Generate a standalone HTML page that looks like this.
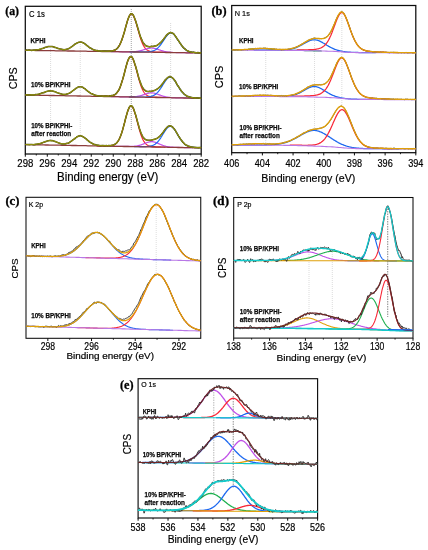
<!DOCTYPE html>
<html lang="en">
<head>
<meta charset="utf-8">
<title>XPS spectra</title>
<style>
html,body{margin:0;padding:0;background:#fff;}
body{width:428px;height:550px;overflow:hidden;}
svg{display:block;}
text{fill:#000;}
.ax{font-family:"Liberation Sans",Arial,sans-serif;stroke:#000;stroke-width:0.18px;}
.lb{font-family:"Liberation Sans",Arial,sans-serif;font-weight:bold;fill:#0a0a0a;stroke:#0a0a0a;stroke-width:0.25px;}
.pn{font-family:"Liberation Serif","Times New Roman",serif;font-weight:bold;fill:#000;stroke:#000;stroke-width:0.3px;}
</style>
</head>
<body>
<svg width="428" height="550" viewBox="0 0 428 550">
<rect width="428" height="550" fill="#fff"/>
<rect x="25.3" y="6.3" width="175.9" height="147.7" fill="#fff" stroke="#0c0c0c" stroke-width="1.25"/>
<line x1="25.3" y1="154" x2="25.3" y2="156.7" stroke="#0c0c0c" stroke-width="1.0"/>
<text x="17.3" y="167" font-size="10.4" class="ax" textLength="16" lengthAdjust="spacingAndGlyphs">298</text>
<line x1="47.29" y1="154" x2="47.29" y2="156.7" stroke="#0c0c0c" stroke-width="1.0"/>
<text x="39.29" y="167" font-size="10.4" class="ax" textLength="16" lengthAdjust="spacingAndGlyphs">296</text>
<line x1="69.27" y1="154" x2="69.27" y2="156.7" stroke="#0c0c0c" stroke-width="1.0"/>
<text x="61.27" y="167" font-size="10.4" class="ax" textLength="16" lengthAdjust="spacingAndGlyphs">294</text>
<line x1="91.26" y1="154" x2="91.26" y2="156.7" stroke="#0c0c0c" stroke-width="1.0"/>
<text x="83.26" y="167" font-size="10.4" class="ax" textLength="16" lengthAdjust="spacingAndGlyphs">292</text>
<line x1="113.25" y1="154" x2="113.25" y2="156.7" stroke="#0c0c0c" stroke-width="1.0"/>
<text x="105.25" y="167" font-size="10.4" class="ax" textLength="16" lengthAdjust="spacingAndGlyphs">290</text>
<line x1="135.24" y1="154" x2="135.24" y2="156.7" stroke="#0c0c0c" stroke-width="1.0"/>
<text x="127.24" y="167" font-size="10.4" class="ax" textLength="16" lengthAdjust="spacingAndGlyphs">288</text>
<line x1="157.22" y1="154" x2="157.22" y2="156.7" stroke="#0c0c0c" stroke-width="1.0"/>
<text x="149.22" y="167" font-size="10.4" class="ax" textLength="16" lengthAdjust="spacingAndGlyphs">286</text>
<line x1="179.21" y1="154" x2="179.21" y2="156.7" stroke="#0c0c0c" stroke-width="1.0"/>
<text x="171.21" y="167" font-size="10.4" class="ax" textLength="16" lengthAdjust="spacingAndGlyphs">284</text>
<line x1="201.2" y1="154" x2="201.2" y2="156.7" stroke="#0c0c0c" stroke-width="1.0"/>
<text x="193.2" y="167" font-size="10.4" class="ax" textLength="16" lengthAdjust="spacingAndGlyphs">282</text>
<line x1="36.29" y1="154" x2="36.29" y2="155.5" stroke="#0c0c0c" stroke-width="0.9"/>
<line x1="58.28" y1="154" x2="58.28" y2="155.5" stroke="#0c0c0c" stroke-width="0.9"/>
<line x1="80.27" y1="154" x2="80.27" y2="155.5" stroke="#0c0c0c" stroke-width="0.9"/>
<line x1="102.26" y1="154" x2="102.26" y2="155.5" stroke="#0c0c0c" stroke-width="0.9"/>
<line x1="124.24" y1="154" x2="124.24" y2="155.5" stroke="#0c0c0c" stroke-width="0.9"/>
<line x1="146.23" y1="154" x2="146.23" y2="155.5" stroke="#0c0c0c" stroke-width="0.9"/>
<line x1="168.22" y1="154" x2="168.22" y2="155.5" stroke="#0c0c0c" stroke-width="0.9"/>
<line x1="190.21" y1="154" x2="190.21" y2="155.5" stroke="#0c0c0c" stroke-width="0.9"/>
<text x="57" y="181.3" font-size="12.3" class="ax" textLength="101.4" lengthAdjust="spacingAndGlyphs">Binding energy (eV)</text>
<line x1="50.59" y1="47" x2="50.59" y2="140" stroke="#c4c4c4" stroke-width="0.6" stroke-dasharray="1 1"/>
<line x1="80.27" y1="42" x2="80.27" y2="135" stroke="#c4c4c4" stroke-width="0.6" stroke-dasharray="1 1"/>
<line x1="131.28" y1="9" x2="131.28" y2="130" stroke="#666" stroke-width="0.6" stroke-dasharray="1 1"/>
<line x1="151.73" y1="43" x2="151.73" y2="143" stroke="#c0c0c0" stroke-width="0.6" stroke-dasharray="1 1"/>
<line x1="170.64" y1="23" x2="170.64" y2="126" stroke="#c0c0c0" stroke-width="0.6" stroke-dasharray="1 1"/>
<path d="M97.5 51.3l.5-0 .5-0 .5-0 .5-0 .5-0 .5-0 .5-0 .5-0 .5-0 .5-0 .5 0 .5 0 .5 0 .5 0 .5 0 .5-0 .5-0 .5-0 .5-0 .5-0 .5-0 .5-0 .5-.1 .5 0 .5-0 .5-.1 .5 0 .5-.1 .5-0 .5-.1 .5-.1 .5-.1 .5-.2 .5-.2 .5-.2 .5-.3 .5-.3 .5-.4 .5-.4 .5-.5 .5-.6 .5-.7 .5-.8 .5-.8 .5-1 .5-1 .5-1.2 .5-1.2 .5-1.4 .5-1.5 .5-1.5 .5-1.6 .5-1.7 .5-1.8 .5-1.8 .5-1.8 .5-1.8 .5-1.8 .5-1.7 .5-1.6 .5-1.5 .5-1.4 .5-1.2 .5-1 .5-.8 .5-.6 .5-.4 .5-.1 .5 .2 .5 .4 .5 .6 .5 .9 .5 1.1 .5 1.2 .5 1.4 .6 1.6 .5 1.6 .5 1.8 .5 1.8 .5 1.8 .5 1.8 .5 1.8 .5 1.8 .5 1.7 .5 1.6 .5 1.6 .5 1.4 .5 1.4 .5 1.3 .5 1.1 .5 1.1 .5 .9 .5 .9 .5 .7 .5 .7 .5 .6 .5 .5 .5 .4 .5 .4 .5 .3 .5 .3 .5 .3 .5 .2 .5 .1 .5 .2 .5 .1 .5 .1 .5 .1 .5 0 .5 .1 .5 .1 .5-0 .5 0 .5 .1 .5-0 .5 0 .5 0 .5 .1 .5-0 .5-0 .5 0 .5 0 .5 0 .5 .1 .5-0 .5-0 .5 0 .5 0 .5 0 .5 0 .5 .1 .5-0 .5-0 .5-0 .5 0 .5 0" fill="none" stroke="#f82838" stroke-width="1.2" stroke-linejoin="round" stroke-linecap="round"/>
<path d="M111 51.6l.5 0 .5 0 .5 0 .5 0 .5 0 .5 0 .5 .1 .5-0 .5-0 .5-0 .5-0 .5-0 .5-0 .5 0 .5 0 .5 0 .5 0 .5 0 .5 0 .5 0 .5 0 .5 .1 .5-0 .5-0 .5-0 .5-0 .5-0 .5-0 .5-0 .5 0 .5 0 .5 0 .5 0 .5 0 .5 0 .5 0 .5 0 .5 0 .5-0 .5-0 .5-0 .5-0 .5-.1 .5 0 .5-0 .5-0 .5-.1 .5-0 .6-.1 .5-0 .5-.1 .5-0 .5-.1 .5-.1 .5-.1 .5-.1 .5-.1 .5-.1 .5-.1 .5-.2 .5-.1 .5-.1 .5-.2 .5-.1 .5-.2 .5-.2 .5-.1 .5-.2 .5-.1 .5-.2 .5-.1 .5-.2 .5-.1 .5-.1 .5-.1 .5-.1 .5-.1 .5-.1 .5-0 .5-.1 .5 0 .5 .1 .5-0 .5 0 .5 .1 .5 .1 .5 .1 .5 .1 .5 .1 .5 .2 .5 .1 .5 .2 .5 .2 .5 .1 .5 .2 .5 .2 .5 .2 .5 .1 .5 .2 .5 .2 .5 .1 .5 .2 .5 .1 .5 .2 .5 .1 .5 .1 .5 .2 .5 .1 .5 .1 .5 .1 .5 .1 .5 0 .5 .1 .5 .1 .5 0 .5 .1 .5 0 .5 .1 .5 0 .5 0 .5 .1 .5 0 .5 0 .5 .1 .5-0 .5-0 .5 0 .5 0 .5 0 .5 .1 .5-0 .5-0 .5-0 .5 0 .5 0 .6 0 .5 0 .5 0 .5 .1 .5-0 .5-0 .5-0 .5-0 .5-0 .5 0 .5 0 .5 0 .5 0 .5 0 .5 0 .5 .1 .5-0 .5-0 .5-0 .5-0 .5-0 .5 0 .5 0 .5 0 .5 0 .5 0 .5 0 .5 .1" fill="none" stroke="#c050e8" stroke-width="1.2" stroke-linejoin="round" stroke-linecap="round"/>
<path d="M130 51.8l.5 0 .5 .1 .5-0 .5-0 .5-0 .5-0 .5-0 .5-0 .5-0 .5-0 .6 0 .5 0 .5 0 .5 0 .5 0 .5 0 .5 0 .5 0 .5 0 .5 0 .5 0 .5 0 .5 0 .5 0 .5 0 .5 0 .5 0 .5 0 .5 0 .5 0 .5 0 .5 0 .5-0 .5-0 .5-.1 .5 0 .5-0 .5-.1 .5-0 .5-.1 .5-.1 .5-.1 .5-.1 .5-.1 .5-.1 .5-.2 .5-.2 .5-.2 .5-.2 .5-.3 .5-.3 .5-.3 .5-.4 .5-.4 .5-.4 .5-.5 .5-.5 .5-.5 .5-.6 .5-.6 .5-.7 .5-.7 .5-.7 .5-.7 .5-.8 .5-.7 .5-.8 .5-.8 .5-.8 .5-.7 .5-.8 .5-.7 .5-.6 .5-.6 .5-.6 .5-.5 .5-.4 .5-.4 .5-.3 .5-.2 .5-0 .5-.1 .5 .1 .5 .2 .5 .3 .5 .3 .5 .4 .5 .5 .5 .6 .5 .6 .5 .7 .5 .7 .5 .7 .5 .8 .5 .7 .5 .8 .5 .8 .6 .8 .5 .8 .5 .8 .5 .7 .5 .7 .5 .7 .5 .6 .5 .6 .5 .6 .5 .6 .5 .5 .5 .4 .5 .4 .5 .4 .5 .4 .5 .3 .5 .3 .5 .3 .5 .2 .5 .2 .5 .2 .5 .2 .5 .1 .5 .1 .5 .1 .5 .1 .5 .1 .5 .1 .5 0 .5 .1 .5 .1 .5-0 .5 0 .5 .1 .5-0 .5 0 .5 0 .5 .1 .5-0 .5-0 .5 0 .5 0 .5 0 .5 .1" fill="none" stroke="#1c68f0" stroke-width="1.2" stroke-linejoin="round" stroke-linecap="round"/>
<path d="M25.8 50.3l2 0 2 .1 2-0 2 0 2 .1 2-0 2 0 2 .1 2-0 2 0 2.1 0 2 .1 2 0 2 0 2 .1 2-0 2 0 2 .1 2-0 2 0 2 .1 2-0 2 0 2 0 2 .1 2 0 2 0 2 .1 2-0 2 0 2 .1 2-0 2.1 0 2 .1 2-0 2 0 2 0 2 .1 2 0 2 0 2 .1 2-0 2 0 2 .1 2-0 2 0 2 .1 2-0 2 0 2 0 2 .1 2 0 2 0 2 .1 2.1 0 2 0 2 .1 2-0 2 0 2 .1 2-0 2 0 2 0 2 .1 2 0 2 0 2 .1 2 0 2 0 2 .1 2-0 2 0 2 .1 2-0 2 0 2 0 2.1 .1 2 0 2 0 2 .1 2 0 2 0 2 .1 2-0 2 0 2 .1 2-0 .5-0" fill="none" stroke="#8c3c3c" stroke-width="1.3" stroke-linejoin="round" stroke-linecap="round"/>
<path d="M25.8 50.1l.5 0 .5 0 .5 .1 .5 .1 .5-.2 .5 0 .5 0 .5-0 .5 .1 .5-0 .5 .2 .5-0 .5-.1 .5 0 .5-.2 .5-0 .5 0 .5-.1 .5-.1 .5-0 .5-.2 .5 .2 .5 0 .5 .1 .5-.2 .5-.2 .5-.2 .5-.1 .5-.1 .5-.1 .5-.2 .5-.3 .5 0 .5-.2 .5-.1 .5-.3 .5-.1 .5-.4 .5-.2 .5-0 .5-.1 .5-.2 .5-.1 .6-.3 .5 0 .5-.1 .5-.1 .5 .1 .5-.1 .5-0 .5 0 .5 .1 .5 .1 .5 .1 .5 .1 .5 .2 .5 .3 .5 .2 .5 0 .5 .1 .5 .2 .5 .2 .5 .3 .5 .1 .5 .2 .5 .1 .5 .1 .5 .1 .5-0 .5 .2 .5 .1 .5 .1 .5 .2 .5 .2 .5-0 .5-.1 .5 .1 .5-0 .5-.1 .5-.2 .5-.1 .5-0 .5-.3 .5-.1 .5-.1 .5-.2 .5-.4 .5-.3 .5-.3 .5-.4 .5-.3 .5-.4 .5-.2 .5-.5 .5-.4 .5-.4 .5-.3 .5-.6 .5-.1 .5-.4 .5-.3 .5-.1 .5-.4 .5-.2 .5-.2 .5-.1 .5-.1 .5 0 .5-.1 .5-.1 .5 .2 .5 0 .5 .3 .5 .2 .5 .1 .5 .4 .5 .3 .5 .3 .5 .3 .5 .5 .5 .6 .5 .3 .5 .3 .5 .4 .5 .4 .5 .5 .5 .3 .5 .5 .5 0 .5 .3 .6 .5 .5 .3 .5 0 .5 .6 .5 .2 .5 .2 .5-.1 .5 .3 .5 .1 .5 .1 .5 .1 .5-0 .5 0 .5 .2 .5 .2 .5 .1 .5 .1 .5-0 .5 0 .5 .2 .5-.1 .5-.2 .5 .1 .5-0 .5-.1 .5-0 .5 .1 .5-0 .5-0 .5-.1 .5 .2 .5-.1 .5 0 .5-.1 .5-.1 .5 .2 .5-.1 .5 .1 .5 0 .5-0 .5-.1 .5-.1 .5 0 .5-.1 .5-.3 .5-.2 .5 0 .5-.4 .5-.2 .5-.3 .5-.3 .5-.6 .5-.3 .5-.8 .5-.6 .5-.9 .5-.8 .5-.9 .5-1.2 .5-1 .5-1.4 .5-1.2 .5-1.7 .5-1.3 .5-1.7 .5-1.5 .5-1.7 .5-1.9 .5-1.9 .5-1.8 .5-1.7 .5-1.8 .5-1.8 .5-1.4 .5-1.3 .5-1.2 .5-1.1 .5-.7 .5-.9 .5-.3 .5 .1 .5 .1 .5 .3 .5 .5 .5 .8 .5 1.3 .5 1.1 .5 1.4 .6 1.5 .5 1.6 .5 1.5 .5 1.6 .5 1.8 .5 1.8 .5 1.5 .5 1.8 .5 1.6 .5 1.6 .5 1.4 .5 1.1 .5 1.3 .5 1.1 .5 1.1 .5 1 .5 .8 .5 .5 .5 .5 .5 .6 .5 .4 .5 .5 .5 .1 .5 .2 .5 .3 .5-0 .5 0 .5 .2 .5 .2 .5-.2 .5-.1 .5-.1 .5-.3 .5 .2 .5 .2 .5-.1 .5-.2 .5-.2 .5-.1 .5-.1 .5-0 .5-.1 .5-.1 .5-.3 .5-.3 .5-.6 .5-.4 .5-.3 .5-.4 .5-.5 .5-.4 .5-.4 .5-.6 .5-.5 .5-.7 .5-.6 .5-.5 .5-.8 .5-.6 .5-.7 .5-.7 .5-.7 .5-.6 .5-.5 .5-.4 .5-.4 .5-.3 .5-.4 .5-.3 .5-.1 .5-.3 .5 .2 .5 .3 .5 .1 .5 .2 .5 .2 .5 .5 .5 .5 .5 .7 .5 .7 .5 .6 .5 .8 .5 .8 .5 .7 .5 .8 .5 .7 .5 .6 .6 .8 .5 1 .5 .7 .5 .7 .5 .7 .5 .7 .5 .8 .5 .7 .5 .5 .5 .5 .5 .4 .5 .4 .5 .4 .5 .4 .5 .5 .5 .4 .5 .3 .5 .2 .5 .3 .5 .1 .5 .4 .5 .1 .5 .3 .5 0 .5-.1 .5 .3 .5 0 .5-0 .5-.1 .5-.1 .5 .2 .5 .2 .5 0 .5 .3 .5-.1 .5 .1 .5-.1 .5-.1 .5-0 .5 .1 .5 .1 .5-0 .5 0 .5 0" fill="none" stroke="#4a4a10" stroke-width="1.5" stroke-linejoin="round" stroke-linecap="round"/>
<path d="M25.8 50.2l.5 0 .5 0 .5 0 .5 0 .5 .1 .5-0 .5-0 .5-.1 .5 0 .5 0 .5 0 .5 0 .5 0 .5-0 .5-0 .5-.1 .5 0 .5-0 .5-.1 .5-0 .5-.1 .5-0 .5-.1 .5-.1 .5-.1 .5-.1 .5-.1 .5-.1 .5-.2 .5-.1 .5-.2 .5-.1 .5-.2 .5-.1 .5-.2 .5-.2 .5-.2 .5-.1 .5-.2 .5-.2 .5-.1 .5-.2 .5-.1 .6-.1 .5-.1 .5-.1 .5-0 .5-.1 .5 0 .5 0 .5 0 .5 .1 .5 .1 .5 .1 .5 .1 .5 .1 .5 .1 .5 .2 .5 .2 .5 .1 .5 .2 .5 .2 .5 .2 .5 .1 .5 .2 .5 .2 .5 .1 .5 .2 .5 .1 .5 .1 .5 .1 .5 .1 .5 .1 .5 0 .5 .1 .5-0 .5-0 .5-0 .5-.1 .5-.1 .5-.1 .5-.1 .5-.1 .5-.2 .5-.2 .5-.2 .5-.3 .5-.3 .5-.3 .5-.3 .5-.3 .5-.4 .5-.3 .5-.4 .5-.4 .5-.4 .5-.3 .5-.4 .5-.4 .5-.3 .5-.4 .5-.3 .5-.2 .5-.3 .5-.2 .5-.1 .5-.1 .5-.1 .5 0 .5 .1 .5 .1 .5 .1 .5 .2 .5 .3 .5 .2 .5 .3 .5 .4 .5 .3 .5 .4 .5 .4 .5 .4 .5 .4 .5 .4 .5 .4 .5 .4 .5 .3 .5 .4 .5 .3 .5 .4 .5 .3 .6 .3 .5 .2 .5 .3 .5 .2 .5 .2 .5 .2 .5 .2 .5 .1 .5 .2 .5 .1 .5 .1 .5 .1 .5 .1 .5 0 .5 .1 .5 0 .5 .1 .5 0 .5 0 .5 .1 .5-0 .5 0 .5 0 .5 0 .5 .1 .5-0 .5-0 .5-0 .5-0 .5-0 .5-0 .5-0 .5-0 .5-0 .5-.1 .5 0 .5 0 .5-0 .5-.1 .5 0 .5-.1 .5-0 .5-.1 .5-.1 .5-.1 .5-.2 .5-.2 .5-.2 .5-.3 .5-.3 .5-.4 .5-.4 .5-.5 .5-.6 .5-.7 .5-.8 .5-.8 .5-1 .5-1 .5-1.2 .5-1.2 .5-1.4 .5-1.5 .5-1.5 .5-1.7 .5-1.7 .5-1.7 .5-1.8 .5-1.8 .5-1.8 .5-1.8 .5-1.7 .5-1.6 .5-1.6 .5-1.4 .5-1.2 .5-1 .5-.8 .5-.6 .5-.4 .5-.1 .5 .1 .5 .4 .5 .6 .5 .8 .5 1.1 .5 1.2 .5 1.3 .6 1.5 .5 1.6 .5 1.7 .5 1.7 .5 1.7 .5 1.8 .5 1.7 .5 1.6 .5 1.6 .5 1.5 .5 1.4 .5 1.4 .5 1.2 .5 1.1 .5 1 .5 .8 .5 .8 .5 .7 .5 .6 .5 .5 .5 .4 .5 .3 .5 .3 .5 .2 .5 .1 .5 .1 .5 .1 .5 0 .5 .1 .5-0 .5-.1 .5 0 .5-0 .5-.1 .5-.1 .5-0 .5-.1 .5-.1 .5-.1 .5-.2 .5-.1 .5-.2 .5-.2 .5-.2 .5-.3 .5-.3 .5-.3 .5-.4 .5-.4 .5-.5 .5-.5 .5-.5 .5-.5 .5-.6 .5-.6 .5-.6 .5-.7 .5-.6 .5-.7 .5-.6 .5-.7 .5-.6 .5-.6 .5-.5 .5-.5 .5-.5 .5-.3 .5-.3 .5-.3 .5-.1 .5-.1 .5 0 .5 .2 .5 .1 .5 .3 .5 .4 .5 .4 .5 .5 .5 .6 .5 .6 .5 .7 .5 .7 .5 .8 .5 .7 .5 .8 .5 .8 .5 .8 .6 .8 .5 .8 .5 .7 .5 .8 .5 .7 .5 .7 .5 .6 .5 .6 .5 .6 .5 .6 .5 .5 .5 .4 .5 .5 .5 .4 .5 .3 .5 .3 .5 .3 .5 .3 .5 .2 .5 .2 .5 .2 .5 .2 .5 .1 .5 .2 .5 .1 .5 .1 .5 0 .5 .1 .5 .1 .5 0 .5 .1 .5 0 .5 .1 .5 0 .5 0 .5 .1 .5-0 .5 0 .5 0 .5 0 .5 .1 .5-0 .5-0 .5 0" fill="none" stroke="#8e8e0c" stroke-width="1.15" stroke-linejoin="round" stroke-linecap="round"/>
<path d="M96.5 96.2l.5-0 .5 0 .5 0 .5 0 .5 0 .5 0 .5 0 .5 0 .5 0 .5 0 .5 0 .5 0 .5 0 .5 0 .5 0 .5 0 .5 0 .5 0 .5 0 .5 0 .5 0 .5 0 .5-0 .5-0 .5-0 .5-.1 .5-0 .5-.1 .5-0 .5-.1 .5-.1 .5-.1 .5-.2 .5-.1 .5-.3 .5-.2 .5-.3 .5-.4 .5-.4 .5-.5 .5-.5 .5-.7 .5-.7 .5-.9 .5-.9 .5-1 .5-1.2 .5-1.2 .5-1.4 .5-1.5 .5-1.6 .5-1.7 .5-1.7 .5-1.8 .5-1.9 .5-1.9 .5-1.9 .5-1.9 .5-1.9 .5-1.8 .5-1.7 .5-1.5 .5-1.4 .5-1.3 .5-1 .5-.8 .5-.5 .5-.3 .5 0 .5 .3 .5 .5 .5 .7 .5 1 .5 1.2 .5 1.4 .5 1.6 .5 1.6 .6 1.8 .5 1.9 .5 1.9 .5 1.9 .5 2 .5 1.9 .5 1.8 .5 1.8 .5 1.7 .5 1.6 .5 1.6 .5 1.4 .5 1.3 .5 1.2 .5 1 .5 1 .5 .9 .5 .8 .5 .7 .5 .6 .5 .5 .5 .4 .5 .4 .5 .3 .5 .3 .5 .3 .5 .2 .5 .1 .5 .2 .5 .1 .5 .1 .5 .1 .5 .1 .5 0 .5 .1 .5 0 .5 0 .5 .1 .5 0 .5 0 .5 .1 .5-0 .5 0 .5 0 .5 .1 .5-0 .5-0 .5 0 .5 0 .5 0 .5 .1 .5-0 .5-0 .5-0 .5 0 .5 0 .5 0 .5 .1 .5-0 .5-0" fill="none" stroke="#f82838" stroke-width="1.2" stroke-linejoin="round" stroke-linecap="round"/>
<path d="M111 96.6l.5 0 .5 0 .5 0 .5 0 .5 0 .5 0 .5 .1 .5-0 .5-0 .5-0 .5-0 .5-0 .5 0 .5 0 .5 0 .5 0 .5 0 .5 .1 .5-0 .5-0 .5-0 .5-0 .5-0 .5-0 .5 0 .5 0 .5 0 .5 0 .5 0 .5 0 .5 0 .5 .1 .5-0 .5-0 .5-0 .5-0 .5-0 .5-0 .5-.1 .5 0 .5 0 .5 0 .5-0 .5-0 .5-.1 .5 0 .5-0 .5-.1 .6-0 .5-.1 .5-0 .5-.1 .5-.1 .5-.1 .5-.1 .5-.1 .5-.1 .5-.1 .5-.1 .5-.2 .5-.1 .5-.2 .5-.1 .5-.2 .5-.2 .5-.1 .5-.2 .5-.2 .5-.1 .5-.2 .5-.2 .5-.1 .5-.1 .5-.2 .5-.1 .5-.1 .5-.1 .5-0 .5-.1 .5-0 .5-0 .5-0 .5 0 .5 .1 .5 0 .5 .1 .5 .2 .5 .1 .5 .1 .5 .2 .5 .1 .5 .2 .5 .2 .5 .2 .5 .2 .5 .2 .5 .1 .5 .2 .5 .2 .5 .2 .5 .2 .5 .1 .5 .2 .5 .2 .5 .1 .5 .1 .5 .2 .5 .1 .5 .1 .5 .1 .5 .1 .5 .1 .5 .1 .5 0 .5 .1 .5 0 .5 .1 .5 0 .5 .1 .5 0 .5 .1 .5-0 .5 0 .5 .1 .5-0 .5-0 .5 0 .5 0 .5 .1 .5-0 .5-0 .5-0 .5 0 .5 0 .5 0 .6 0 .5 .1 .5-0 .5-0 .5-0 .5 0 .5 0 .5 0 .5 0 .5 0 .5 .1 .5-0 .5-0 .5-0 .5-0 .5 0 .5 0 .5 0 .5 0 .5 0 .5 .1 .5-0 .5-0 .5-0 .5-0 .5 0 .5 0 .5 0" fill="none" stroke="#c050e8" stroke-width="1.2" stroke-linejoin="round" stroke-linecap="round"/>
<path d="M129.5 96.9l.5-0 .5-0 .5 0 .5 0 .5 0 .5 0 .5 0 .5 0 .5 0 .5 .1 .5-0 .6-0 .5-0 .5-0 .5-0 .5-0 .5-0 .5 0 .5 0 .5 0 .5 0 .5 0 .5 0 .5 0 .5 0 .5 0 .5 0 .5 0 .5 0 .5 0 .5 0 .5-0 .5-0 .5-.1 .5 0 .5-0 .5-.1 .5-0 .5-.1 .5-0 .5-.1 .5-.1 .5-.2 .5-.1 .5-.1 .5-.2 .5-.2 .5-.3 .5-.2 .5-.3 .5-.3 .5-.4 .5-.4 .5-.4 .5-.5 .5-.5 .5-.6 .5-.6 .5-.6 .5-.7 .5-.7 .5-.7 .5-.8 .5-.8 .5-.8 .5-.8 .5-.8 .5-.8 .5-.8 .5-.8 .5-.8 .5-.7 .5-.6 .5-.7 .5-.5 .5-.5 .5-.4 .5-.3 .5-.3 .5-.1 .5-.1 .5 .1 .5 .1 .5 .2 .5 .4 .5 .4 .5 .4 .5 .6 .5 .6 .5 .7 .5 .7 .5 .8 .5 .8 .5 .8 .5 .8 .5 .9 .5 .8 .5 .8 .6 .8 .5 .8 .5 .8 .5 .7 .5 .7 .5 .7 .5 .6 .5 .6 .5 .5 .5 .5 .5 .5 .5 .4 .5 .4 .5 .4 .5 .3 .5 .3 .5 .2 .5 .3 .5 .2 .5 .2 .5 .1 .5 .2 .5 .1 .5 .1 .5 .1 .5 .1 .5 .1 .5 0 .5 .1 .5 0 .5 .1 .5 0 .5 0 .5 .1 .5-0 .5 0 .5 0 .5 .1 .5-0 .5-0 .5 0 .5 0 .5 0 .5 .1" fill="none" stroke="#1c68f0" stroke-width="1.2" stroke-linejoin="round" stroke-linecap="round"/>
<path d="M25.8 95l2 0 2 .1 2 0 2 .1 2-0 2 0 2 .1 2 0 2 0 2 .1 2.1 0 2 .1 2-0 2 0 2 .1 2 0 2 0 2 .1 2 0 2 .1 2-0 2 0 2 .1 2 0 2 0 2 .1 2 0 2 .1 2-0 2 0 2 .1 2 0 2.1 .1 2-0 2 0 2 .1 2 0 2 0 2 .1 2 0 2 .1 2-0 2 0 2 .1 2 0 2 0 2 .1 2 0 2 .1 2-0 2 0 2 .1 2 0 2 0 2.1 .1 2 0 2 .1 2-0 2 0 2 .1 2 0 2 0 2 .1 2 0 2 .1 2-0 2 0 2 .1 2 0 2 0 2 .1 2 0 2 .1 2-0 2 0 2 .1 2.1 0 2 0 2 .1 2 0 2 .1 2-0 2 0 2 .1 2 0 2 0 2 .1 .5-0" fill="none" stroke="#8c3c3c" stroke-width="1.3" stroke-linejoin="round" stroke-linecap="round"/>
<path d="M25.8 94.8l.5 .1 .5 .1 .5-.1 .5-.1 .5 .1 .5 .1 .5 .1 .5-.2 .5-.1 .5 .1 .5 .1 .5 .1 .5 0 .5-.1 .5-.1 .5 .2 .5-.2 .5-.2 .5-.1 .5-0 .5-0 .5-.1 .5-.1 .5-0 .5-.1 .5-0 .5-.2 .5-.4 .5 0 .5-.3 .5-.1 .5-.3 .5-.1 .5-.2 .5-.1 .5 .2 .5-.4 .5-.1 .5-.4 .5-.2 .5-.1 .5-.2 .5-.1 .6-.2 .5-.2 .5 0 .5-.1 .5 .1 .5-.1 .5 .1 .5-0 .5 .1 .5-0 .5 .2 .5 0 .5 .3 .5 .1 .5 .2 .5 0 .5 .3 .5 .2 .5 .4 .5 0 .5 .2 .5 .3 .5 .1 .5 .2 .5 .1 .5 .1 .5 .1 .5 .1 .5 .2 .5 .2 .5 .1 .5 .1 .5 0 .5 0 .5-.1 .5 0 .5 .1 .5-.3 .5-.2 .5 0 .5-.2 .5-.2 .5-.2 .5-.4 .5-.1 .5-.2 .5-.4 .5-.4 .5-.4 .5-.5 .5-.4 .5-.3 .5-.3 .5-.4 .5-.4 .5-.3 .5-.5 .5-.3 .5-.2 .5-.4 .5-.4 .5-.2 .5-.1 .5-0 .5 .1 .5-.2 .5 .1 .5 .1 .5 .1 .5-0 .5 .4 .5 .5 .5 .4 .5 .1 .5 .3 .5 .4 .5 .7 .5 .3 .5 .4 .5 .5 .5 .3 .5 .5 .5 .2 .5 .3 .5 .4 .5 .5 .5 .3 .6 .3 .5-0 .5 .2 .5 .3 .5 .2 .5 .3 .5 .1 .5 .3 .5 .1 .5 .1 .5 .1 .5 .1 .5 .2 .5-0 .5-0 .5-.1 .5 .3 .5 .1 .5-0 .5-.1 .5-.1 .5 .1 .5 .1 .5 .2 .5-.1 .5-.1 .5-.2 .5 .2 .5 0 .5-.1 .5 0 .5-.1 .5 .4 .5 0 .5-0 .5-.2 .5-.3 .5 .1 .5-.2 .5 .1 .5-.3 .5-0 .5 .1 .5-0 .5-.4 .5-.3 .5-.1 .5-.2 .5-.5 .5-.5 .5-.5 .5-.6 .5-.7 .5-.5 .5-.8 .5-.7 .5-1.2 .5-1.2 .5-1.4 .5-1.4 .5-1.6 .5-1.7 .5-1.4 .5-1.6 .5-1.8 .5-1.8 .5-2 .5-2.1 .5-1.9 .5-1.9 .5-1.8 .5-1.8 .5-1.7 .5-1.2 .5-1.2 .5-1 .5-.7 .5-.5 .5-.3 .5 0 .5 .1 .5 .3 .5 .9 .5 .9 .5 1.3 .5 1.3 .5 1.6 .5 1.7 .6 1.4 .5 1.9 .5 1.8 .5 1.8 .5 1.8 .5 2 .5 1.8 .5 1.7 .5 1.4 .5 1.4 .5 1.2 .5 1.4 .5 1.3 .5 .9 .5 1 .5 .8 .5 .8 .5 .5 .5 .4 .5 .3 .5 .6 .5 .3 .5 .1 .5 .1 .5 .1 .5 0 .5 0 .5-0 .5-.2 .5-0 .5 .1 .5-0 .5-.2 .5-.1 .5-.1 .5-.1 .5-.2 .5-.1 .5-.2 .5-.3 .5-.2 .5-.3 .5-.3 .5-.2 .5-.5 .5-.3 .5-.4 .5-.4 .5-.5 .5-.3 .5-.6 .5-.6 .5-.7 .5-.6 .5-.6 .5-.7 .5-.8 .5-.7 .5-.7 .5-.7 .5-.4 .5-.5 .5-.6 .5-.3 .5-.5 .5-.3 .5-.2 .5-.4 .5-.3 .5 0 .5 .3 .5 .3 .5 .1 .5 .5 .5 .3 .5 .5 .5 .5 .5 .7 .5 .5 .5 .7 .5 .8 .5 .9 .5 1.1 .5 1.1 .5 .6 .5 .6 .5 .8 .6 .8 .5 1 .5 .8 .5 .6 .5 .8 .5 .7 .5 .4 .5 .6 .5 .5 .5 .6 .5 .5 .5 .4 .5 .4 .5 .3 .5 .3 .5 .5 .5 .2 .5 .3 .5-0 .5 .2 .5 .3 .5-0 .5 .3 .5 0 .5 .2 .5 0 .5 .1 .5 .2 .5-.1 .5 .2 .5-.1 .5-0 .5 .1 .5-.1 .5 0 .5 .2 .5 .1 .5-.2 .5 .1 .5 .2 .5 .1 .5-.1 .5-.1 .5-0" fill="none" stroke="#4a4a10" stroke-width="1.5" stroke-linejoin="round" stroke-linecap="round"/>
<path d="M25.8 94.9l.5 0 .5 0 .5 0 .5 0 .5 .1 .5-0 .5-0 .5-0 .5-.1 .5 0 .5 0 .5 0 .5 0 .5-0 .5-0 .5-.1 .5 0 .5-0 .5-.1 .5-0 .5-.1 .5-.1 .5-.1 .5-.1 .5-.1 .5-.1 .5-.1 .5-.1 .5-.2 .5-.1 .5-.2 .5-.2 .5-.2 .5-.1 .5-.2 .5-.2 .5-.2 .5-.2 .5-.2 .5-.2 .5-.2 .5-.1 .5-.2 .6-.1 .5-.1 .5-.1 .5-.1 .5 0 .5-0 .5-0 .5 0 .5 .1 .5 .1 .5 .1 .5 .1 .5 .1 .5 .2 .5 .2 .5 .2 .5 .2 .5 .2 .5 .2 .5 .2 .5 .2 .5 .1 .5 .2 .5 .2 .5 .2 .5 .1 .5 .2 .5 .1 .5 .1 .5 .1 .5 .1 .5 0 .5 0 .5 0 .5 0 .5-0 .5-.1 .5-.1 .5-.1 .5-.2 .5-.1 .5-.2 .5-.3 .5-.2 .5-.3 .5-.3 .5-.3 .5-.4 .5-.3 .5-.4 .5-.4 .5-.3 .5-.4 .5-.4 .5-.4 .5-.4 .5-.3 .5-.4 .5-.3 .5-.2 .5-.3 .5-.2 .5-.1 .5-.1 .5-.1 .5 0 .5 .1 .5 .1 .5 .1 .5 .2 .5 .3 .5 .2 .5 .3 .5 .4 .5 .3 .5 .4 .5 .4 .5 .4 .5 .4 .5 .5 .5 .4 .5 .4 .5 .4 .5 .3 .5 .4 .5 .3 .5 .3 .6 .3 .5 .3 .5 .3 .5 .2 .5 .2 .5 .2 .5 .2 .5 .1 .5 .2 .5 .1 .5 .1 .5 .1 .5 .1 .5 0 .5 .1 .5 .1 .5 0 .5 0 .5 .1 .5 0 .5 0 .5 .1 .5-0 .5-0 .5-0 .5 0 .5 0 .5 0 .5 0 .5 0 .5 0 .5 0 .5-0 .5-0 .5-0 .5-.1 .5 0 .5-0 .5-.1 .5-0 .5-.1 .5-.1 .5-.1 .5-.2 .5-.1 .5-.3 .5-.2 .5-.3 .5-.4 .5-.4 .5-.5 .5-.5 .5-.7 .5-.7 .5-.9 .5-.9 .5-1 .5-1.2 .5-1.3 .5-1.3 .5-1.5 .5-1.6 .5-1.7 .5-1.7 .5-1.9 .5-1.8 .5-1.9 .5-2 .5-1.9 .5-1.8 .5-1.8 .5-1.7 .5-1.6 .5-1.4 .5-1.2 .5-1.1 .5-.8 .5-.5 .5-.3 .5-0 .5 .2 .5 .5 .5 .7 .5 1 .5 1.1 .5 1.4 .5 1.5 .5 1.6 .6 1.7 .5 1.8 .5 1.9 .5 1.8 .5 1.8 .5 1.8 .5 1.8 .5 1.7 .5 1.5 .5 1.5 .5 1.4 .5 1.3 .5 1.1 .5 1 .5 .9 .5 .8 .5 .7 .5 .6 .5 .5 .5 .4 .5 .3 .5 .2 .5 .2 .5 .2 .5 .1 .5 0 .5 0 .5 0 .5-0 .5-.1 .5-0 .5-.1 .5-.1 .5-.1 .5-.1 .5-.2 .5-.1 .5-.1 .5-.2 .5-.2 .5-.2 .5-.3 .5-.2 .5-.3 .5-.4 .5-.3 .5-.5 .5-.4 .5-.5 .5-.5 .5-.6 .5-.5 .5-.7 .5-.6 .5-.6 .5-.7 .5-.7 .5-.7 .5-.6 .5-.7 .5-.6 .5-.5 .5-.6 .5-.4 .5-.5 .5-.3 .5-.3 .5-.2 .5-.1 .5 0 .5 .1 .5 .2 .5 .2 .5 .4 .5 .4 .5 .5 .5 .6 .5 .6 .5 .7 .5 .8 .5 .7 .5 .8 .5 .9 .5 .8 .5 .8 .5 .9 .5 .8 .6 .8 .5 .8 .5 .8 .5 .7 .5 .7 .5 .7 .5 .6 .5 .6 .5 .5 .5 .5 .5 .5 .5 .4 .5 .4 .5 .4 .5 .3 .5 .3 .5 .3 .5 .2 .5 .2 .5 .2 .5 .2 .5 .1 .5 .1 .5 .1 .5 .1 .5 .1 .5 .1 .5 0 .5 .1 .5 .1 .5-0 .5 0 .5 .1 .5 0 .5 0 .5 .1 .5-0 .5 0 .5 0 .5 0 .5 .1 .5-0 .5-0 .5 0" fill="none" stroke="#8e8e0c" stroke-width="1.15" stroke-linejoin="round" stroke-linecap="round"/>
<path d="M97 145.8l.5 0 .5 0 .5 0 .5 0 .5 0 .5 0 .5 0 .5 0 .5 0 .5 0 .5 0 .5 0 .5 0 .5 0 .5 0 .5 0 .5 0 .5 0 .5 0 .5 0 .5 0 .5 0 .5-0 .5-0 .5-.1 .5 0 .5-0 .5-.1 .5-.1 .5-.1 .5-.1 .5-.1 .5-.2 .5-.2 .5-.2 .5-.3 .5-.3 .5-.4 .5-.5 .5-.5 .5-.6 .5-.7 .5-.8 .5-.9 .5-1 .5-1.1 .5-1.3 .5-1.3 .5-1.4 .5-1.6 .5-1.6 .5-1.8 .5-1.8 .5-1.8 .5-1.9 .5-2 .5-1.9 .5-1.9 .5-1.8 .5-1.8 .5-1.6 .5-1.5 .5-1.3 .5-1.1 .5-.9 .5-.7 .5-.4 .5-.1 .5 .1 .5 .4 .5 .7 .5 .9 .5 1.1 .5 1.3 .5 1.5 .5 1.6 .6 1.8 .5 1.9 .5 1.9 .5 1.9 .5 1.9 .5 2 .5 1.9 .5 1.8 .5 1.8 .5 1.6 .5 1.6 .5 1.5 .5 1.3 .5 1.3 .5 1.1 .5 1.1 .5 .9 .5 .8 .5 .7 .5 .7 .5 .5 .5 .5 .5 .4 .5 .4 .5 .3 .5 .3 .5 .2 .5 .2 .5 .1 .5 .1 .5 .2 .5 0 .5 .1 .5 .1 .5 0 .5 .1 .5 0 .5 .1 .5 0 .5 0 .5 .1 .5-0 .5 0 .5 0 .5 0 .5 .1 .5-0 .5-0 .5 0 .5 0 .5 0 .5 .1 .5-0 .5-0 .5 0 .5 0 .5 0 .5 .1 .5-0 .5-0" fill="none" stroke="#f82838" stroke-width="1.2" stroke-linejoin="round" stroke-linecap="round"/>
<path d="M111 146.2l.5-0 .5 0 .5 0 .5 0 .5 0 .5 0 .5 .1 .5-0 .5-0 .5-0 .5-0 .5-0 .5 0 .5 0 .5 0 .5 0 .5 0 .5 0 .5 .1 .5-0 .5-0 .5-0 .5-0 .5-0 .5 0 .5 0 .5 0 .5 0 .5 0 .5 0 .5 0 .5 0 .5 0 .5 0 .5 0 .5 0 .5 0 .5 0 .5 0 .5 0 .5-0 .5-0 .5-0 .5-.1 .5-0 .5-0 .5-.1 .5-0 .6-.1 .5-.1 .5-0 .5-.1 .5-.1 .5-.1 .5-.1 .5-.2 .5-.1 .5-.1 .5-.2 .5-.2 .5-.1 .5-.2 .5-.2 .5-.2 .5-.2 .5-.2 .5-.2 .5-.2 .5-.2 .5-.2 .5-.2 .5-.2 .5-.1 .5-.2 .5-.1 .5-.1 .5-.1 .5-.1 .5-.1 .5-0 .5-0 .5-0 .5 0 .5 .1 .5 .1 .5 .1 .5 .1 .5 .2 .5 .1 .5 .2 .5 .2 .5 .2 .5 .2 .5 .2 .5 .2 .5 .3 .5 .2 .5 .2 .5 .2 .5 .2 .5 .2 .5 .2 .5 .2 .5 .2 .5 .2 .5 .1 .5 .2 .5 .1 .5 .1 .5 .2 .5 .1 .5 .1 .5 .1 .5 0 .5 .1 .5 .1 .5 0 .5 .1 .5 .1 .5-0 .5 0 .5 .1 .5 0 .5 0 .5 .1 .5-0 .5 0 .5 0 .5 0 .5 .1 .5-0 .5-0 .5 0 .5 0 .5 0 .6 0 .5 .1 .5-0 .5-0 .5-0 .5-0 .5 0 .5 0 .5 0 .5 0 .5 .1 .5-0 .5-0 .5-0 .5-0 .5 0 .5 0 .5 0 .5 0 .5 0 .5 .1 .5-0 .5-0 .5-0 .5-0 .5 0 .5 0 .5 0" fill="none" stroke="#c050e8" stroke-width="1.2" stroke-linejoin="round" stroke-linecap="round"/>
<path d="M129.5 146.5l.5-0 .5-0 .5 0 .5 0 .5 0 .5 0 .5 0 .5 0 .5 0 .5 .1 .5-0 .6-0 .5-0 .5-0 .5-0 .5-0 .5-0 .5 0 .5 0 .5 0 .5 0 .5 0 .5 0 .5 0 .5 0 .5 0 .5 0 .5 0 .5 0 .5 0 .5-0 .5-0 .5-0 .5-.1 .5 0 .5-0 .5-.1 .5-0 .5-.1 .5-0 .5-.1 .5-.1 .5-.1 .5-.2 .5-.1 .5-.2 .5-.2 .5-.2 .5-.3 .5-.3 .5-.3 .5-.4 .5-.4 .5-.4 .5-.5 .5-.5 .5-.6 .5-.6 .5-.6 .5-.7 .5-.7 .5-.7 .5-.8 .5-.8 .5-.8 .5-.9 .5-.8 .5-.8 .5-.8 .5-.8 .5-.8 .5-.7 .5-.7 .5-.7 .5-.6 .5-.5 .5-.4 .5-.4 .5-.2 .5-.2 .5-.1 .5 0 .5 .2 .5 .2 .5 .3 .5 .4 .5 .5 .5 .5 .5 .6 .5 .7 .5 .7 .5 .8 .5 .8 .5 .8 .5 .9 .5 .8 .5 .9 .5 .8 .6 .9 .5 .8 .5 .7 .5 .8 .5 .7 .5 .7 .5 .6 .5 .7 .5 .5 .5 .5 .5 .5 .5 .5 .5 .4 .5 .4 .5 .3 .5 .3 .5 .3 .5 .2 .5 .2 .5 .2 .5 .2 .5 .1 .5 .2 .5 .1 .5 .1 .5 .1 .5 0 .5 .1 .5 .1 .5 0 .5 0 .5 .1 .5 0 .5 .1 .5-0 .5 0 .5 0 .5 .1 .5-0 .5-0 .5 0 .5 0 .5 0 .5 .1" fill="none" stroke="#1c68f0" stroke-width="1.2" stroke-linejoin="round" stroke-linecap="round"/>
<path d="M25.8 144.6l2 0 2 .1 2 0 2 .1 2-0 2 0 2 .1 2 0 2 0 2 .1 2.1 0 2 .1 2-0 2 0 2 .1 2 0 2 0 2 .1 2 0 2 .1 2-0 2 0 2 .1 2 0 2 0 2 .1 2 0 2 .1 2-0 2 0 2 .1 2 0 2.1 .1 2-0 2 0 2 .1 2 0 2 0 2 .1 2 0 2 .1 2-0 2 0 2 .1 2 0 2 0 2 .1 2 0 2 .1 2-0 2 0 2 .1 2 0 2 0 2.1 .1 2 0 2 .1 2-0 2 0 2 .1 2 0 2 0 2 .1 2 0 2 .1 2-0 2 0 2 .1 2 0 2 0 2 .1 2 0 2 .1 2-0 2 0 2 .1 2.1 0 2 0 2 .1 2 0 2 .1 2-0 2 0 2 .1 2 0 2 0 2 .1 .5-0" fill="none" stroke="#8c3c3c" stroke-width="1.3" stroke-linejoin="round" stroke-linecap="round"/>
<path d="M25.8 144.4l.5 .1 .5-0 .5-0 .5 .1 .5-0 .5-.1 .5 .2 .5-.1 .5-.1 .5-.1 .5-0 .5 .1 .5 .1 .5 .1 .5 0 .5 .1 .5-.1 .5-.1 .5-.1 .5-.2 .5 0 .5-.1 .5-.1 .5 .1 .5-.1 .5-.3 .5-.1 .5 .1 .5-.3 .5-.1 .5-.2 .5-.2 .5-.1 .5-.3 .5-.2 .5-.2 .5-.2 .5-.1 .5-.1 .5-.3 .5-.1 .5-.3 .5-.2 .6-.1 .5-0 .5-.2 .5-.2 .5 .2 .5-0 .5-.1 .5 .2 .5-.1 .5-0 .5 .2 .5 .2 .5 .1 .5 .2 .5 .2 .5 0 .5 .4 .5 .2 .5 0 .5 .3 .5 .2 .5 .3 .5-0 .5 .3 .5 .2 .5 .1 .5 .2 .5 .2 .5 0 .5 0 .5-0 .5 .1 .5 .1 .5-.1 .5-0 .5-0 .5-.4 .5-0 .5-.4 .5 0 .5 0 .5-0 .5-.4 .5-.3 .5-.3 .5-.6 .5-.1 .5-.4 .5-.3 .5-.5 .5-.4 .5-.4 .5-.2 .5-.5 .5-.1 .5-.6 .5-.5 .5-.3 .5-.5 .5-.1 .5-.2 .5-.4 .5-.1 .5-0 .5-.3 .5 .1 .5 0 .5 .4 .5 .1 .5 .1 .5 .2 .5 .5 .5 .2 .5 .5 .5 .1 .5 .4 .5 .4 .5 .4 .5 .5 .5 .5 .5 .4 .5 .3 .5 .6 .5 .5 .5 .2 .5 .4 .5 .1 .6 .5 .5 .2 .5 .2 .5 .6 .5-0 .5 .2 .5 .1 .5 0 .5 .2 .5 .2 .5 .1 .5 .1 .5 .2 .5 .1 .5-0 .5 .2 .5 .1 .5 .1 .5-.1 .5 .2 .5-.2 .5-.1 .5 0 .5 .1 .5 .1 .5-.1 .5 .1 .5 .2 .5-.2 .5-.1 .5 0 .5 .1 .5 .1 .5-.1 .5-.1 .5 0 .5 .1 .5-.1 .5 .1 .5-.1 .5-.1 .5-.2 .5 .1 .5-.2 .5-.4 .5-0 .5-.3 .5-.2 .5-.4 .5-.4 .5-.5 .5-.6 .5-.6 .5-.7 .5-.7 .5-.9 .5-1 .5-1.2 .5-1.1 .5-1.4 .5-1.3 .5-1.6 .5-1.5 .5-2 .5-1.8 .5-1.8 .5-1.9 .5-2.1 .5-2 .5-1.8 .5-1.7 .5-1.7 .5-1.8 .5-1.5 .5-1.2 .5-1.2 .5-1 .5-.7 .5-.5 .5 0 .5 .1 .5 .3 .5 .6 .5 .9 .5 1 .5 1.3 .5 1.5 .5 1.6 .6 1.7 .5 1.8 .5 1.9 .5 1.8 .5 1.9 .5 1.8 .5 1.6 .5 1.9 .5 1.5 .5 1.3 .5 1.6 .5 1.4 .5 1.1 .5 1.1 .5 1 .5 .8 .5 .5 .5 .7 .5 .4 .5 .4 .5 .3 .5 .2 .5 .3 .5 .1 .5 .2 .5 0 .5-0 .5-0 .5 0 .5 .1 .5-.2 .5 .1 .5-.2 .5 0 .5-.3 .5-.2 .5 0 .5-.2 .5-.1 .5-.1 .5-.4 .5-.1 .5-.1 .5-.2 .5-.4 .5-.4 .5-.4 .5-.4 .5-.3 .5-.6 .5-.6 .5-.5 .5-.6 .5-.6 .5-.8 .5-.5 .5-.7 .5-.8 .5-.7 .5-.7 .5-.6 .5-.5 .5-.6 .5-.5 .5-.5 .5-.3 .5-.3 .5-.3 .5 .1 .5-.1 .5 .1 .5 .3 .5 .1 .5 .5 .5 .2 .5 .7 .5 .5 .5 .5 .5 .8 .5 .6 .5 .8 .5 .9 .5 .8 .5 .9 .5 .9 .5 .9 .5 .8 .6 .9 .5 .8 .5 .9 .5 .8 .5 .4 .5 .6 .5 .9 .5 .5 .5 .6 .5 .5 .5 .6 .5 .6 .5 .3 .5 .3 .5 .3 .5 .2 .5 .2 .5 .3 .5 .3 .5 .2 .5 0 .5 .1 .5 .4 .5 .1 .5 .2 .5-0 .5-0 .5 .3 .5-.1 .5-.1 .5 .2 .5 0 .5-.1 .5 .1 .5 .2 .5-.2 .5 0 .5 .2 .5 .2 .5-.3 .5 0 .5 .1 .5-0 .5-.1" fill="none" stroke="#4a4a10" stroke-width="1.5" stroke-linejoin="round" stroke-linecap="round"/>
<path d="M25.8 144.5l.5 0 .5 0 .5 0 .5 .1 .5-0 .5-0 .5-0 .5-0 .5-0 .5-.1 .5 0 .5 0 .5 0 .5-0 .5-0 .5-.1 .5 0 .5-0 .5-.1 .5-0 .5-.1 .5-.1 .5-0 .5-.1 .5-.1 .5-.1 .5-.2 .5-.1 .5-.1 .5-.2 .5-.1 .5-.2 .5-.2 .5-.1 .5-.2 .5-.2 .5-.2 .5-.2 .5-.2 .5-.1 .5-.2 .5-.1 .5-.2 .6-.1 .5-.1 .5-.1 .5-.1 .5-0 .5-0 .5-0 .5 0 .5 .1 .5 .1 .5 .1 .5 .1 .5 .1 .5 .2 .5 .1 .5 .2 .5 .2 .5 .2 .5 .2 .5 .2 .5 .2 .5 .1 .5 .2 .5 .2 .5 .1 .5 .2 .5 .1 .5 .1 .5 .1 .5 .1 .5 .1 .5 0 .5 0 .5 0 .5-0 .5-.1 .5-0 .5-.2 .5-.1 .5-.1 .5-.2 .5-.2 .5-.3 .5-.3 .5-.2 .5-.4 .5-.3 .5-.4 .5-.3 .5-.4 .5-.4 .5-.4 .5-.5 .5-.4 .5-.4 .5-.4 .5-.3 .5-.4 .5-.3 .5-.3 .5-.2 .5-.3 .5-.1 .5-.1 .5-.1 .5 0 .5 .1 .5 .1 .5 .1 .5 .2 .5 .3 .5 .3 .5 .3 .5 .4 .5 .4 .5 .4 .5 .4 .5 .4 .5 .4 .5 .5 .5 .4 .5 .4 .5 .4 .5 .4 .5 .4 .5 .4 .5 .3 .6 .3 .5 .3 .5 .3 .5 .2 .5 .2 .5 .2 .5 .2 .5 .2 .5 .1 .5 .2 .5 .1 .5 .1 .5 .1 .5 0 .5 .1 .5 0 .5 .1 .5 0 .5 .1 .5-0 .5 0 .5 0 .5 .1 .5-0 .5-0 .5-0 .5 0 .5 0 .5 0 .5 0 .5 0 .5 0 .5 0 .5-0 .5-0 .5-0 .5-.1 .5-0 .5-.1 .5-0 .5-.1 .5-.1 .5-.1 .5-.1 .5-.2 .5-.2 .5-.2 .5-.3 .5-.3 .5-.4 .5-.5 .5-.5 .5-.6 .5-.7 .5-.8 .5-.9 .5-1 .5-1.1 .5-1.3 .5-1.3 .5-1.5 .5-1.5 .5-1.7 .5-1.7 .5-1.8 .5-1.9 .5-1.9 .5-1.9 .5-1.9 .5-1.9 .5-1.9 .5-1.7 .5-1.7 .5-1.5 .5-1.3 .5-1.1 .5-.9 .5-.7 .5-.4 .5-.2 .5 .1 .5 .4 .5 .6 .5 .9 .5 1 .5 1.3 .5 1.5 .5 1.5 .6 1.7 .5 1.8 .5 1.8 .5 1.9 .5 1.8 .5 1.8 .5 1.8 .5 1.7 .5 1.6 .5 1.5 .5 1.4 .5 1.3 .5 1.2 .5 1 .5 .9 .5 .9 .5 .7 .5 .6 .5 .5 .5 .4 .5 .3 .5 .2 .5 .2 .5 .2 .5 0 .5 .1 .5 0 .5-0 .5-0 .5-.1 .5-.1 .5-0 .5-.1 .5-.1 .5-.1 .5-.1 .5-.2 .5-.1 .5-.1 .5-.2 .5-.2 .5-.2 .5-.3 .5-.2 .5-.3 .5-.4 .5-.4 .5-.4 .5-.4 .5-.5 .5-.6 .5-.5 .5-.6 .5-.6 .5-.7 .5-.6 .5-.7 .5-.7 .5-.6 .5-.7 .5-.6 .5-.6 .5-.5 .5-.5 .5-.4 .5-.4 .5-.3 .5-.2 .5-.1 .5-0 .5 .1 .5 .1 .5 .3 .5 .3 .5 .4 .5 .5 .5 .6 .5 .6 .5 .7 .5 .8 .5 .7 .5 .9 .5 .8 .5 .8 .5 .9 .5 .8 .5 .9 .6 .8 .5 .8 .5 .8 .5 .8 .5 .7 .5 .7 .5 .6 .5 .6 .5 .6 .5 .5 .5 .5 .5 .5 .5 .4 .5 .4 .5 .3 .5 .3 .5 .3 .5 .2 .5 .2 .5 .2 .5 .2 .5 .1 .5 .2 .5 .1 .5 .1 .5 .1 .5 .1 .5 0 .5 .1 .5 0 .5 .1 .5 0 .5 .1 .5-0 .5 0 .5 0 .5 .1 .5-0 .5 0 .5 0 .5 .1 .5-0 .5-0 .5 0" fill="none" stroke="#8e8e0c" stroke-width="1.15" stroke-linejoin="round" stroke-linecap="round"/>
<text x="29" y="16.8" font-size="8.6" class="ax" textLength="15.8" lengthAdjust="spacingAndGlyphs">C 1s</text>
<text x="30.5" y="42.8" font-size="7.2" class="lb" textLength="15" lengthAdjust="spacingAndGlyphs">KPHI</text>
<text x="31" y="87.3" font-size="7.2" class="lb" textLength="39.5" lengthAdjust="spacingAndGlyphs">10% BP/KPHI</text>
<text x="31.2" y="127.8" font-size="7.2" class="lb" textLength="41" lengthAdjust="spacingAndGlyphs">10% BP/KPHI-</text>
<text x="31.2" y="136.3" font-size="7.2" class="lb" textLength="40" lengthAdjust="spacingAndGlyphs">after reaction</text>
<text x="5.2" y="14.5" font-size="12.5" class="pn" textLength="13.8" lengthAdjust="spacingAndGlyphs">(a)</text>
<text x="17.5" y="89.3" font-size="10.6" class="ax" textLength="22" lengthAdjust="spacingAndGlyphs" transform="rotate(-90 17.5 89.3)">CPS</text>
<rect x="231.7" y="5.5" width="184.1" height="147.2" fill="#fff" stroke="#0c0c0c" stroke-width="1.25"/>
<line x1="231.7" y1="152.7" x2="231.7" y2="155.4" stroke="#0c0c0c" stroke-width="1.0"/>
<text x="224.1" y="166.7" font-size="10.0" class="ax" textLength="15.2" lengthAdjust="spacingAndGlyphs">406</text>
<line x1="262.38" y1="152.7" x2="262.38" y2="155.4" stroke="#0c0c0c" stroke-width="1.0"/>
<text x="254.78" y="166.7" font-size="10.0" class="ax" textLength="15.2" lengthAdjust="spacingAndGlyphs">404</text>
<line x1="293.07" y1="152.7" x2="293.07" y2="155.4" stroke="#0c0c0c" stroke-width="1.0"/>
<text x="285.47" y="166.7" font-size="10.0" class="ax" textLength="15.2" lengthAdjust="spacingAndGlyphs">402</text>
<line x1="323.75" y1="152.7" x2="323.75" y2="155.4" stroke="#0c0c0c" stroke-width="1.0"/>
<text x="316.15" y="166.7" font-size="10.0" class="ax" textLength="15.2" lengthAdjust="spacingAndGlyphs">400</text>
<line x1="354.43" y1="152.7" x2="354.43" y2="155.4" stroke="#0c0c0c" stroke-width="1.0"/>
<text x="346.83" y="166.7" font-size="10.0" class="ax" textLength="15.2" lengthAdjust="spacingAndGlyphs">398</text>
<line x1="385.12" y1="152.7" x2="385.12" y2="155.4" stroke="#0c0c0c" stroke-width="1.0"/>
<text x="377.52" y="166.7" font-size="10.0" class="ax" textLength="15.2" lengthAdjust="spacingAndGlyphs">396</text>
<line x1="415.8" y1="152.7" x2="415.8" y2="155.4" stroke="#0c0c0c" stroke-width="1.0"/>
<text x="408.2" y="166.7" font-size="10.0" class="ax" textLength="15.2" lengthAdjust="spacingAndGlyphs">394</text>
<line x1="247.04" y1="152.7" x2="247.04" y2="154.2" stroke="#0c0c0c" stroke-width="0.9"/>
<line x1="277.73" y1="152.7" x2="277.73" y2="154.2" stroke="#0c0c0c" stroke-width="0.9"/>
<line x1="308.41" y1="152.7" x2="308.41" y2="154.2" stroke="#0c0c0c" stroke-width="0.9"/>
<line x1="339.09" y1="152.7" x2="339.09" y2="154.2" stroke="#0c0c0c" stroke-width="0.9"/>
<line x1="369.77" y1="152.7" x2="369.77" y2="154.2" stroke="#0c0c0c" stroke-width="0.9"/>
<line x1="400.46" y1="152.7" x2="400.46" y2="154.2" stroke="#0c0c0c" stroke-width="0.9"/>
<text x="261.3" y="182.1" font-size="10.5" class="ax" textLength="94" lengthAdjust="spacingAndGlyphs">Binding energy (eV)</text>
<line x1="265.76" y1="48" x2="265.76" y2="143" stroke="#c4c4c4" stroke-width="0.6" stroke-dasharray="1 1"/>
<line x1="314.54" y1="37" x2="314.54" y2="130" stroke="#c4c4c4" stroke-width="0.6" stroke-dasharray="1 1"/>
<line x1="341.85" y1="10" x2="341.85" y2="105" stroke="#c4c4c4" stroke-width="0.6" stroke-dasharray="1 1"/>
<path d="M232.2 50l.5-0 .5-0 .5-.1 .5 0 .5 0 .5 0 .5 0 .5 0 .5 0 .5 0 .5-0 .5-0 .5-0 .5-0 .5-0 .5-.1 .5 0 .5 0 .5-0 .5-0 .5-.1 .5 0 .5-0 .5-0 .5-.1 .5 0 .5-0 .5-0 .5-.1 .5-0 .5-0 .5-.1 .5-0 .5-.1 .5 0 .5-0 .5-.1 .5-0 .5-.1 .5 0 .5-0 .5-.1 .5-0 .5-.1 .5 0 .5-0 .5-.1 .5-0 .5-0 .5-.1 .5 0 .5-0 .5-0 .5-.1 .5 0 .5 0 .5 0 .5-0 .5-0 .5-0 .5-0 .5 0 .5 0 .5 0 .5 .1 .5-0 .5-0 .5 0 .5 .1 .5-0 .5 0 .5 .1 .5 0 .5 0 .5 .1 .5 0 .5 .1 .5 0 .5 .1 .5 0 .5 .1 .5 0 .5 .1 .5 0 .5 .1 .5 0 .5 .1 .5-0 .5 0 .5 .1 .5 0 .5 .1 .5 0 .5 0 .5 .1 .5 0 .5 0 .5 .1 .5 0 .5 0 .5 .1 .5-0 .5 0 .5 0 .5 .1 .5-0 .5-0 .5 0 .5 0 .5 0 .5 .1 .5-0 .5-0 .5-0 .5 0 .5 0 .5 0 .5 0 .5 0 .5 .1 .5-0 .5-0 .5-0 .5-0 .5-0 .5 0 .5 0 .5 0 .5 0 .5 0 .5 0 .5 0 .5 .1 .5-0 .5-0 .5-0 .5-0 .5-0 .5 0 .5 0 .5 0 .5 0 .5 0 .5 0 .5 .1 .5-0 .5-0 .5-0 .5-0 .5 0 .5 0 .5 0 .5 0 .5 .1 .5-0 .5-0 .5-0 .5 0 .5 0 .5 0 .5 0 .5 .1 .5-0 .5-0 .5-0 .5 0 .5 0 .5 0 .5 0 .5 .1 .5-0 .5-0 .5-0 .5 0 .5 0 .5 0 .5 0 .5 .1" fill="none" stroke="#20b050" stroke-width="1.25" stroke-linejoin="round" stroke-linecap="round"/>
<path d="M254.2 50.1l.5-0 .5-0 .5 0 .5 0 .5 0 .5 0 .5 0 .5 0 .5 0 .5 0 .5 0 .5 0 .5 0 .5 0 .5 0 .5 0 .5 0 .5 0 .5 .1 .5-0 .5-0 .5-0 .5-0 .5-0 .5-0 .5-0 .5-0 .5-0 .5-0 .5-0 .5-0 .5-0 .5-0 .5-0 .5-0 .5-0 .5-0 .5-0 .5-0 .5-0 .5-0 .5-0 .5-0 .5-0 .5-0 .5-0 .5-0 .5-0 .5-0 .5-0 .5-.1 .5 0 .5 0 .5 0 .5-0 .5-0 .5-0 .5-.1 .5 0 .5-0 .5-.1 .5 0 .5-0 .5-.1 .5-0 .5-.1 .5-0 .5-.1 .5-.1 .5-0 .5-.1 .5-.1 .5-.1 .5-.1 .5-.1 .5-.1 .5-.2 .5-.1 .5-.1 .5-.2 .5-.2 .5-.1 .5-.2 .5-.2 .5-.2 .5-.2 .5-.2 .5-.3 .5-.2 .5-.3 .5-.2 .5-.3 .5-.2 .5-.3 .5-.3 .5-.3 .5-.3 .5-.3 .5-.2 .5-.3 .5-.3 .5-.3 .5-.3 .5-.3 .5-.2 .5-.3 .5-.2 .5-.3 .5-.2 .5-.2 .5-.2 .5-.2 .5-.1 .5-.2 .5-.1 .5-.1 .5-.1 .5-.1 .5 0 .5-0 .5 0 .5 0 .5 .1 .5 .1 .5 .1 .5 .1 .5 .1 .5 .2 .5 .2 .5 .2 .5 .2 .5 .2 .5 .3 .5 .3 .5 .2 .5 .3 .5 .3 .5 .3 .6 .3 .5 .3 .5 .3 .5 .3 .5 .3 .5 .3 .5 .4 .5 .3 .5 .3 .5 .3 .5 .3 .5 .2 .5 .3 .5 .3 .5 .3 .5 .2 .5 .3 .5 .2 .5 .2 .5 .3 .5 .2 .5 .2 .5 .2 .5 .2 .5 .1 .5 .2 .5 .2 .5 .1 .5 .2 .5 .1 .5 .2 .5 .1 .5 .1 .5 .1 .5 .1 .5 .1 .5 .1 .5 .1 .5 .1 .5 .1 .5 .1 .5 .1 .5 0 .5 .1 .5 .1 .5 0 .5 .1 .5 0 .5 .1 .5 0 .5 0 .5 .1 .5 0 .5 0 .5 .1 .5 0 .5 0 .5 .1 .5-0 .5 0 .5 0 .5 0 .5 .1 .5-0 .5-0 .5 0 .5 0 .5 0 .5 0 .5 0 .5 .1 .5-0 .5-0 .5-0 .5-0 .5-0 .5 0 .5 0 .5 0 .5 0 .5 0 .5 0 .5 0 .5 0 .5 .1 .5-0 .5-0 .5-0 .5-0 .5-0 .5-0 .5-0 .5-0 .5-0 .5-0 .5 0 .5 0 .5 0 .5 0 .5 0 .5 0 .5 0 .5 0 .5 0" fill="none" stroke="#1c68f0" stroke-width="1.25" stroke-linejoin="round" stroke-linecap="round"/>
<path d="M297.2 49.9l.5 0 .5 0 .5 0 .5 0 .5 0 .5 0 .5-0 .5-0 .5-0 .5-0 .5-0 .5-0 .5-.1 .5 0 .5 0 .5 0 .5 0 .5 0 .5-0 .5-0 .5-0 .5-0 .5-.1 .5 0 .5 0 .5-0 .5-0 .5-.1 .5 0 .5-0 .5-0 .5-.1 .5-0 .5-.1 .5-0 .5-.1 .5-0 .5-.1 .5-.1 .5-.1 .5-.1 .5-.1 .5-.1 .5-.2 .5-.1 .5-.2 .5-.2 .5-.2 .5-.3 .5-.3 .5-.3 .5-.4 .6-.4 .5-.4 .5-.5 .5-.5 .5-.6 .5-.6 .5-.7 .5-.7 .5-.8 .5-.8 .5-.9 .5-1 .5-1 .5-1.1 .5-1.1 .5-1.2 .5-1.2 .5-1.3 .5-1.3 .5-1.3 .5-1.3 .5-1.4 .5-1.4 .5-1.3 .5-1.4 .5-1.3 .5-1.2 .5-1.2 .5-1.2 .5-1 .5-1 .5-.8 .5-.7 .5-.6 .5-.4 .5-.2 .5-.1 .5 .1 .5 .2 .5 .5 .5 .5 .5 .8 .5 .8 .5 1 .5 1.1 .5 1.1 .5 1.3 .5 1.3 .5 1.3 .5 1.4 .5 1.4 .5 1.4 .5 1.4 .5 1.4 .5 1.4 .5 1.4 .5 1.3 .5 1.3 .5 1.2 .5 1.2 .5 1.1 .5 1.1 .5 1 .5 .9 .5 .9 .5 .9 .5 .7 .5 .8 .5 .6 .5 .6 .5 .6 .5 .5 .5 .5 .5 .4 .5 .4 .5 .4 .5 .3 .5 .3 .5 .2 .5 .3 .5 .2 .5 .2 .5 .1 .5 .2 .5 .1 .5 .1 .5 .1 .5 .1 .5 .1 .5 .1 .5 .1 .5 .1 .5 0 .5 .1 .5 0 .5 .1 .5 0 .5 .1 .5 0 .5 0 .5 .1 .5 0 .5 0 .5 .1 .5 0 .5 0 .5 .1 .5-0 .5 0 .5 0 .5 .1 .5-0 .5-0 .5 0 .5 0 .5 .1 .5-0 .5-0 .5 0 .5 0 .5 0 .5 .1 .5-0 .5-0 .5 0 .5 0" fill="none" stroke="#f82838" stroke-width="1.25" stroke-linejoin="round" stroke-linecap="round"/>
<path d="M232.2 50l2 0 2 0 2 0 2 0 2 .1 2-0 2-0 2-0 2 0 2 0 2 0 2 0 2 .1 2-0 2-0 2 0 2 0 2 0 2 .1 2-0 2-0 2-0 2 0 2 0 2 0 2 0 2 .1 2-0 2-0 2 0 2 0 2 0 2 .1 2-0 2 0 2 .1 2-0 2 0 2 .1 2 0 2 .1 2 0 2 .1 2 0 2 .1 2.1 0 2 .1 2 .1 2 0 2 .1 2 .1 2 .1 2 .1 2 .2 2 .1 2 .2 2 .1 2 .1 2 .1 2 .1 2 0 2 .1 2 0 2 0 2 .1 2-0 2 0 2 0 2 0 2 .1 2-0 2-0 2-0 2 0 2 0 2 0 2 0 2 .1 2-0 2-0 2-0 2-0 2 0 2 0 2 0 2 0 2 0 2 .1 2-0 2-0 2-0 1-0" fill="none" stroke="#b878e6" stroke-width="1.1" stroke-linejoin="round" stroke-linecap="round"/>
<path d="M232.2 49.9l.5 .2 .5-.2 .5-.2 .5 .1 .5 .2 .5-0 .5-.2 .5-.1 .5 0 .5 .2 .5-.1 .5-0 .5-.1 .5 0 .5-.1 .5 .1 .5 0 .5 .2 .5-.1 .5 0 .5-.2 .5 .1 .5-.1 .5-.1 .5-0 .5 .1 .5-.1 .5 0 .5 .1 .5 .1 .5-0 .5-.4 .5 0 .5-.1 .5 0 .5-0 .5-.1 .5 0 .5-.1 .5-.1 .5-.1 .5 .3 .5-.2 .5-.1 .5-.3 .5-.1 .5 0 .5 .2 .5 0 .5 0 .5-.1 .5 .2 .5-.2 .5-.2 .5 .1 .5-.1 .5 .1 .5 .1 .5-.1 .5 .1 .5-.1 .5-.1 .5-.3 .5 0 .5 .2 .5-.1 .5 .1 .5 .2 .5 .2 .5-.2 .5 .1 .5 .1 .5 .1 .5-.2 .5 .4 .5-.2 .5 .2 .5-0 .5 .1 .5 .2 .5-0 .5-.1 .5-.1 .5-0 .5-.1 .5 .4 .5-.2 .5-.2 .5 .4 .5 .2 .5-.1 .5 .1 .5-.1 .5-.1 .5 .1 .5 .1 .5-.1 .5 .3 .5-0 .5-.1 .5-.2 .5 .1 .5-.1 .5 0 .5 .1 .5-.1 .5-0 .5 .1 .5-.1 .5 .2 .5-.4 .5-.1 .5-.2 .5 0 .5 .3 .5-.4 .5-.1 .5-0 .5-.1 .5-.1 .5-.3 .5-0 .5-.3 .5-.3 .5 0 .5-.1 .5-.3 .5-.3 .5-.1 .5-.2 .5-.2 .5-.4 .5-.4 .5 0 .5-.2 .5-.4 .5-.4 .5-.3 .5-.2 .5-.5 .5 0 .5-.2 .5-.4 .5-.2 .5-.3 .5-.2 .5-.4 .5-.2 .5-.1 .5-.5 .5-.4 .5-.4 .5-.2 .5-.3 .5-.2 .5-.1 .5-.1 .5-.4 .5 0 .5-.2 .5-.1 .5-.2 .5-.3 .5 .1 .5-.2 .5 .2 .5 0 .5 .2 .5 0 .5 0 .5 .2 .5-.1 .5 .1 .5-0 .5-0 .5-.1 .5 .1 .5 .1 .5-.2 .5-.1 .5-0 .5 0 .6-.1 .5-.3 .5-.2 .5-.2 .5-.5 .5-.2 .5-.1 .5-.6 .5-.5 .5-.3 .5-.6 .5-.7 .5-.8 .5-1 .5-.5 .5-1.1 .5-1 .5-.9 .5-1.1 .5-1.3 .5-1.3 .5-1.2 .5-1.2 .5-1.2 .5-1.3 .5-1.2 .5-1 .5-1.1 .5-.9 .5-.8 .5-.9 .5-.8 .5-.4 .5-.5 .5-.6 .5-.3 .5 .1 .5 .1 .5 .4 .5 .3 .5 .4 .5 1.1 .5 1 .5 .8 .5 1.2 .5 1.3 .5 1.1 .5 1.2 .5 1.4 .5 1.3 .5 1.4 .5 1.5 .5 1.4 .5 1.5 .5 1.7 .5 1.2 .5 1.4 .5 1.4 .5 .9 .5 1.3 .5 1.1 .5 1.1 .5 1.1 .5 .9 .5 1 .5 .7 .5 .8 .5 .7 .5 1 .5 .5 .5 .4 .5 .7 .5 .6 .5 .3 .5 .2 .5 .3 .5 .5 .5 .2 .5 .2 .5 .4 .5 .1 .5 .2 .5 .4 .5 .2 .5 .1 .5 .1 .5 .2 .5-.1 .5 .2 .5 .1 .5-.1 .5-.1 .5 .2 .5 0 .5 .1 .5-0 .5 .1 .5 .2 .5 .2 .5 .1 .5-.1 .5 .1 .5-.2 .5 .1 .5-0 .5 .1 .5-0 .5-.1 .5-.1 .5 .2 .5-0 .5 .1 .5-0 .5-.3 .5 .2 .5-0 .5 .1 .5 0 .5-.2 .5 .1 .5 0 .5 .1 .5 .2 .5-.2 .5 0 .5 .1 .5-.2 .5 .3 .5-.1 .5 .2 .5-.1 .5 .2 .5 .1 .5-.2 .5-.2 .5 .1 .5 0 .5 .1 .5-.2 .5-0 .5-0 .5 .1 .5-0 .5 0 .5 .2 .5-.1 .5 .2 .5-0 .5-.1 .5 .1 .5 0 .5-.1 .5-.1 .5 .1 .5 0 .5 .2 .5-.1 .5-.1 .5-.1 .5 .1 .5 .1 .5 .1 .5-.1 .5-.2 .5 .2 .5-0 .5-.2 .5 .3 .5 .1 .5-.1 .5-0 .5-.1 .5 .1 .5-.1 .5-0 .5-0 .5-.1 .5 .2 .5 .2 .5-0 .5-.4 .5 .1 .5-.1 .5 .2" fill="none" stroke="#444" stroke-width="1.0" stroke-linejoin="round" stroke-linecap="round"/>
<path d="M232.2 49.8l.5 0 .5 0 .5 0 .5 0 .5 0 .5 0 .5 0 .5 0 .5-0 .5-0 .5-0 .5-0 .5-0 .5-.1 .5 0 .5 0 .5-0 .5-0 .5-0 .5-.1 .5 0 .5-0 .5-0 .5-.1 .5 0 .5-0 .5-.1 .5 0 .5-0 .5-.1 .5 0 .5-0 .5-.1 .5-0 .5-.1 .5 0 .5-0 .5-.1 .5-0 .5-.1 .5-0 .5-.1 .5 0 .5-0 .5-.1 .5-0 .5-.1 .5 0 .5-0 .5-.1 .5 0 .5-0 .5-0 .5-.1 .5 0 .5 0 .5-0 .5-0 .5-0 .5-0 .5-0 .5-0 .5-0 .5 0 .5 0 .5 0 .5 .1 .5-0 .5 0 .5 0 .5 .1 .5 0 .5 0 .5 .1 .5 0 .5 .1 .5-0 .5 0 .5 .1 .5 0 .5 .1 .5 0 .5 0 .5 .1 .5 0 .5 .1 .5 0 .5 0 .5 .1 .5 0 .5 0 .5 .1 .5-0 .5 0 .5 0 .5 0 .5 .1 .5-0 .5-0 .5-0 .5-0 .5-0 .5-0 .5-.1 .5 0 .5 0 .5-0 .5-.1 .5-0 .5-0 .5-.1 .5-.1 .5-0 .5-.1 .5-.1 .5-.1 .5-.1 .5-.1 .5-.1 .5-.1 .5-.1 .5-.2 .5-.1 .5-.2 .5-.2 .5-.1 .5-.2 .5-.2 .5-.2 .5-.3 .5-.2 .5-.2 .5-.3 .5-.2 .5-.3 .5-.3 .5-.3 .5-.3 .5-.2 .5-.3 .5-.3 .5-.3 .5-.4 .5-.3 .5-.3 .5-.3 .5-.3 .5-.3 .5-.3 .5-.2 .5-.3 .5-.3 .5-.2 .5-.3 .5-.2 .5-.2 .5-.2 .5-.2 .5-.1 .5-.2 .5-.1 .5-.1 .5-.1 .5-.1 .5-0 .5-.1 .5 0 .5 0 .5 0 .5 .1 .5-0 .5 0 .5 .1 .5 0 .5 .1 .5-0 .5 0 .5 0 .5 0 .5 0 .5-0 .5-.1 .6-.1 .5-.1 .5-.2 .5-.2 .5-.3 .5-.4 .5-.3 .5-.5 .5-.5 .5-.5 .5-.7 .5-.7 .5-.7 .5-.8 .5-.9 .5-1 .5-.9 .5-1.1 .5-1.1 .5-1.1 .5-1.2 .5-1.1 .5-1.2 .5-1.2 .5-1.2 .5-1.2 .5-1.1 .5-1.1 .5-1 .5-1 .5-.8 .5-.7 .5-.7 .5-.4 .5-.4 .5-.1 .5-.1 .5 .2 .5 .3 .5 .5 .5 .6 .5 .7 .5 .9 .5 1 .5 1.1 .5 1.2 .5 1.3 .5 1.3 .5 1.4 .5 1.4 .5 1.4 .5 1.4 .5 1.5 .5 1.4 .5 1.4 .5 1.3 .5 1.4 .5 1.2 .5 1.3 .5 1.2 .5 1.1 .5 1.1 .5 1 .5 .9 .5 .9 .5 .9 .5 .8 .5 .7 .5 .7 .5 .6 .5 .5 .5 .6 .5 .4 .5 .5 .5 .3 .5 .4 .5 .3 .5 .3 .5 .3 .5 .2 .5 .2 .5 .2 .5 .2 .5 .1 .5 .2 .5 .1 .5 .1 .5 .1 .5 .1 .5 .1 .5 0 .5 .1 .5 .1 .5 0 .5 .1 .5 0 .5 .1 .5 0 .5 .1 .5-0 .5 0 .5 .1 .5 0 .5 0 .5 .1 .5-0 .5 0 .5 0 .5 .1 .5-0 .5 0 .5 0 .5 .1 .5-0 .5-0 .5 0 .5 0 .5 .1 .5-0 .5-0 .5 0 .5 0 .5 0 .5 .1 .5-0 .5-0 .5 0 .5 0 .5 0 .5 0 .5 .1 .5-0 .5-0 .5-0 .5 0 .5 0 .5 0 .5 0 .5 0 .5 .1 .5-0 .5-0 .5-0 .5 0 .5 0 .5 0 .5 0 .5 0 .5 0 .5 .1 .5-0 .5-0 .5-0 .5-0 .5-0 .5 0 .5 0 .5 0 .5 0 .5 0 .5 0 .5 0 .5 .1 .5-0 .5-0 .5-0 .5-0 .5-0 .5-0 .5 0 .5 0 .5 0 .5 0 .5 0 .5 0 .5 0 .5 0 .5 .1 .5-0 .5-0 .5-0 .5-0 .5-0 .5-0" fill="none" stroke="#e0a008" stroke-width="1.35" stroke-linejoin="round" stroke-linecap="round"/>
<path d="M257.2 96.4l.5-0 .5-0 .5-0 .5-0 .5-0 .5-0 .5 0 .5 0 .5 0 .5 0 .5 0 .5 0 .5 0 .5 0 .5 0 .5 0 .5 0 .5 0 .5 0 .5 0 .5 0 .5 0 .5 0 .5 0 .5 0 .5 0 .5 0 .5 0 .5 0 .5 0 .5 0 .5 0 .5 0 .5 0 .5 0 .5 0 .5 0 .5 0 .5 0 .5 0 .5 0 .5 0 .5 0 .5 0 .5 0 .5 0 .5 0 .5 0 .5-0 .5-0 .5-0 .5-0 .5-.1 .5 0 .5-0 .5-0 .5-.1 .5 0 .5-0 .5-.1 .5-0 .5-.1 .5-0 .5-.1 .5-0 .5-.1 .5-.1 .5-.1 .5-0 .5-.1 .5-.2 .5-.1 .5-.1 .5-.1 .5-.2 .5-.1 .5-.2 .5-.2 .5-.2 .5-.1 .5-.3 .5-.2 .5-.2 .5-.2 .5-.3 .5-.2 .5-.3 .5-.2 .5-.3 .5-.3 .5-.3 .5-.3 .5-.3 .5-.2 .5-.3 .5-.3 .5-.3 .5-.3 .5-.3 .5-.2 .5-.3 .5-.2 .5-.3 .5-.2 .5-.2 .5-.2 .5-.2 .5-.1 .5-.2 .5-.1 .5-.1 .5-0 .5-.1 .5 0 .5 0 .5 .1 .5 0 .5 .1 .5 .1 .5 .2 .5 .1 .5 .2 .5 .2 .5 .2 .5 .3 .5 .2 .5 .3 .5 .2 .5 .3 .5 .3 .5 .3 .5 .3 .6 .3 .5 .4 .5 .3 .5 .3 .5 .3 .5 .3 .5 .3 .5 .3 .5 .3 .5 .3 .5 .3 .5 .3 .5 .3 .5 .2 .5 .3 .5 .2 .5 .3 .5 .2 .5 .2 .5 .2 .5 .2 .5 .2 .5 .2 .5 .2 .5 .2 .5 .1 .5 .2 .5 .1 .5 .2 .5 .1 .5 .1 .5 .1 .5 .1 .5 .2 .5 .1 .5 .1 .5 0 .5 .1 .5 .1 .5 .1 .5 .1 .5 0 .5 .1 .5 .1 .5 0 .5 .1 .5 0 .5 .1 .5 0 .5 .1 .5 0 .5 .1 .5 0 .5 0 .5 .1 .5 0 .5 0 .5 .1 .5-0 .5 0 .5 0 .5 .1 .5-0 .5-0 .5 0 .5 0 .5 0 .5 .1 .5-0 .5-0 .5-0 .5 0 .5 0 .5 0 .5 0 .5 0 .5 0 .5 .1 .5-0 .5-0 .5-0 .5-0 .5-0 .5-0 .5-0 .5 0 .5 0 .5 0 .5 0 .5 0 .5 0 .5 0 .5 0 .5 0 .5 0 .5 0 .5 0" fill="none" stroke="#1c68f0" stroke-width="1.25" stroke-linejoin="round" stroke-linecap="round"/>
<path d="M294.7 96.1l.5 0 .5-0 .5-0 .5-0 .5-0 .5-0 .5-0 .5-0 .5-.1 .5 0 .5 0 .5 0 .5 0 .5 0 .5-0 .5-0 .5-0 .5-0 .5-0 .5-.1 .5 0 .5 0 .5 0 .5-0 .5-0 .5-0 .5-.1 .5 0 .5 0 .5-0 .5-0 .5-.1 .5-0 .5-0 .5-.1 .5-0 .5-.1 .5-0 .5-.1 .5-0 .5-.1 .5-.1 .5-.1 .5-.1 .5-.1 .5-.1 .5-.2 .5-.2 .5-.1 .5-.2 .5-.3 .5-.2 .5-.3 .5-.3 .5-.4 .5-.4 .5-.4 .6-.5 .5-.5 .5-.5 .5-.6 .5-.6 .5-.7 .5-.8 .5-.8 .5-.8 .5-.9 .5-1 .5-1 .5-1.1 .5-1.1 .5-1.1 .5-1.2 .5-1.3 .5-1.2 .5-1.3 .5-1.3 .5-1.3 .5-1.4 .5-1.3 .5-1.3 .5-1.3 .5-1.2 .5-1.2 .5-1.1 .5-1.1 .5-1 .5-.8 .5-.8 .5-.6 .5-.6 .5-.3 .5-.2 .5-.1 .5 .1 .5 .3 .5 .4 .5 .5 .5 .7 .5 .8 .5 .9 .5 1 .5 1.1 .5 1.2 .5 1.3 .5 1.3 .5 1.3 .5 1.4 .5 1.4 .5 1.3 .5 1.4 .5 1.4 .5 1.3 .5 1.4 .5 1.3 .5 1.2 .5 1.2 .5 1.2 .5 1.1 .5 1.1 .5 1 .5 .9 .5 .9 .5 .9 .5 .8 .5 .7 .5 .7 .5 .7 .5 .6 .5 .5 .5 .5 .5 .5 .5 .4 .5 .4 .5 .3 .5 .3 .5 .3 .5 .3 .5 .2 .5 .2 .5 .2 .5 .2 .5 .2 .5 .1 .5 .1 .5 .2 .5 .1 .5 .1 .5 0 .5 .1 .5 .1 .5 .1 .5 0 .5 .1 .5 0 .5 .1 .5 0 .5 .1 .5 0 .5 0 .5 .1 .5 0 .5 0 .5 .1 .5-0 .5 0 .5 .1 .5-0 .5 0 .5 0 .5 0 .5 .1 .5-0 .5 0 .5 0 .5 0 .5 .1 .5-0 .5 0 .5 0 .5 0 .5 .1 .5-0 .5-0 .5-0 .5 0 .5 0 .5 0" fill="none" stroke="#f82838" stroke-width="1.25" stroke-linejoin="round" stroke-linecap="round"/>
<path d="M232.2 96.3l2 0 2 0 2 0 2 0 2 0 2 .1 2-0 2-0 2-0 2-0 2 0 2 0 2 0 2 0 2 .1 2-0 2-0 2-0 2 0 2 0 2 0 2 0 2 0 2 .1 2-0 2-0 2-0 2 0 2 0 2 0 2 0 2 .1 2-0 2 0 2 0 2 .1 2 0 2 .1 2 0 2 .1 2 0 2 .1 2 .1 2 0 2 .1 2.1 0 2 .1 2 .1 2 .1 2 .1 2 .1 2 .1 2 .2 2 .2 2 .2 2 .1 2 .2 2 .1 2 .2 2 .1 2 0 2 .1 2 0 2 .1 2 0 2 0 2 0 2 .1 2-0 2-0 2 0 2 0 2 0 2 0 2 0 2 .1 2-0 2-0 2-0 2-0 2 0 2 0 2 0 2 0 2 0 2 .1 2-0 2-0 2-0 2-0 2-0 1-0" fill="none" stroke="#b878e6" stroke-width="1.1" stroke-linejoin="round" stroke-linecap="round"/>
<path d="M232.2 96.2l.5-0 .5 .4 .5-.1 .5-.2 .5 0 .5-.1 .5-.1 .5 .1 .5-.1 .5 .1 .5-.1 .5-.2 .5-.1 .5 0 .5-.1 .5 .1 .5 .1 .5 .2 .5-.2 .5 0 .5 .1 .5 .1 .5-.2 .5 .2 .5-.2 .5 .2 .5-.2 .5-.1 .5-.1 .5 0 .5 .3 .5-.2 .5 .2 .5 0 .5-.2 .5 .1 .5 0 .5-.2 .5-.1 .5 .1 .5-0 .5 .2 .5-.2 .5-.2 .5-.1 .5-.1 .5 .1 .5 .1 .5-.2 .5-.1 .5 .2 .5-.1 .5 .1 .5-.2 .5-0 .5-.1 .5-.1 .5 .5 .5 .1 .5-.3 .5 .1 .5-.3 .5 .2 .5 .1 .5-.1 .5-.1 .5 .1 .5 0 .5-0 .5-.1 .5 0 .5 0 .5 .2 .5 0 .5 .1 .5-.2 .5 0 .5 .1 .5-0 .5 .1 .5-0 .5-.1 .5 .2 .5 .1 .5-0 .5 .1 .5-.2 .5-.1 .5 .1 .5 .3 .5-.1 .5-.2 .5 .2 .5-.1 .5-0 .5 .1 .5-.2 .5-.1 .5-0 .5 .3 .5 0 .5-0 .5-.1 .5 .1 .5 .2 .5-.2 .5-0 .5 .3 .5-.1 .5-.2 .5-.1 .5-.1 .5 0 .5-0 .5-.2 .5-.1 .5-0 .5-.2 .5-.1 .5-.2 .5 .1 .5 .1 .5-.4 .5-0 .5-.2 .5-.2 .5-.3 .5-.1 .5-.1 .5-.4 .5-.1 .5-.3 .5-.4 .5-.1 .5-.2 .5-.3 .5-.2 .5-.4 .5-.3 .5-.1 .5-.5 .5-.2 .5-.3 .5-.3 .5-.4 .5-.3 .5-.3 .5-.3 .5-.3 .5-.6 .5-.4 .5-0 .5-.3 .5-.3 .5-.1 .5-.4 .5 .1 .5-.2 .5-.2 .5-.3 .5-0 .5-.1 .5 .1 .5-.1 .5-.3 .5-.2 .5 .2 .5-.2 .5 0 .5 0 .5 .1 .5 .1 .5-.2 .5-0 .5-.2 .5 .2 .5 .1 .5-.3 .5 .2 .5-0 .5-.3 .5-.1 .6-.2 .5-.1 .5-.2 .5-.4 .5-.2 .5-.7 .5-.4 .5-.3 .5-.5 .5-.5 .5-.9 .5-1 .5-.7 .5-.5 .5-1 .5-1.1 .5-1.2 .5-1 .5-1.1 .5-1 .5-1.1 .5-1.5 .5-1 .5-1 .5-1.2 .5-1.3 .5-1.1 .5-1.1 .5-.6 .5-.7 .5-1 .5-.5 .5-.8 .5-.5 .5-.4 .5-.1 .5 .1 .5 .4 .5 .2 .5 .3 .5 .6 .5 .6 .5 .9 .5 .8 .5 1.1 .5 1.2 .5 1.3 .5 1.1 .5 1.4 .5 1.3 .5 1.3 .5 1.1 .5 1.5 .5 1.6 .5 1.3 .5 1.7 .5 1.3 .5 1.1 .5 1.2 .5 1.3 .5 1.2 .5 1.1 .5 1.1 .5 1.3 .5 .9 .5 .8 .5 .7 .5 .5 .5 .9 .5 .7 .5 .7 .5 .5 .5 .7 .5 .6 .5 .3 .5 .3 .5 .5 .5 .5 .5 .3 .5 .3 .5 .1 .5 .2 .5 .3 .5 .2 .5 .2 .5 .2 .5 .2 .5 .1 .5-0 .5-.1 .5 .2 .5 .1 .5 .1 .5 .3 .5-.1 .5 0 .5 .2 .5-.1 .5-.2 .5 .2 .5 .2 .5-0 .5 0 .5-.1 .5 .3 .5-.2 .5 0 .5 .1 .5 .4 .5-.1 .5-.1 .5-.1 .5 .1 .5-.1 .5 0 .5 .2 .5 .2 .5-.2 .5 .3 .5-.3 .5 .3 .5-.1 .5-0 .5-.1 .5 .1 .5 0 .5 0 .5-0 .5-0 .5 0 .5 0 .5-0 .5-.1 .5 .1 .5 .2 .5-.1 .5 .1 .5 0 .5 0 .5-.2 .5 .2 .5 .2 .5 .2 .5-.2 .5-.1 .5 .1 .5 0 .5-.1 .5 0 .5 .2 .5-0 .5-.1 .5 .1 .5-.2 .5 .1 .5-.1 .5 0 .5 .2 .5 .1 .5 0 .5-.1 .5 .2 .5-0 .5-.4 .5 0 .5-0 .5-0 .5-.1 .5 .2 .5 .1 .5 .2 .5-.1 .5-0 .5-.1 .5 .1 .5 .1 .5 .1 .5 0 .5-.2 .5 .1 .5-.1 .5-.1 .5 0 .5 .3" fill="none" stroke="#444" stroke-width="1.0" stroke-linejoin="round" stroke-linecap="round"/>
<path d="M232.2 96.2l.5-.1 .5 0 .5 0 .5 0 .5 0 .5 0 .5 0 .5 0 .5 0 .5 0 .5 0 .5 0 .5-0 .5-0 .5-0 .5-0 .5-0 .5-.1 .5 0 .5 0 .5 0 .5-0 .5-0 .5-0 .5-.1 .5 0 .5-0 .5-0 .5-0 .5-.1 .5 0 .5-0 .5-0 .5-.1 .5 0 .5-0 .5-0 .5-.1 .5-0 .5-0 .5-.1 .5 0 .5-0 .5-0 .5-.1 .5 0 .5-0 .5-0 .5-.1 .5 0 .5 0 .5-0 .5-0 .5-0 .5-.1 .5 0 .5 0 .5 0 .5 0 .5 0 .5 0 .5 0 .5 0 .5 0 .5 0 .5 0 .5 .1 .5-0 .5-0 .5 0 .5 0 .5 0 .5 .1 .5-0 .5 0 .5 0 .5 .1 .5-0 .5 0 .5 0 .5 .1 .5-0 .5 0 .5 0 .5 .1 .5-0 .5 0 .5 0 .5 0 .5 .1 .5-0 .5-0 .5 0 .5 0 .5 0 .5 0 .5 0 .5 .1 .5-0 .5-0 .5-.1 .5 0 .5 0 .5 0 .5 0 .5-0 .5-0 .5-.1 .5-0 .5-0 .5-.1 .5-0 .5-.1 .5-.1 .5-0 .5-.1 .5-.1 .5-.1 .5-.1 .5-.1 .5-.1 .5-.1 .5-.1 .5-.2 .5-.1 .5-.2 .5-.2 .5-.2 .5-.2 .5-.2 .5-.2 .5-.2 .5-.2 .5-.3 .5-.2 .5-.3 .5-.3 .5-.3 .5-.3 .5-.2 .5-.3 .5-.4 .5-.3 .5-.3 .5-.3 .5-.3 .5-.3 .5-.3 .5-.3 .5-.3 .5-.3 .5-.3 .5-.2 .5-.3 .5-.2 .5-.3 .5-.2 .5-.2 .5-.2 .5-.1 .5-.2 .5-.1 .5-.1 .5-.1 .5-0 .5-.1 .5-0 .5-0 .5-.1 .5 0 .5 .1 .5-0 .5-0 .5 0 .5 0 .5 0 .5 0 .5-0 .5-.1 .5-0 .5-.1 .5-.2 .6-.1 .5-.2 .5-.3 .5-.3 .5-.3 .5-.4 .5-.5 .5-.5 .5-.6 .5-.6 .5-.7 .5-.7 .5-.8 .5-.9 .5-.9 .5-1 .5-1 .5-1.1 .5-1.1 .5-1.1 .5-1.1 .5-1.2 .5-1.2 .5-1.1 .5-1.2 .5-1.1 .5-1.1 .5-1 .5-1 .5-.9 .5-.8 .5-.7 .5-.5 .5-.5 .5-.3 .5-.1 .5-.1 .5 .2 .5 .3 .5 .4 .5 .6 .5 .7 .5 .8 .5 1 .5 1 .5 1.1 .5 1.2 .5 1.3 .5 1.3 .5 1.4 .5 1.3 .5 1.4 .5 1.4 .5 1.4 .5 1.4 .5 1.3 .5 1.4 .5 1.3 .5 1.2 .5 1.2 .5 1.2 .5 1.1 .5 1.1 .5 1 .5 1 .5 .9 .5 .8 .5 .8 .5 .8 .5 .7 .5 .6 .5 .6 .5 .6 .5 .5 .5 .4 .5 .4 .5 .4 .5 .4 .5 .3 .5 .3 .5 .2 .5 .3 .5 .2 .5 .2 .5 .2 .5 .1 .5 .2 .5 .1 .5 .1 .5 .1 .5 .1 .5 .1 .5 .1 .5 .1 .5 0 .5 .1 .5 0 .5 .1 .5 0 .5 .1 .5 0 .5 .1 .5 0 .5 0 .5 .1 .5 0 .5 0 .5 .1 .5-0 .5 0 .5 0 .5 .1 .5-0 .5 0 .5 0 .5 .1 .5-0 .5 0 .5 0 .5 0 .5 .1 .5-0 .5-0 .5 0 .5 0 .5 0 .5 .1 .5-0 .5-0 .5 0 .5 0 .5 0 .5 0 .5 .1 .5-0 .5-0 .5-0 .5 0 .5 0 .5 0 .5 0 .5 0 .5 .1 .5-0 .5-0 .5-0 .5-0 .5 0 .5 0 .5 0 .5 0 .5 0 .5 .1 .5-0 .5-0 .5-0 .5-0 .5-0 .5 0 .5 0 .5 0 .5 0 .5 0 .5 0 .5 0 .5 .1 .5-0 .5-0 .5-0 .5-0 .5-0 .5-0 .5-0 .5 0 .5 0 .5 0 .5 0 .5 0 .5 0 .5 0 .5 0 .5 0 .5 .1 .5-0" fill="none" stroke="#e0a008" stroke-width="1.35" stroke-linejoin="round" stroke-linecap="round"/>
<path d="M232.2 144.9l.5 0 .5 0 .5 .1 .5-0 .5-0 .5-0 .5-0 .5-0 .5-0 .5-0 .5-0 .5-0 .5-0 .5-0 .5-0 .5-0 .5-0 .5-0 .5-0 .5-0 .5-0 .5-0 .5-0 .5-0 .5-0 .5-0 .5-0 .5-0 .5-0 .5 0 .5 0 .5 0 .5 0 .5 0 .5 0 .5 0 .5 0 .5 0 .5 0 .5 0 .5 0 .5 0 .5 0 .5 0 .5 0 .5 0 .5 0 .5 0 .5 0 .5 0 .5 0 .5 0 .5 0 .5 0 .5 0 .5 0 .5 0 .5 0 .5 0 .5 0 .5 0 .5 0 .5 0 .5-0 .5-0 .5-0 .5-0 .5-0 .5-0 .5-.1 .5 0 .5 0 .5 0 .5-0 .5-0 .5-.1 .5 0 .5 0 .5-0 .5-.1 .5 0 .5-0 .5-.1 .5 0 .5-0 .5-.1 .5-0 .5-.1 .5-0 .5-.1 .5-0 .5-.1 .5-.1 .5-.1 .5-0 .5-.1 .5-.1 .5-.1 .5-.1 .5-.1 .5-.1 .5-.2 .5-.1 .5-.1 .5-.1 .5-.2 .5-.1 .5-.2 .5-.2 .5-.1 .5-.2 .5-.2 .5-.2 .5-.2 .5-.2 .5-.2 .5-.2 .5-.3 .5-.2 .5-.2 .5-.3 .5-.2 .5-.3 .5-.2 .5-.3 .5-.3 .5-.2 .5-.3 .5-.3 .5-.3 .5-.3 .5-.3 .5-.3 .5-.3 .5-.2 .5-.3 .5-.3 .5-.3 .5-.3 .5-.3 .5-.3 .5-.2 .5-.3 .5-.3 .5-.2 .5-.3 .5-.2 .5-.2 .5-.3 .5-.2 .5-.2 .5-.1 .5-.2 .5-.2 .5-.1 .5-.1 .5-.2 .5-.1 .5-0 .5-.1 .5-.1 .5-0 .5-0 .5-0 .5 0 .5 0 .5 .1 .5 .1 .5 0 .5 .1 .5 .2 .5 .1 .5 .1 .5 .2 .5 .2 .5 .2 .5 .2 .5 .2 .5 .2 .5 .3 .5 .2 .5 .3 .6 .3 .5 .3 .5 .3 .5 .3 .5 .3 .5 .3 .5 .3 .5 .3 .5 .3 .5 .4 .5 .3 .5 .3 .5 .3 .5 .4 .5 .3 .5 .3 .5 .4 .5 .3 .5 .3 .5 .4 .5 .3 .5 .3 .5 .3 .5 .3 .5 .3 .5 .3 .5 .3 .5 .3 .5 .3 .5 .3 .5 .2 .5 .3 .5 .2 .5 .3 .5 .2 .5 .3 .5 .2 .5 .2 .5 .2 .5 .2 .5 .2 .5 .2 .5 .2 .5 .2 .5 .2 .5 .1 .5 .2 .5 .1 .5 .2 .5 .1 .5 .1 .5 .2 .5 .1 .5 .1 .5 .1 .5 .1 .5 .1 .5 .1 .5 .1 .5 0 .5 .1 .5 .1 .5 0 .5 .1 .5 .1 .5 0 .5 .1 .5 0 .5 0 .5 .1 .5 0 .5 .1 .5-0 .5 0 .5 0 .5 .1 .5-0 .5 0 .5 0 .5 .1 .5-0 .5-0 .5 0 .5 0 .5 0 .5 0 .5 .1 .5-0 .5-0 .5-0 .5 0 .5 0 .5 0 .5 0 .5 0 .5 0 .5 0 .5 .1 .5-0 .5-0 .5-0 .5-0 .5-0 .5-0 .5-0 .5-0 .5 0 .5 0 .5 0 .5 0 .5 0 .5 0 .5 0 .5 0 .5 0 .5 0 .5 0 .5 .1 .5-0 .5-0 .5-0 .5-0 .5-0 .5-0 .5-0 .5-0 .5-0 .5-0 .5-0 .5-0 .5-0 .5 0 .5 0 .5 0 .5 0 .5 0 .5 0 .5 0 .5 0 .5 0 .5 0 .5 0 .5 0 .5 0 .5 0 .5 0 .5 .1 .5-0 .5-0 .5-0 .5-0" fill="none" stroke="#1c68f0" stroke-width="1.25" stroke-linejoin="round" stroke-linecap="round"/>
<path d="M290.2 145.2l.5-0 .5-0 .5-0 .5-0 .5-0 .5-0 .5-0 .5-0 .5-0 .5 0 .5 0 .5 0 .5 0 .5 0 .5 0 .5 0 .5 0 .5 0 .5 0 .5 0 .5 0 .5 0 .5 0 .5 .1 .5-0 .5-0 .5-0 .5-0 .5-0 .5-0 .5-0 .5-0 .5-0 .5-0 .5-0 .5-.1 .5 0 .5 0 .5 0 .5-0 .5-0 .5-.1 .5 0 .5-0 .5-.1 .5-0 .5-.1 .5-0 .5-.1 .5-.1 .5-.1 .5-.1 .5-.2 .5-.1 .5-.2 .5-.2 .5-.2 .5-.2 .5-.3 .5-.2 .5-.4 .5-.3 .5-.4 .5-.4 .5-.4 .5-.5 .6-.5 .5-.6 .5-.6 .5-.7 .5-.7 .5-.7 .5-.8 .5-.8 .5-.9 .5-.9 .5-.9 .5-1 .5-1 .5-1 .5-1.1 .5-1.1 .5-1.1 .5-1.2 .5-1.1 .5-1.2 .5-1.1 .5-1.1 .5-1.1 .5-1.1 .5-1.1 .5-1 .5-1 .5-.9 .5-.8 .5-.8 .5-.7 .5-.6 .5-.5 .5-.5 .5-.3 .5-.2 .5-.1 .5 0 .5 .1 .5 .3 .5 .3 .5 .4 .5 .6 .5 .6 .5 .8 .5 .8 .5 .9 .5 .9 .5 1 .5 1.1 .5 1.1 .5 1.1 .5 1.2 .5 1.2 .5 1.2 .5 1.2 .5 1.2 .5 1.2 .5 1.2 .5 1.1 .5 1.2 .5 1.1 .5 1.1 .5 1 .5 1 .5 1 .5 .9 .5 .9 .5 .9 .5 .8 .5 .7 .5 .7 .5 .7 .5 .6 .5 .6 .5 .5 .5 .5 .5 .5 .5 .4 .5 .4 .5 .4 .5 .3 .5 .3 .5 .3 .5 .2 .5 .2 .5 .2 .5 .2 .5 .2 .5 .1 .5 .2 .5 .1 .5 .1 .5 .1 .5 .1 .5 0 .5 .1 .5 .1 .5 0 .5 .1 .5 0 .5 .1 .5 0 .5 0 .5 .1 .5-0 .5 0 .5 0 .5 .1 .5-0 .5 0 .5 0 .5 0 .5 .1 .5-0 .5-0 .5 0 .5 0 .5 0 .5 0 .5 .1 .5-0 .5-0 .5-0 .5 0 .5 0 .5 0 .5 0 .5 0 .5 0 .5 .1 .5-0 .5-0 .5-0 .5-0 .5 0 .5 0 .5 0 .5 0 .5 0 .5 0 .5 0" fill="none" stroke="#f82838" stroke-width="1.25" stroke-linejoin="round" stroke-linecap="round"/>
<path d="M232.2 145l2 0 2 0 2 0 2 0 2 .1 2-0 2-0 2-0 2 0 2 0 2 0 2 0 2 .1 2-0 2-0 2 0 2 0 2 0 2 0 2 .1 2-0 2-0 2 0 2 0 2 0 2 .1 2-0 2-0 2 0 2 .1 2-0 2 0 2 .1 2 0 2 .1 2 0 2 .1 2 .1 2 0 2 .1 2 .1 2 .1 2 0 2 .1 2 .1 2.1 .1 2 .1 2 .1 2 .1 2 .1 2 .1 2 .2 2 .2 2 .1 2 .2 2 .2 2 .1 2 .2 2 .1 2 .1 2 .1 2 .1 2 0 2 .1 2-0 2 0 2 0 2 .1 2-0 2-0 2-0 2 0 2 0 2 0 2 0 2 0 2 .1 2-0 2-0 2-0 2-0 2 0 2 0 2 0 2 0 2 0 2 .1 2-0 2-0 2-0 2-0 1-0" fill="none" stroke="#b878e6" stroke-width="1.1" stroke-linejoin="round" stroke-linecap="round"/>
<path d="M232.2 145l.5-.3 .5 .1 .5-.1 .5-.1 .5-.1 .5 0 .5 .1 .5 0 .5 .1 .5-0 .5 .1 .5-.1 .5-.1 .5-.1 .5-.1 .5-.2 .5 .1 .5 0 .5 .1 .5-0 .5-.2 .5-.1 .5-0 .5 .1 .5 0 .5 0 .5-.1 .5-.2 .5 0 .5 .1 .5 0 .5-.2 .5 .1 .5-.1 .5 0 .5 0 .5-0 .5 .1 .5 .1 .5-.1 .5-.1 .5 0 .5 0 .5 .1 .5-0 .5-.3 .5-0 .5-0 .5 .2 .5-.1 .5 .1 .5 0 .5-.2 .5 .1 .5 .1 .5-0 .5-.2 .5 .1 .5-0 .5-.2 .5 0 .5-.1 .5 .1 .5 .3 .5 .3 .5 0 .5-0 .5 .1 .5-.1 .5-.2 .5-.3 .5 .3 .5-.2 .5-.2 .5 .1 .5 .2 .5-0 .5 .2 .5-0 .5 0 .5 0 .5-.1 .5 .1 .5 .2 .5-.2 .5-0 .5-0 .5-.2 .5 0 .5-.2 .5-0 .5 0 .5 .1 .5 0 .5-.2 .5-.2 .5 .2 .5-0 .5-.4 .5-.1 .5-.2 .5-.1 .5-.2 .5-.1 .5-.1 .5-.1 .5 .1 .5-.2 .5-.3 .5-.3 .5-.1 .5 0 .5-.1 .5-.3 .5-.1 .5-.2 .5-.3 .5-.2 .5-.3 .5-.4 .5-.2 .5-.2 .5-.1 .5-.4 .5-.2 .5-.3 .5-.3 .5-.4 .5-.1 .5-.2 .5-.2 .5-.3 .5-.2 .5-.4 .5-.3 .5-.4 .5-.4 .5-.3 .5-.5 .5-.2 .5-.4 .5-.3 .5-.3 .5-.2 .5 0 .5-.1 .5-.2 .5-.3 .5-.5 .5-.2 .5-.4 .5-.2 .5-.2 .5-.2 .5 0 .5-.3 .5 .2 .5-.3 .5-.1 .5-.4 .5 .1 .5-.3 .5-0 .5-.1 .5 .1 .5-.1 .5-.1 .5-.1 .5 .2 .5-.3 .5-.1 .5-.1 .5-.1 .5-.2 .5-.1 .5 0 .5-.2 .5-0 .5-.3 .5 0 .5-.3 .5-0 .6-.3 .5-.4 .5-.3 .5-.3 .5-.3 .5-.5 .5-.5 .5-.8 .5-.5 .5-.6 .5-.6 .5-.6 .5-.9 .5-.6 .5-.6 .5-.9 .5-.9 .5-.8 .5-.9 .5-.8 .5-.8 .5-1.1 .5-.8 .5-1 .5-.8 .5-.6 .5-.9 .5-.7 .5-.5 .5-.5 .5-.4 .5-.3 .5-.4 .5-.3 .5-0 .5-.2 .5 .1 .5 .3 .5 .2 .5 .3 .5 .7 .5 .6 .5 .4 .5 .8 .5 1.2 .5 1.3 .5 .8 .5 1 .5 1.1 .5 1.2 .5 .9 .5 1.4 .5 1.3 .5 1.2 .5 1.1 .5 1.2 .5 1.4 .5 1.3 .5 1.3 .5 1.2 .5 1.3 .5 1.2 .5 .9 .5 1.1 .5 1.1 .5 1 .5 1.1 .5 .8 .5 .9 .5 .9 .5 .6 .5 .9 .5 .6 .5 .6 .5 .5 .5 .4 .5 .5 .5 .8 .5 .4 .5 .4 .5 .4 .5 .4 .5 .2 .5 .3 .5 .3 .5 .3 .5 .2 .5 .4 .5 0 .5 .1 .5-.1 .5 .2 .5 .3 .5 0 .5 .1 .5-0 .5 0 .5 .1 .5 .1 .5 .2 .5 .1 .5 .1 .5 .1 .5-.1 .5 .2 .5-.1 .5-.2 .5 0 .5 .1 .5-.1 .5 .4 .5-.1 .5 .1 .5-.2 .5 .1 .5 0 .5-.1 .5 .1 .5 0 .5 .1 .5-.2 .5 .2 .5-.1 .5-0 .5-.2 .5 .1 .5 .1 .5 .3 .5-.2 .5 .2 .5 .1 .5-0 .5-.1 .5 0 .5-.2 .5 .2 .5-0 .5-.1 .5 0 .5-.3 .5 0 .5 0 .5 0 .5 .2 .5 .3 .5-0 .5-.1 .5 .1 .5-.1 .5 0 .5 .1 .5-.1 .5-0 .5 0 .5 .1 .5 0 .5-.2 .5-0 .5 0 .5 .2 .5-.2 .5 .2 .5 .2 .5-.2 .5 .2 .5-.3 .5 0 .5-.1 .5 .2 .5 .1 .5 .1 .5-.2 .5-.1 .5 .1 .5-0 .5 .1 .5-.2 .5 .1 .5 .1 .5-.3 .5-0 .5 0 .5 .1 .5-.1" fill="none" stroke="#444" stroke-width="1.0" stroke-linejoin="round" stroke-linecap="round"/>
<path d="M232.2 144.7l.5 0 .5 0 .5 0 .5-0 .5-0 .5-0 .5-.1 .5 0 .5 0 .5-0 .5-0 .5-0 .5-.1 .5 0 .5-0 .5-0 .5-.1 .5 0 .5-0 .5-0 .5-.1 .5 0 .5-0 .5-0 .5-.1 .5 0 .5-0 .5-0 .5-.1 .5-0 .5-0 .5-.1 .5 0 .5-0 .5-0 .5-.1 .5 0 .5-0 .5-0 .5-0 .5-.1 .5 0 .5-0 .5-0 .5-0 .5-0 .5-.1 .5 0 .5 0 .5 0 .5 0 .5 0 .5 0 .5 0 .5 0 .5 0 .5 .1 .5-0 .5-0 .5-0 .5-0 .5 0 .5 0 .5 0 .5 .1 .5-0 .5-0 .5-0 .5 0 .5 0 .5 0 .5 .1 .5-0 .5-0 .5-0 .5-0 .5 0 .5 0 .5 0 .5 0 .5-0 .5-0 .5-0 .5-0 .5-.1 .5 0 .5 0 .5-0 .5-.1 .5-0 .5-0 .5-.1 .5-0 .5-.1 .5-.1 .5-0 .5-.1 .5-.1 .5-.1 .5-.1 .5-.1 .5-.1 .5-.1 .5-.1 .5-.2 .5-.1 .5-.2 .5-.1 .5-.2 .5-.1 .5-.2 .5-.2 .5-.2 .5-.2 .5-.2 .5-.2 .5-.2 .5-.3 .5-.2 .5-.2 .5-.3 .5-.2 .5-.3 .5-.3 .5-.2 .5-.3 .5-.3 .5-.3 .5-.3 .5-.2 .5-.3 .5-.3 .5-.3 .5-.3 .5-.3 .5-.3 .5-.3 .5-.3 .5-.3 .5-.3 .5-.3 .5-.3 .5-.3 .5-.2 .5-.3 .5-.3 .5-.2 .5-.3 .5-.2 .5-.2 .5-.3 .5-.2 .5-.2 .5-.2 .5-.1 .5-.2 .5-.2 .5-.1 .5-.1 .5-.2 .5-.1 .5-.1 .5-.1 .5-0 .5-.1 .5-.1 .5-.1 .5-0 .5-.1 .5-.1 .5-0 .5-.1 .5-.1 .5-.1 .5-.1 .5-.1 .5-.1 .5-.1 .5-.2 .5-.2 .5-.2 .5-.3 .6-.2 .5-.3 .5-.4 .5-.3 .5-.5 .5-.4 .5-.5 .5-.5 .5-.6 .5-.6 .5-.6 .5-.7 .5-.7 .5-.8 .5-.7 .5-.8 .5-.8 .5-.9 .5-.8 .5-.9 .5-.8 .5-.9 .5-.8 .5-.8 .5-.8 .5-.8 .5-.7 .5-.7 .5-.6 .5-.5 .5-.5 .5-.4 .5-.3 .5-.2 .5-.1 .5-0 .5 0 .5 .2 .5 .3 .5 .4 .5 .5 .5 .6 .5 .7 .5 .8 .5 .8 .5 1 .5 1 .5 1 .5 1.2 .5 1.1 .5 1.2 .5 1.3 .5 1.2 .5 1.3 .5 1.3 .5 1.2 .5 1.3 .5 1.3 .5 1.2 .5 1.2 .5 1.2 .5 1.2 .5 1.1 .5 1.1 .5 1 .5 1.1 .5 .9 .5 .9 .5 .9 .5 .8 .5 .8 .5 .7 .5 .7 .5 .7 .5 .6 .5 .5 .5 .5 .5 .5 .5 .5 .5 .4 .5 .3 .5 .4 .5 .3 .5 .3 .5 .2 .5 .2 .5 .2 .5 .2 .5 .2 .5 .2 .5 .1 .5 .1 .5 .1 .5 .1 .5 .1 .5 .1 .5 .1 .5 0 .5 .1 .5 .1 .5 0 .5 .1 .5-0 .5 0 .5 .1 .5-0 .5 0 .5 0 .5 .1 .5-0 .5 0 .5 0 .5 .1 .5-0 .5-0 .5 0 .5 0 .5 0 .5 0 .5 .1 .5-0 .5-0 .5 0 .5 0 .5 0 .5 0 .5 0 .5 .1 .5-0 .5-0 .5-0 .5-0 .5 0 .5 0 .5 0 .5 0 .5 0 .5 .1 .5-0 .5-0 .5-0 .5-0 .5-0 .5-0 .5 0 .5 0 .5 0 .5 0 .5 0 .5 0 .5 0 .5 .1 .5-0 .5-0 .5-0 .5-0 .5-0 .5-0 .5-0 .5 0 .5 0 .5 0 .5 0 .5 0 .5 0 .5 0 .5 0 .5 0 .5 .1 .5-0 .5-0 .5-0 .5-0 .5-0 .5-0 .5-0 .5-0 .5-0 .5 0 .5 0 .5 0 .5 0 .5 0 .5 0" fill="none" stroke="#e0a008" stroke-width="1.35" stroke-linejoin="round" stroke-linecap="round"/>
<text x="234.8" y="15.8" font-size="8.1" class="ax" textLength="15" lengthAdjust="spacingAndGlyphs">N 1s</text>
<text x="239" y="43" font-size="7.2" class="lb" textLength="14.5" lengthAdjust="spacingAndGlyphs">KPHI</text>
<text x="239" y="89.3" font-size="7.2" class="lb" textLength="39.3" lengthAdjust="spacingAndGlyphs">10% BP/KPHI</text>
<text x="239.5" y="129.8" font-size="7.2" class="lb" textLength="42" lengthAdjust="spacingAndGlyphs">10% BP/KPHI-</text>
<text x="239.5" y="138" font-size="7.2" class="lb" textLength="40.3" lengthAdjust="spacingAndGlyphs">after reaction</text>
<text x="211.5" y="14.5" font-size="12.5" class="pn" textLength="15" lengthAdjust="spacingAndGlyphs">(b)</text>
<text x="222.8" y="88.2" font-size="10.7" class="ax" textLength="22.4" lengthAdjust="spacingAndGlyphs" transform="rotate(-90 222.8 88.2)">CPS</text>
<rect x="26" y="197.3" width="174.75" height="141" fill="#fff" stroke="#0c0c0c" stroke-width="1.05"/>
<line x1="47.84" y1="338.3" x2="47.84" y2="341" stroke="#0c0c0c" stroke-width="1.0"/>
<text x="40.64" y="350.1" font-size="10.0" class="ax" textLength="14.4" lengthAdjust="spacingAndGlyphs">298</text>
<line x1="91.53" y1="338.3" x2="91.53" y2="341" stroke="#0c0c0c" stroke-width="1.0"/>
<text x="84.33" y="350.1" font-size="10.0" class="ax" textLength="14.4" lengthAdjust="spacingAndGlyphs">296</text>
<line x1="135.22" y1="338.3" x2="135.22" y2="341" stroke="#0c0c0c" stroke-width="1.0"/>
<text x="128.02" y="350.1" font-size="10.0" class="ax" textLength="14.4" lengthAdjust="spacingAndGlyphs">294</text>
<line x1="178.91" y1="338.3" x2="178.91" y2="341" stroke="#0c0c0c" stroke-width="1.0"/>
<text x="171.71" y="350.1" font-size="10.0" class="ax" textLength="14.4" lengthAdjust="spacingAndGlyphs">292</text>
<line x1="69.69" y1="338.3" x2="69.69" y2="339.8" stroke="#0c0c0c" stroke-width="0.9"/>
<line x1="113.38" y1="338.3" x2="113.38" y2="339.8" stroke="#0c0c0c" stroke-width="0.9"/>
<line x1="157.06" y1="338.3" x2="157.06" y2="339.8" stroke="#0c0c0c" stroke-width="0.9"/>
<text x="66.5" y="359.4" font-size="8.9" class="ax" textLength="87.5" lengthAdjust="spacingAndGlyphs">Binding energy (eV)</text>
<line x1="156.19" y1="204" x2="156.19" y2="275" stroke="#c8c8c8" stroke-width="0.6" stroke-dasharray="1 1"/>
<path d="M26.5 255.9l.5-0 .5 0 .5 0 .5 0 .5 0 .5 .1 .5-0 .5-0 .5 0 .5 0 .5 0 .5 0 .5 .1 .5-0 .5-0 .5 0 .5 0 .5 0 .5 0 .5 .1 .5-0 .5-0 .5-0 .5 0 .5 0 .5 0 .5 0 .5 .1 .5-0 .5-0 .5-0 .5 0 .5 0 .5 0 .5 0 .5 .1 .5-0 .5-0 .5-0 .5 0 .5 0 .5 0 .5 0 .5 0 .5 0 .5 0 .5 .1 .5-0 .5-0 .5-0 .5-0 .5-0 .5-0 .5-0 .5-.1 .5 0 .5 0 .5 0 .5-0 .5-0 .5-.1 .5 0 .5-0 .5-0 .5-.1 .5-0 .5-.1 .5-0 .5-.1 .6-.1 .5-0 .5-.1 .5-.1 .5-.1 .5-.1 .5-.1 .5-.2 .5-.1 .5-.2 .5-.1 .5-.2 .5-.2 .5-.2 .5-.2 .5-.2 .5-.2 .5-.3 .5-.2 .5-.3 .5-.3 .5-.3 .5-.3 .5-.4 .5-.3 .5-.4 .5-.4 .5-.4 .5-.4 .5-.4 .5-.4 .5-.5 .5-.5 .5-.5 .5-.4 .5-.6 .5-.5 .5-.5 .5-.5 .5-.6 .5-.5 .5-.6 .5-.5 .5-.6 .5-.5 .5-.6 .5-.5 .5-.6 .5-.5 .5-.5 .5-.5 .5-.6 .5-.4 .5-.5 .5-.5 .5-.4 .5-.5 .5-.4 .5-.3 .5-.4 .5-.3 .5-.3 .5-.3 .5-.2 .5-.2 .5-.2 .5-.1 .5-.1 .5-.1 .5-0 .5-0 .5-0 .5 .1 .5 .1 .5 .1 .5 .2 .5 .2 .5 .2 .5 .3 .5 .3 .5 .3 .5 .4 .5 .4 .5 .4 .5 .4 .5 .5 .5 .5 .5 .5 .5 .5 .5 .5 .5 .5 .5 .6 .5 .5 .5 .6 .5 .6 .5 .6 .5 .5 .5 .6 .5 .6 .5 .6 .5 .6 .5 .5 .5 .6 .5 .6 .5 .5 .5 .6 .5 .5 .5 .5 .5 .5 .5 .5 .5 .5 .5 .5 .5 .4 .5 .5 .5 .4 .5 .4 .5 .4 .5 .4 .5 .3 .5 .4 .5 .3 .5 .3 .5 .3 .5 .3 .5 .3 .5 .3 .5 .2 .5 .2 .5 .3 .5 .2 .5 .2 .5 .2 .5 .1 .5 .2 .5 .2 .5 .1 .5 .1 .5 .2 .5 .1 .6 .1 .5 .1 .5 .1 .5 .1 .5 .1 .5 0 .5 .1 .5 .1 .5 0 .5 .1 .5 .1 .5 0 .5 .1 .5 0 .5 .1 .5-0 .5 0 .5 .1 .5 0 .5 0 .5 .1 .5-0 .5 0 .5 0 .5 .1 .5-0 .5 0 .5 0 .5 .1 .5-0 .5 0 .5 0 .5 0 .5 .1 .5-0 .5-0 .5 0 .5 0 .5 .1 .5-0 .5-0 .5 0 .5 0 .5 0 .5 .1 .5-0 .5-0 .5-0 .5 0 .5 0 .5 0 .5 .1 .5-0 .5-0 .5 0 .5 0 .5 0 .5 .1 .5-0 .5-0 .5 0 .5 0 .5 0 .5 0 .5 .1 .5-0 .5-0 .5 0 .5 0 .5 0 .5 .1 .5-0 .5-0 .5-0 .5 0 .5 0 .5 0 .5 .1 .5-0 .5-0" fill="none" stroke="#1c68f0" stroke-width="1.1" stroke-linejoin="round" stroke-linecap="round"/>
<path d="M85.6 257.6l.5-0 .5-0 .5 0 .5 0 .5 0 .5 0 .5 .1 .5-0 .5-0 .5 0 .5 0 .5 0 .5 0 .5 .1 .5-0 .5-0 .5-0 .5 0 .5 0 .5 0 .5 0 .5 .1 .5-0 .5-0 .5-0 .5 0 .5 0 .5 0 .5 0 .5 .1 .5-0 .5-0 .5-0 .5 0 .5 0 .5 0 .5 0 .5 0 .5 .1 .5-0 .5-0 .5-0 .5-0 .5-0 .5 0 .5 0 .5 0 .5 0 .5 0 .5 0 .5 0 .5 0 .5-0 .5-0 .5-0 .5-0 .5-.1 .5 0 .5-0 .5-0 .5-.1 .5-0 .5-.1 .5-0 .5-.1 .5-.1 .5-0 .5-.1 .5-.1 .5-.1 .5-.1 .5-.2 .5-.1 .5-.2 .5-.2 .5-.1 .5-.3 .5-.2 .5-.2 .5-.3 .5-.3 .5-.3 .5-.3 .5-.4 .5-.4 .5-.4 .5-.5 .5-.5 .5-.5 .5-.5 .6-.6 .5-.6 .5-.6 .5-.7 .5-.7 .5-.8 .5-.8 .5-.8 .5-.9 .5-.9 .5-.9 .5-1 .5-1 .5-1 .5-1.1 .5-1.1 .5-1.1 .5-1.2 .5-1.1 .5-1.2 .5-1.3 .5-1.2 .5-1.3 .5-1.2 .5-1.3 .5-1.3 .5-1.2 .5-1.3 .5-1.3 .5-1.2 .5-1.2 .5-1.3 .5-1.1 .5-1.2 .5-1.1 .5-1.1 .5-1 .5-1 .5-1 .5-.8 .5-.9 .5-.7 .5-.7 .5-.6 .5-.6 .5-.4 .5-.4 .5-.3 .5-.3 .5-.1 .5-.1 .5 0 .5 .1 .5 .2 .5 .3 .5 .3 .5 .5 .5 .5 .5 .6 .5 .6 .5 .8 .5 .7 .5 .9 .5 .9 .5 1 .5 1 .5 1.1 .5 1.1 .5 1.2 .5 1.1 .5 1.3 .5 1.2 .5 1.3 .5 1.2 .5 1.3 .5 1.3 .5 1.3 .5 1.3 .5 1.3 .5 1.3 .5 1.3 .5 1.3 .5 1.2 .5 1.2 .5 1.3 .5 1.1 .5 1.2 .5 1.1 .5 1.1 .5 1.1 .5 1 .5 1 .5 1 .5 .9 .5 .9 .5 .8 .5 .8 .5 .8 .5 .7 .5 .8 .5 .6 .5 .7 .5 .6 .5 .5 .5 .6 .5 .5 .5 .4 .5 .5 .5 .4 .5 .4 .5 .4 .5 .3 .5 .3 .5 .3 .5 .3 .5 .3 .5 .2 .5 .2 .5 .2 .5 .2 .5 .2 .5 .1 .5 .2 .5 .1 .5 .1 .5 .2 .5 .1 .5 .1 .5 .1 .5 0 .5 .1 .5 .1 .5 0 .5 .1 .5 .1 .5 0 .5 .1 .5 0 .6 0" fill="none" stroke="#f82838" stroke-width="1.1" stroke-linejoin="round" stroke-linecap="round"/>
<path d="M26.5 255.9l2 .1 2 0 2 .1 2 0 2 .1 2 .1 2 0 2 .1 2 0 2 .1 2 .1 2 0 2 .1 2 0 2 .1 2 0 2 .1 2.1 .1 2 0 2 .1 2 0 2 .1 2 .1 2 0 2 .1 2 0 2 .1 2 .1 2 0 2 .1 2 0 2 .1 2 0 2 .1 2 .1 2 0 2 .1 2 0 2 .1 2 .1 2 0 2 .1 2 0 2 .1 2 0 2 .1 2 .1 2 0 2 .1 2 0 2 .1 2 .1 2.1 0 2 .1 2 0 2 .1 2 0 2 .1 2 .1 2 0 2 .1 2 0 2 .1 2 .1 2 0 2 .1 2 0 2 .1 2 0 2 .1 2 .1 2 0 2 .1 2 0 2 .1 2 .1 2 0 2 .1 2 0 2 .1 2 0 2 .1 2 .1 2 0 2 .1 2 0 1.6 .1" fill="none" stroke="#b878e6" stroke-width="1.1" stroke-linejoin="round" stroke-linecap="round"/>
<path d="M26.5 256l.5-0 .5-.4 .5 .4 .5 .1 .5 0 .5-0 .5 .4 .5 .1 .5 .1 .5-.4 .5-.3 .5-.3 .5 .1 .5-.8 .5 1 .5 .1 .5 0 .5 .3 .5-.2 .5 0 .5 .2 .5-.6 .5 .7 .5-.1 .5 .1 .5-.4 .5-.2 .5 .7 .5-.3 .5-.2 .5 .3 .5 .4 .5-1 .5 .7 .5-0 .5 .2 .5-.5 .5 .2 .5 .5 .5-.3 .5-.3 .5-.1 .5-.1 .5 .4 .5-0 .5-.2 .5 .2 .5-.4 .5-.4 .5 1.1 .5-.4 .5 .5 .5-.3 .5-.2 .5 .1 .5-.4 .5-.3 .5 .1 .5-0 .5 .3 .5 .5 .5-.7 .5-.3 .5 .3 .5 0 .5 .2 .5-.5 .5 .1 .5-.2 .6-.7 .5 .3 .5-.6 .5 .3 .5-.2 .5-.1 .5 .6 .5 .1 .5-.4 .5-.3 .5-.6 .5 .2 .5-.2 .5-.7 .5-.8 .5 0 .5-.2 .5 .1 .5-.7 .5-.4 .5-0 .5-.3 .5-0 .5-.2 .5-.9 .5-1.1 .5-0 .5-.5 .5-.1 .5-1.3 .5-0 .5-.2 .5-.5 .5-.2 .5-.4 .5-.4 .5-.2 .5-.3 .5-.4 .5-.7 .5-.7 .5-.5 .5-.6 .5-.9 .5-.3 .5-.3 .5-.8 .5-.9 .5-.1 .5-.8 .5-.8 .5-.3 .5-.7 .5-0 .5-.5 .5-.2 .5 .1 .5-.2 .5-.5 .5-1.2 .5-.2 .5-.4 .5 .3 .5 .4 .5-.2 .5-.2 .5-.1 .5-.1 .5-.4 .5 .2 .5-.2 .5-.4 .5 .2 .5 .7 .5-.1 .5-.5 .5 .8 .5 .3 .5 .3 .5 .1 .5 .5 .5 .8 .5-.1 .5 .5 .5 .4 .5 .1 .5 .6 .5 .7 .5 .1 .5 1 .5 0 .5 1 .5 .6 .5 .5 .5 .2 .5 .4 .5-.1 .5 1 .5 .7 .5 .9 .5 .9 .5 .4 .5 .3 .5 .8 .5 .4 .5 .4 .5 0 .5 1 .5 .1 .5 1.1 .5-.1 .5 .2 .5 .4 .5 .1 .5-0 .5 .2 .5 .3 .5 .4 .5 .7 .5 .3 .5 .2 .5 .2 .5-.8 .5 .1 .5-0 .5-.2 .5 .4 .5-.3 .5-.3 .5 .3 .5-.4 .5-.2 .5-.7 .5 .2 .5-.3 .5 .1 .5 0 .5-.6 .5-1 .6-.9 .5-.1 .5-.9 .5-.5 .5-.8 .5-1.9 .5-.3 .5-.6 .5-.7 .5-.9 .5-.8 .5-1.3 .5-.6 .5-1.2 .5-.9 .5-.5 .5-1.3 .5-1.6 .5-.9 .5-1.6 .5-.9 .5-.7 .5-1.6 .5-1.2 .5-1.4 .5-1 .5-1 .5-1.1 .5-1.3 .5-1.7 .5-1.1 .5-.9 .5-.6 .5-1.7 .5-.4 .5-1.2 .5-1.3 .5-.1 .5-.8 .5-1.1 .5-.6 .5-.4 .5-1.2 .5 .1 .5-.9 .5-.1 .5-.6 .5-.7 .5-.1 .5-.1 .5 .2 .5-.4 .5 0 .5 .6 .5 .3 .5 .3 .5 .7 .5 .1 .5 1.4 .5 .3 .5 .8 .5 .7 .5 1.2 .5 .6 .5 .7 .5 1.2 .5 1.3 .5 1 .5 1.8 .5 1.1 .5 1.4 .5 1.3 .5 1.2 .5 .9 .5 1.6 .5 .9 .5 1.2 .5 1.7 .5 1.3 .5 .7 .5 1.2 .5 1 .5 1.8 .5 1 .5 1.2 .5 1 .5 1.1 .5 1.5 .5 .7 .5 1.2 .5 .9 .5 1 .5 .7 .5 1.5 .5 .4 .5 .7 .5 .9 .5 1 .5 .7 .5 .3 .5 .9 .5 .5 .5 .7 .5 1.3 .5-.2 .5 .7 .5 .8 .5 .3 .5 .4 .5 .8 .5 .2 .5-.2 .5 .4 .5 .6 .5 .2 .5 .2 .5 .4 .5 .1 .5 .3 .5 .4 .5-.1 .5-.2 .5 .8 .5 .2 .5-.2 .5-.3 .5 .4 .5 .2 .5 .3 .5 .2 .5-.2 .5 0 .5-.3 .5 0 .5 .2 .5 .6 .5-.4 .5 .8 .6 .1" fill="none" stroke="#3a3a3a" stroke-width="1.0" stroke-linejoin="round" stroke-linecap="round"/>
<path d="M26.5 255.9l.5-0 .5-0 .5-0 .5 0 .5 0 .5 0 .5 .1 .5-0 .5-0 .5-0 .5 0 .5 0 .5 0 .5 0 .5 .1 .5-0 .5-0 .5 0 .5 0 .5 0 .5 0 .5 .1 .5-0 .5-0 .5-0 .5 0 .5 0 .5 0 .5 0 .5 .1 .5-0 .5-0 .5-0 .5 0 .5 0 .5 0 .5 0 .5 .1 .5-0 .5-0 .5-0 .5-0 .5-0 .5 0 .5 0 .5 0 .5 0 .5 0 .5 0 .5 0 .5 0 .5 0 .5 0 .5 0 .5 0 .5-0 .5-0 .5-0 .5-0 .5-.1 .5 0 .5-0 .5-0 .5-.1 .5-0 .5-.1 .5-0 .5-.1 .5-0 .6-.1 .5-.1 .5-.1 .5-.1 .5-.1 .5-.1 .5-.1 .5-.1 .5-.2 .5-.1 .5-.2 .5-.1 .5-.2 .5-.2 .5-.2 .5-.2 .5-.3 .5-.2 .5-.3 .5-.3 .5-.3 .5-.3 .5-.3 .5-.3 .5-.4 .5-.3 .5-.4 .5-.4 .5-.4 .5-.5 .5-.4 .5-.5 .5-.4 .5-.5 .5-.5 .5-.5 .5-.5 .5-.6 .5-.5 .5-.5 .5-.6 .5-.5 .5-.6 .5-.5 .5-.6 .5-.5 .5-.6 .5-.5 .5-.6 .5-.5 .5-.5 .5-.5 .5-.5 .5-.5 .5-.5 .5-.4 .5-.4 .5-.4 .5-.4 .5-.4 .5-.3 .5-.3 .5-.3 .5-.2 .5-.2 .5-.2 .5-.1 .5-.1 .5-.1 .5-0 .5-0 .5-0 .5 .1 .5 .1 .5 .1 .5 .2 .5 .2 .5 .2 .5 .3 .5 .3 .5 .3 .5 .4 .5 .4 .5 .4 .5 .4 .5 .4 .5 .5 .5 .5 .5 .5 .5 .5 .5 .6 .5 .5 .5 .6 .5 .5 .5 .6 .5 .6 .5 .5 .5 .6 .5 .6 .5 .5 .5 .6 .5 .5 .5 .6 .5 .5 .5 .5 .5 .5 .5 .5 .5 .5 .5 .5 .5 .4 .5 .4 .5 .4 .5 .4 .5 .4 .5 .3 .5 .4 .5 .2 .5 .3 .5 .3 .5 .2 .5 .2 .5 .1 .5 .1 .5 .1 .5 .1 .5 0 .5 0 .5 0 .5-0 .5-.1 .5-.2 .5-.1 .5-.2 .5-.3 .5-.3 .5-.3 .5-.4 .5-.3 .5-.5 .6-.5 .5-.5 .5-.6 .5-.6 .5-.6 .5-.7 .5-.7 .5-.8 .5-.8 .5-.9 .5-.9 .5-.9 .5-1 .5-1 .5-1 .5-1.1 .5-1.1 .5-1.1 .5-1.2 .5-1.2 .5-1.2 .5-1.2 .5-1.2 .5-1.3 .5-1.2 .5-1.3 .5-1.3 .5-1.2 .5-1.3 .5-1.2 .5-1.2 .5-1.3 .5-1.1 .5-1.2 .5-1.1 .5-1.1 .5-1 .5-1 .5-.9 .5-.9 .5-.8 .5-.8 .5-.7 .5-.6 .5-.5 .5-.5 .5-.4 .5-.3 .5-.2 .5-.2 .5-0 .5-0 .5 .1 .5 .2 .5 .2 .5 .4 .5 .4 .5 .5 .5 .6 .5 .7 .5 .7 .5 .8 .5 .9 .5 .9 .5 1 .5 1 .5 1 .5 1.2 .5 1.1 .5 1.2 .5 1.2 .5 1.3 .5 1.2 .5 1.3 .5 1.3 .5 1.3 .5 1.3 .5 1.3 .5 1.3 .5 1.3 .5 1.3 .5 1.2 .5 1.3 .5 1.2 .5 1.2 .5 1.2 .5 1.2 .5 1.1 .5 1.1 .5 1 .5 1.1 .5 1 .5 .9 .5 .9 .5 .9 .5 .9 .5 .8 .5 .8 .5 .7 .5 .7 .5 .7 .5 .6 .5 .6 .5 .6 .5 .5 .5 .5 .5 .5 .5 .5 .5 .4 .5 .4 .5 .3 .5 .4 .5 .3 .5 .3 .5 .3 .5 .2 .5 .3 .5 .2 .5 .2 .5 .2 .5 .2 .5 .1 .5 .2 .5 .1 .5 .1 .5 .1 .5 .1 .5 .1 .5 .1 .5 .1 .5 .1 .5 .1 .5 0 .5 .1 .5 0 .5 .1 .5 0 .5 .1 .6 0" fill="none" stroke="#e0a008" stroke-width="1.3" stroke-linejoin="round" stroke-linecap="round"/>
<path d="M26.5 326.2l.5 0 .5 0 .5 .1 .5-0 .5-0 .5-0 .5 0 .5 0 .5 0 .5 .1 .5-0 .5-0 .5-0 .5 0 .5 0 .5 0 .5 0 .5 .1 .5-0 .5-0 .5 0 .5 0 .5 0 .5 0 .5 .1 .5-0 .5-0 .5-0 .5 0 .5 0 .5 0 .5 0 .5 .1 .5-0 .5-0 .5-0 .5 0 .5 0 .5 0 .5 0 .5 .1 .5-0 .5-0 .5-0 .5-0 .5 0 .5 0 .5 0 .5 0 .5 0 .5 0 .5 0 .5 0 .5 0 .5 0 .5 0 .5 0 .5 0 .5 0 .5 0 .5 0 .5-0 .5-0 .5-.1 .5 0 .5-0 .5-0 .5-.1 .5-0 .6-.1 .5-0 .5-.1 .5-.1 .5-0 .5-.1 .5-.1 .5-.1 .5-.1 .5-.1 .5-.2 .5-.1 .5-.1 .5-.2 .5-.2 .5-.1 .5-.2 .5-.2 .5-.3 .5-.2 .5-.3 .5-.2 .5-.3 .5-.3 .5-.3 .5-.3 .5-.4 .5-.3 .5-.4 .5-.4 .5-.4 .5-.4 .5-.4 .5-.5 .5-.5 .5-.4 .5-.5 .5-.5 .5-.5 .5-.6 .5-.5 .5-.5 .5-.6 .5-.6 .5-.5 .5-.6 .5-.6 .5-.5 .5-.6 .5-.6 .5-.5 .5-.6 .5-.5 .5-.6 .5-.5 .5-.5 .5-.5 .5-.5 .5-.4 .5-.5 .5-.4 .5-.4 .5-.4 .5-.3 .5-.3 .5-.3 .5-.3 .5-.2 .5-.2 .5-.1 .5-.2 .5-0 .5-.1 .5-0 .5 0 .5 .1 .5 0 .5 .2 .5 .1 .5 .2 .5 .2 .5 .3 .5 .3 .5 .3 .5 .4 .5 .3 .5 .4 .5 .5 .5 .4 .5 .5 .5 .5 .5 .5 .5 .5 .5 .6 .5 .5 .5 .6 .5 .6 .5 .5 .5 .6 .5 .6 .5 .6 .5 .6 .5 .6 .5 .6 .5 .6 .5 .6 .5 .6 .5 .5 .5 .6 .5 .5 .5 .6 .5 .5 .5 .5 .5 .5 .5 .5 .5 .5 .5 .5 .5 .4 .5 .4 .5 .4 .5 .4 .5 .4 .5 .4 .5 .3 .5 .4 .5 .3 .5 .3 .5 .3 .5 .2 .5 .3 .5 .3 .5 .2 .5 .2 .5 .2 .5 .2 .5 .2 .5 .2 .5 .1 .5 .2 .6 .1 .5 .1 .5 .2 .5 .1 .5 .1 .5 .1 .5 .1 .5 .1 .5 .1 .5 0 .5 .1 .5 .1 .5 0 .5 .1 .5 0 .5 .1 .5 0 .5 .1 .5 0 .5 .1 .5-0 .5 0 .5 .1 .5-0 .5 0 .5 0 .5 .1 .5-0 .5 0 .5 0 .5 .1 .5-0 .5-0 .5 0 .5 0 .5 0 .5 .1 .5-0 .5-0 .5 0 .5 0 .5 0 .5 .1 .5-0 .5-0 .5 0 .5 0 .5 0 .5 0 .5 .1 .5-0 .5-0 .5 0 .5 0 .5 0 .5 0 .5 .1 .5-0 .5-0 .5-0 .5 0 .5 0 .5 0 .5 .1 .5-0 .5-0 .5-0 .5 0 .5 0 .5 0 .5 .1 .5-0 .5-0 .5-0 .5 0 .5 0 .5 0 .5 0 .5 .1 .5-0 .5-0 .5 0 .5 0 .5 0" fill="none" stroke="#1c68f0" stroke-width="1.1" stroke-linejoin="round" stroke-linecap="round"/>
<path d="M77.6 327.6l.5 0 .5 0 .5 .1 .5-0 .5-0 .5-0 .5 0 .5 0 .5 0 .5 .1 .5-0 .5-0 .5-0 .5 0 .5 0 .5 0 .5 .1 .5-0 .5-0 .5-0 .5 0 .5 0 .5 0 .5 0 .5 .1 .5-0 .5-0 .5-0 .5 0 .5 0 .5 0 .5 .1 .5-0 .5-0 .5-0 .5 0 .5 0 .5 0 .5 0 .5 .1 .5-0 .5-0 .5-0 .5 0 .5 0 .5 0 .5 0 .5 0 .5 0 .5 .1 .5-0 .5-0 .5-0 .5-0 .5-0 .5-0 .5-0 .5-0 .5-0 .5-0 .5-0 .5-0 .5-0 .5-.1 .5 0 .5 0 .5-0 .5-0 .5-.1 .5-0 .5-0 .5-.1 .5-0 .5-.1 .5-.1 .5-0 .5-.1 .5-.1 .5-.1 .5-.1 .5-.1 .5-.1 .5-.2 .5-.1 .5-.2 .5-.1 .5-.2 .5-.2 .5-.2 .5-.3 .5-.2 .5-.3 .5-.3 .5-.3 .5-.3 .5-.4 .5-.4 .5-.4 .5-.4 .5-.4 .5-.5 .5-.5 .5-.5 .5-.6 .5-.6 .5-.6 .6-.6 .5-.7 .5-.7 .5-.7 .5-.7 .5-.8 .5-.8 .5-.9 .5-.8 .5-.9 .5-.9 .5-1 .5-.9 .5-1 .5-1 .5-1.1 .5-1 .5-1.1 .5-1.1 .5-1.1 .5-1.1 .5-1.1 .5-1.2 .5-1.1 .5-1.1 .5-1.2 .5-1.1 .5-1.1 .5-1.2 .5-1.1 .5-1.1 .5-1 .5-1.1 .5-1 .5-1 .5-1 .5-.9 .5-.9 .5-.9 .5-.8 .5-.8 .5-.7 .5-.7 .5-.6 .5-.6 .5-.5 .5-.5 .5-.4 .5-.3 .5-.3 .5-.2 .5-.2 .5-.1 .5 0 .5 .1 .5 .1 .5 .1 .5 .3 .5 .3 .5 .3 .5 .5 .5 .4 .5 .6 .5 .6 .5 .6 .5 .7 .5 .8 .5 .8 .5 .8 .5 .9 .5 .9 .5 1 .5 1 .5 1 .5 1.1 .5 1 .5 1.1 .5 1.2 .5 1.1 .5 1.1 .5 1.2 .5 1.2 .5 1.1 .5 1.2 .5 1.2 .5 1.1 .5 1.2 .5 1.1 .5 1.1 .5 1.2 .5 1.1 .5 1 .5 1.1 .5 1.1 .5 1 .5 1 .5 .9 .5 1 .5 .9 .5 .9 .5 .9 .5 .8 .5 .8 .5 .8 .5 .8 .5 .7 .5 .7 .5 .7 .5 .6 .5 .6 .5 .6 .5 .5 .5 .6 .5 .5 .5 .4 .5 .5 .5 .4 .5 .4 .5 .4 .5 .4 .5 .3 .5 .3 .5 .3 .5 .3 .5 .3 .5 .2 .5 .3 .5 .2 .5 .2 .5 .2 .5 .1 .5 .2 .5 .2 .5 .1 .5 .1 .5 .2 .5 .1 .5 .1 .6 .1" fill="none" stroke="#f82838" stroke-width="1.1" stroke-linejoin="round" stroke-linecap="round"/>
<path d="M26.5 326.2l2 .1 2 0 2 .1 2 0 2 .1 2 0 2 .1 2 .1 2 0 2 .1 2 0 2 .1 2 0 2 .1 2 0 2 .1 2 0 2.1 .1 2 .1 2 0 2 .1 2 0 2 .1 2 0 2 .1 2 0 2 .1 2 .1 2 0 2 .1 2 0 2 .1 2 0 2 .1 2 0 2 .1 2 0 2 .1 2 .1 2 0 2 .1 2 0 2 .1 2 0 2 .1 2 0 2 .1 2 .1 2 0 2 .1 2 0 2 .1 2.1 0 2 .1 2 0 2 .1 2 0 2 .1 2 .1 2 0 2 .1 2 0 2 .1 2 0 2 .1 2 0 2 .1 2 .1 2 0 2 .1 2 0 2 .1 2 0 2 .1 2 0 2 .1 2 0 2 .1 2 .1 2 0 2 .1 2 0 2 .1 2 0 2 .1 2 0 1.6 .1" fill="none" stroke="#b878e6" stroke-width="1.1" stroke-linejoin="round" stroke-linecap="round"/>
<path d="M26.5 326.4l.5 0 .5-.3 .5 .7 .5-.7 .5 .1 .5 .3 .5 .2 .5 0 .5-.5 .5 .7 .5-.5 .5 0 .5 0 .5 0 .5-.1 .5 .5 .5-.1 .5 .2 .5-.7 .5 .4 .5-.1 .5 .1 .5 .1 .5 .1 .5-.1 .5-0 .5-0 .5 0 .5 0 .5-.1 .5 .1 .5-.3 .5 .8 .5 0 .5 .3 .5-.4 .5-.6 .5-.3 .5-0 .5 0 .5 .2 .5 0 .5 .4 .5-.8 .5 .9 .5-.2 .5 .1 .5-.6 .5 .4 .5-.4 .5 .4 .5 .2 .5 0 .5-.1 .5-.1 .5-0 .5 .3 .5-.1 .5 0 .5 .7 .5-.4 .5-.5 .5-.8 .5-.4 .5 .5 .5 .4 .5-.3 .5-.3 .5 .2 .6 .1 .5 .3 .5-.3 .5-.3 .5 .2 .5-.5 .5-.4 .5-.2 .5 0 .5-.1 .5 0 .5-0 .5 .6 .5-.4 .5-1.1 .5-.5 .5 .2 .5-.4 .5 .6 .5-.6 .5-.5 .5-.2 .5-.4 .5-.1 .5-.5 .5-.2 .5-.6 .5-1.1 .5 .1 .5 .3 .5-.9 .5-.5 .5-.1 .5-.7 .5-.4 .5-.5 .5-.3 .5-.6 .5 .1 .5-.8 .5-.7 .5-1 .5-.4 .5-.7 .5-.2 .5-.3 .5 .2 .5-1.2 .5-.6 .5-.3 .5-1.3 .5-.1 .5 .1 .5-.8 .5-.6 .5-.1 .5-.6 .5-.5 .5-.3 .5-.8 .5 .2 .5-.7 .5-.4 .5-.5 .5-1 .5-.4 .5 .1 .5 .1 .5 .3 .5 .6 .5-.3 .5-.4 .5-.4 .5 .4 .5-.4 .5 0 .5 .5 .5-.1 .5 0 .5 .2 .5-.3 .5 .4 .5 .5 .5 .4 .5 .2 .5-.2 .5 .4 .5 1 .5 .2 .5 .3 .5 .8 .5 .7 .5 .5 .5 .7 .5 .6 .5 .5 .5 .5 .5 .9 .5-.1 .5 1.2 .5 .3 .5 .1 .5 .7 .5 .7 .5-.1 .5 .6 .5 .8 .5 .6 .5 .2 .5 0 .5 .5 .5 1.1 .5-.2 .5 1.2 .5-.1 .5-0 .5-0 .5 .2 .5 .3 .5-.2 .5 .8 .5 .3 .5-.2 .5-.5 .5-.1 .5-0 .5 .2 .5-.2 .5-.6 .5-.1 .5-.2 .5-.2 .5 .1 .5-.7 .5-.8 .5 .2 .5-.2 .5-1 .5-.2 .6-.8 .5-.4 .5-.5 .5-1.2 .5-.9 .5-.5 .5-1.1 .5-.9 .5-.7 .5-.6 .5-.8 .5-1 .5-.8 .5-.4 .5-.9 .5-1 .5-1.3 .5-1.2 .5-1.3 .5-1 .5-1.4 .5-.7 .5-.9 .5-1.1 .5-1.1 .5-1.2 .5-.5 .5-.8 .5-.7 .5-1.1 .5-1.2 .5-.7 .5-1.5 .5-1.3 .5-.4 .5-.7 .5-.8 .5-.5 .5-1 .5-.7 .5-.7 .5-1.1 .5-.4 .5-.3 .5-.6 .5-.7 .5-.6 .5-.9 .5-.2 .5 .5 .5 .2 .5-.3 .5-.4 .5 .4 .5 .3 .5 0 .5-.2 .5 .4 .5 .5 .5 0 .5 .2 .5 .4 .5 .7 .5 .8 .5 .7 .5 .7 .5 .5 .5 .9 .5 1.2 .5 .8 .5 1 .5 .8 .5 .7 .5 .9 .5 1.1 .5 .7 .5 1.3 .5 1.1 .5 1.4 .5 1.4 .5 1.1 .5 1 .5 1.3 .5 .8 .5 1.5 .5 1.5 .5 1.2 .5 1.4 .5 .7 .5 .4 .5 1.5 .5 1.8 .5 .5 .5 1.5 .5 .6 .5 1.4 .5 .6 .5 .8 .5 1.1 .5 .3 .5 1.1 .5 .9 .5 1.1 .5 .8 .5 .7 .5 .6 .5 1.3 .5 .5 .5 .5 .5-.2 .5 1.3 .5 .5 .5 .5 .5 .7 .5 .4 .5 .8 .5 .2 .5 .4 .5 .3 .5 .4 .5 .3 .5 .4 .5 .2 .5 .2 .5 .4 .5-.1 .5 0 .5 .4 .5 .3 .5 .5 .5-.4 .5 .7 .5-.1 .5-.1 .5 .3 .5 .3 .5 .3 .5-.6 .6 .6" fill="none" stroke="#3a3a3a" stroke-width="1.0" stroke-linejoin="round" stroke-linecap="round"/>
<path d="M26.5 326.2l.5 0 .5 0 .5 .1 .5-0 .5-0 .5-0 .5 0 .5 0 .5 0 .5 .1 .5-0 .5-0 .5-0 .5 0 .5 0 .5 0 .5 0 .5 .1 .5-0 .5-0 .5 0 .5 0 .5 0 .5 0 .5 .1 .5-0 .5-0 .5-0 .5 0 .5 0 .5 0 .5 0 .5 .1 .5-0 .5-0 .5-0 .5 0 .5 0 .5 0 .5 0 .5 .1 .5-0 .5-0 .5-0 .5-0 .5 0 .5 0 .5 0 .5 0 .5 0 .5 0 .5 0 .5 0 .5 0 .5 0 .5 0 .5 0 .5 0 .5 0 .5 0 .5 0 .5-0 .5-0 .5-.1 .5 0 .5-0 .5-0 .5-.1 .5-0 .6-.1 .5-0 .5-.1 .5-.1 .5-0 .5-.1 .5-.1 .5-.1 .5-.1 .5-.1 .5-.2 .5-.1 .5-.1 .5-.2 .5-.2 .5-.1 .5-.2 .5-.2 .5-.3 .5-.2 .5-.3 .5-.2 .5-.3 .5-.3 .5-.3 .5-.3 .5-.4 .5-.3 .5-.4 .5-.4 .5-.4 .5-.4 .5-.4 .5-.5 .5-.5 .5-.4 .5-.5 .5-.5 .5-.5 .5-.6 .5-.5 .5-.5 .5-.6 .5-.6 .5-.5 .5-.6 .5-.6 .5-.5 .5-.6 .5-.6 .5-.5 .5-.6 .5-.5 .5-.6 .5-.5 .5-.5 .5-.5 .5-.5 .5-.4 .5-.5 .5-.4 .5-.4 .5-.4 .5-.3 .5-.3 .5-.3 .5-.3 .5-.2 .5-.2 .5-.1 .5-.2 .5-.1 .5-0 .5-0 .5-0 .5 0 .5 .1 .5 .1 .5 .2 .5 .2 .5 .2 .5 .3 .5 .2 .5 .4 .5 .3 .5 .4 .5 .4 .5 .4 .5 .4 .5 .5 .5 .5 .5 .4 .5 .6 .5 .5 .5 .5 .5 .6 .5 .5 .5 .6 .5 .5 .5 .6 .5 .5 .5 .6 .5 .5 .5 .6 .5 .5 .5 .5 .5 .5 .5 .5 .5 .5 .5 .5 .5 .4 .5 .4 .5 .4 .5 .4 .5 .3 .5 .4 .5 .3 .5 .2 .5 .3 .5 .2 .5 .2 .5 .1 .5 .1 .5 .1 .5 .1 .5-0 .5-0 .5-.1 .5-.1 .5-.1 .5-.2 .5-.2 .5-.2 .5-.3 .5-.3 .5-.4 .5-.4 .5-.4 .5-.5 .6-.5 .5-.5 .5-.6 .5-.6 .5-.7 .5-.7 .5-.7 .5-.8 .5-.8 .5-.8 .5-.8 .5-.9 .5-1 .5-.9 .5-1 .5-1 .5-1 .5-1.1 .5-1 .5-1.1 .5-1.1 .5-1.1 .5-1.1 .5-1.1 .5-1.1 .5-1.2 .5-1.1 .5-1.1 .5-1.1 .5-1.1 .5-1.1 .5-1.1 .5-1 .5-1 .5-1 .5-1 .5-.9 .5-.9 .5-.9 .5-.8 .5-.8 .5-.7 .5-.7 .5-.6 .5-.6 .5-.5 .5-.5 .5-.4 .5-.3 .5-.3 .5-.2 .5-.2 .5-.1 .5 0 .5 .1 .5 .1 .5 .1 .5 .3 .5 .3 .5 .3 .5 .5 .5 .4 .5 .6 .5 .6 .5 .6 .5 .7 .5 .8 .5 .8 .5 .8 .5 .9 .5 .9 .5 1 .5 1 .5 1 .5 1.1 .5 1 .5 1.1 .5 1.2 .5 1.1 .5 1.1 .5 1.2 .5 1.2 .5 1.1 .5 1.2 .5 1.2 .5 1.1 .5 1.2 .5 1.1 .5 1.1 .5 1.2 .5 1.1 .5 1 .5 1.1 .5 1.1 .5 1 .5 1 .5 .9 .5 1 .5 .9 .5 .9 .5 .9 .5 .8 .5 .8 .5 .8 .5 .8 .5 .7 .5 .7 .5 .7 .5 .6 .5 .6 .5 .6 .5 .5 .5 .6 .5 .5 .5 .4 .5 .5 .5 .4 .5 .4 .5 .4 .5 .4 .5 .3 .5 .3 .5 .3 .5 .3 .5 .3 .5 .2 .5 .3 .5 .2 .5 .2 .5 .2 .5 .1 .5 .2 .5 .2 .5 .1 .5 .1 .5 .2 .5 .1 .5 .1 .6 .1" fill="none" stroke="#e0a008" stroke-width="1.3" stroke-linejoin="round" stroke-linecap="round"/>
<text x="28.8" y="207.3" font-size="6.6" class="ax" textLength="14.3" lengthAdjust="spacingAndGlyphs">K 2p</text>
<text x="31.2" y="248" font-size="7.2" class="lb" textLength="14.5" lengthAdjust="spacingAndGlyphs">KPHI</text>
<text x="31.2" y="318" font-size="7.2" class="lb" textLength="39.5" lengthAdjust="spacingAndGlyphs">10% BP/KPHI</text>
<text x="5.4" y="204.8" font-size="12.3" class="pn" textLength="14" lengthAdjust="spacingAndGlyphs">(c)</text>
<text x="17.7" y="278.6" font-size="9.6" class="ax" textLength="20" lengthAdjust="spacingAndGlyphs" transform="rotate(-90 17.7 278.6)">CPS</text>
<rect x="233.7" y="197.5" width="179.3" height="140.6" fill="#fff" stroke="#0c0c0c" stroke-width="1.05"/>
<line x1="233.7" y1="338.1" x2="233.7" y2="340.8" stroke="#0c0c0c" stroke-width="1.0"/>
<text x="226.5" y="349.8" font-size="10.0" class="ax" textLength="14.4" lengthAdjust="spacingAndGlyphs">138</text>
<line x1="269.56" y1="338.1" x2="269.56" y2="340.8" stroke="#0c0c0c" stroke-width="1.0"/>
<text x="262.36" y="349.8" font-size="10.0" class="ax" textLength="14.4" lengthAdjust="spacingAndGlyphs">136</text>
<line x1="305.42" y1="338.1" x2="305.42" y2="340.8" stroke="#0c0c0c" stroke-width="1.0"/>
<text x="298.22" y="349.8" font-size="10.0" class="ax" textLength="14.4" lengthAdjust="spacingAndGlyphs">134</text>
<line x1="341.28" y1="338.1" x2="341.28" y2="340.8" stroke="#0c0c0c" stroke-width="1.0"/>
<text x="334.08" y="349.8" font-size="10.0" class="ax" textLength="14.4" lengthAdjust="spacingAndGlyphs">132</text>
<line x1="377.14" y1="338.1" x2="377.14" y2="340.8" stroke="#0c0c0c" stroke-width="1.0"/>
<text x="369.94" y="349.8" font-size="10.0" class="ax" textLength="14.4" lengthAdjust="spacingAndGlyphs">130</text>
<line x1="413" y1="338.1" x2="413" y2="340.8" stroke="#0c0c0c" stroke-width="1.0"/>
<text x="405.8" y="349.8" font-size="10.0" class="ax" textLength="14.4" lengthAdjust="spacingAndGlyphs">128</text>
<line x1="251.63" y1="338.1" x2="251.63" y2="339.6" stroke="#0c0c0c" stroke-width="0.9"/>
<line x1="287.49" y1="338.1" x2="287.49" y2="339.6" stroke="#0c0c0c" stroke-width="0.9"/>
<line x1="323.35" y1="338.1" x2="323.35" y2="339.6" stroke="#0c0c0c" stroke-width="0.9"/>
<line x1="359.21" y1="338.1" x2="359.21" y2="339.6" stroke="#0c0c0c" stroke-width="0.9"/>
<line x1="395.07" y1="338.1" x2="395.07" y2="339.6" stroke="#0c0c0c" stroke-width="0.9"/>
<text x="276.4" y="361.4" font-size="9.3" class="ax" textLength="90" lengthAdjust="spacingAndGlyphs">Binding energy (eV)</text>
<line x1="387.72" y1="206" x2="387.72" y2="317" stroke="#555" stroke-width="0.7" stroke-dasharray="1.5 1"/>
<line x1="309.01" y1="252" x2="309.01" y2="315" stroke="#c4c4c4" stroke-width="0.6" stroke-dasharray="1 1"/>
<line x1="332.31" y1="250" x2="332.31" y2="318" stroke="#c4c4c4" stroke-width="0.6" stroke-dasharray="1 1"/>
<path d="M237.2 260.5l.5-0 .5-0 .5-0 .5-0 .5-0 .5-0 .5-0 .5-0 .5-0 .5-0 .5-0 .5-0 .5-0 .5-0 .5-0 .5-0 .5-0 .5-0 .5-0 .5-0 .5-0 .5-0 .5-0 .5-0 .5-0 .5 0 .5 0 .5 0 .5 0 .5 0 .5 0 .5 0 .5 0 .5 0 .5 0 .5 0 .5 0 .5 0 .5 0 .5 0 .5 0 .5 0 .5 0 .5 0 .5 0 .5 0 .5 0 .5-0 .5-0 .5-0 .5-0 .5-0 .5-0 .6-0 .5-0 .5-0 .5-0 .5-0 .5-0 .5-0 .5-.1 .5 0 .5 0 .5 0 .5 0 .5-0 .5-0 .5-0 .5-.1 .5 0 .5 0 .5-0 .5-0 .5-.1 .5 0 .5-0 .5-.1 .5 0 .5-0 .5-.1 .5-0 .5-.1 .5-0 .5-.1 .5-.1 .5-0 .5-.1 .5-.1 .5-.1 .5-0 .5-.1 .5-.1 .5-.1 .5-.1 .5-.2 .5-.1 .5-.1 .5-.1 .5-.2 .5-.1 .5-.1 .5-.2 .5-.2 .5-.1 .5-.2 .5-.2 .5-.1 .5-.2 .5-.2 .5-.2 .5-.2 .5-.2 .5-.2 .5-.2 .5-.2 .5-.2 .5-.2 .5-.2 .5-.2 .5-.2 .5-.2 .5-.2 .5-.2 .5-.2 .5-.1 .5-.2 .5-.2 .5-.1 .5-.2 .5-.1 .5-.2 .5-.1 .5-.1 .5-.1 .5-.1 .5-.1 .5-.1 .5-0 .5-.1 .5 0 .5 0 .5 0 .5 0 .5 .1 .5-0 .5 0 .5 .1 .5 .1 .5 .1 .5 .1 .5 .1 .5 .1 .5 .2 .5 .1 .5 .2 .5 .1 .5 .2 .5 .2 .5 .2 .5 .1 .5 .2 .5 .2 .5 .2 .5 .2 .5 .2 .5 .2 .5 .3 .5 .2 .5 .2 .5 .2 .5 .2 .6 .2 .5 .2 .5 .2 .5 .1 .5 .2 .5 .2 .5 .2 .5 .2 .5 .1 .5 .2 .5 .1 .5 .2 .5 .1 .5 .2 .5 .1 .5 .1 .5 .2 .5 .1 .5 .1 .5 .1 .5 .1 .5 .1 .5 .1 .5 .1 .5 0 .5 .1 .5 .1 .5 .1 .5 0 .5 .1 .5 0 .5 .1 .5 0 .5 .1 .5 0 .5 .1 .5-0 .5 0 .5 0 .5 .1 .5 0 .5 0 .5 0 .5 .1 .5-0 .5 0 .5 0 .5 0 .5 0 .5 .1 .5-0 .5-0 .5-0 .5-0 .5 0 .5 0 .5 0 .5 0 .5 0 .5 0 .5 0 .5 .1 .5-0 .5-0 .5-0 .5-0 .5-0 .5-0 .5-0 .5-0 .5-0 .5-0 .5-0 .5-0 .5-0 .5-0 .5 0 .5 0 .5 0 .5 0 .5 0 .5 0 .5 0 .5 0 .5 0 .5 0 .5 0 .5 0 .5 0 .5 0 .5 0 .5 0 .5 0 .5 0 .5 0 .5 0 .5 0 .5 0 .5 0 .5 .1 .5-0 .5-0 .5-0 .5-0 .5-0 .5-0 .5-0 .5-0 .5-0 .5-0 .5-0 .5-0" fill="none" stroke="#c050e8" stroke-width="1.1" stroke-linejoin="round" stroke-linecap="round"/>
<path d="M249.2 260.5l.5 0 .5 0 .5 0 .5 0 .5 0 .5 0 .5 0 .5 0 .5 0 .5 0 .5 0 .5 0 .5 0 .5 0 .5 0 .5 0 .5 0 .5 0 .5 0 .5 0 .5 0 .5 0 .5 0 .5 0 .5 0 .5 0 .5 0 .5 0 .5 0 .6 0 .5 0 .5 0 .5 0 .5 0 .5 0 .5 0 .5 0 .5 0 .5 0 .5 0 .5 0 .5 0 .5 0 .5 0 .5 0 .5 0 .5 0 .5 0 .5 0 .5 0 .5 0 .5 0 .5 0 .5 0 .5 0 .5 0 .5 0 .5 0 .5 0 .5 0 .5 0 .5 0 .5 0 .5 0 .5 0 .5 0 .5 0 .5 0 .5-0 .5-0 .5-0 .5-0 .5-0 .5-0 .5-0 .5-.1 .5 0 .5 0 .5 0 .5-0 .5-0 .5-0 .5-.1 .5 0 .5-0 .5-0 .5-0 .5-.1 .5-0 .5-0 .5-.1 .5-0 .5-0 .5-.1 .5-0 .5-.1 .5-0 .5-.1 .5-0 .5-.1 .5-0 .5-.1 .5-.1 .5-.1 .5-0 .5-.1 .5-.1 .5-.1 .5-.1 .5-.1 .5-.1 .5-.1 .5-.1 .5-.1 .5-.1 .5-.1 .5-.2 .5-.1 .5-.1 .5-.2 .5-.1 .5-.2 .5-.1 .5-.2 .5-.1 .5-.2 .5-.2 .5-.1 .5-.2 .5-.2 .5-.2 .5-.1 .5-.2 .5-.2 .5-.2 .5-.2 .5-.2 .5-.1 .5-.2 .5-.2 .5-.2 .5-.2 .5-.2 .5-.1 .5-.2 .5-.2 .5-.1 .6-.2 .5-.2 .5-.1 .5-.1 .5-.2 .5-.1 .5-.1 .5-.2 .5-.1 .5-.1 .5-.1 .5-0 .5-.1 .5-.1 .5-0 .5-.1 .5 0 .5-0 .5-0 .5-0 .5-0 .5 0 .5 0 .5 .1 .5 0 .5 .1 .5 .1 .5 .1 .5 0 .5 .1 .5 .2 .5 .1 .5 .1 .5 .1 .5 .2 .5 .1 .5 .2 .5 .1 .5 .2 .5 .1 .5 .2 .5 .2 .5 .2 .5 .2 .5 .1 .5 .2 .5 .2 .5 .2 .5 .2 .5 .2 .5 .2 .5 .1 .5 .2 .5 .2 .5 .2 .5 .2 .5 .2 .5 .1 .5 .2 .5 .2 .5 .1 .5 .2 .5 .2 .5 .1 .5 .2 .5 .1 .5 .2 .5 .1 .5 .1 .5 .2 .5 .1 .5 .1 .5 .1 .5 .2 .5 .1 .5 .1 .5 .1 .5 .1 .5 .1 .5 0 .5 .1 .5 .1 .5 .1 .5 .1 .5 0 .5 .1 .5 0 .5 .1 .5 .1 .5 0 .5 .1 .5 0 .5 .1 .5-0 .5 0 .5 .1 .5 0 .5 0 .5 .1 .5-0 .5 0 .5 0 .5 .1 .5-0 .5 0 .5 0 .5 0 .5 .1 .5-0 .5-0 .5 0 .5 0 .5 0 .5 0 .5 .1 .5-0 .5-0 .5-0 .5-0 .6-0 .5-0 .5 0 .5 0 .5 0 .5 0 .5 0 .5 0 .5 0 .5 0 .5 0 .5 0 .5 .1 .5-0 .5-0 .5-0 .5-0 .5-0 .5-0 .5-0 .5-0 .5-0 .5-0 .5-0 .5-0 .5-0 .5-0 .5-0 .5-0 .5 0 .5 0 .5 0 .5 0 .5 0 .5 0 .5 0 .5 0 .5 0 .5 0 .5 0 .5 0 .5 0 .5 0 .5 0 .5 0 .5 0 .5 0 .5 0 .5 0 .5 0 .5 0 .5 0 .5 0 .5 .1 .5-0 .5-0 .5-0 .5-0 .5-0 .5-0" fill="none" stroke="#20b050" stroke-width="1.1" stroke-linejoin="round" stroke-linecap="round"/>
<path d="M347.9 260.8l.5 0 .5 0 .5 0 .5 0 .5 0 .5 0 .5 0 .5 0 .5 0 .5 0 .5 0 .5 0 .5 0 .5 0 .5 0 .5 0 .5-0 .5-0 .5-.1 .5-0 .5-.1 .5-.1 .5-.1 .5-.1 .5-.2 .5-.3 .5-.4 .5-.4 .5-.5 .5-.7 .5-.7 .5-.9 .5-1.1 .5-1.2 .5-1.4 .5-1.4 .5-1.7 .5-1.7 .5-1.8 .5-1.8 .5-1.8 .5-1.8 .5-1.6 .5-1.5 .5-1.3 .5-1 .5-.7 .5-.4 .5-.1 .5 .3 .5 .5 .5 .9 .5 1.2 .5 1.4 .5 1.6 .5 1.7 .5 1.8 .5 1.8 .5 1.8 .5 1.8 .5 1.6 .5 1.6 .5 1.4 .5 1.3 .5 1.1 .5 1 .5 .8 .5 .8 .5 .5 .6 .5 .5 .4 .5 .3 .5 .2 .5 .2 .5 .2 .5 .1 .5 0 .5 .1 .5 0 .5 .1 .5-0 .5 0 .5 0 .5 0 .5 0 .5 0 .5 0 .5 0 .5 0 .5 0 .5 0 .5 0 .5 0 .5 0 .5 .1 .5-0 .5-0" fill="none" stroke="#1c68f0" stroke-width="1.1" stroke-linejoin="round" stroke-linecap="round"/>
<path d="M359.4 260.9l.5-0 .5-0 .5-0 .5-0 .5-0 .5-0 .5-0 .5-0 .5-0 .5-0 .5-0 .5-0 .5-0 .5-0 .5-0 .5-.1 .5 0 .5 0 .5-0 .5-0 .5-.1 .5-0 .5-.1 .5-.1 .5-.2 .5-.1 .5-.3 .5-.3 .5-.3 .5-.5 .5-.5 .5-.7 .5-.9 .5-.9 .5-1.2 .5-1.4 .5-1.5 .5-1.8 .5-2 .5-2.2 .5-2.5 .5-2.6 .5-2.8 .5-3 .5-3.1 .5-3.1 .6-3.1 .5-3.1 .5-3 .5-2.8 .5-2.6 .5-2.2 .5-1.9 .5-1.4 .5-1 .5-.5 .5-0 .5 .5 .5 1 .5 1.4 .5 1.8 .5 2.3 .5 2.5 .5 2.8 .5 3 .5 3 .5 3.2 .5 3.1 .5 3.1 .5 3 .5 2.8 .5 2.7 .5 2.4 .5 2.3 .5 2 .5 1.8 .5 1.5 .5 1.4 .5 1.2 .5 1 .5 .8 .5 .7 .5 .6 .5 .4 .5 .4 .5 .3 .5 .2 .5 .2 .5 .2 .5 .1 .5 .1 .5 0 .5 .1 .5 0 .5 0 .5 0 .5 .1 .5-0 .5-0 .5-0 .5-0 .5-0 .5-0 .5-0 .5-0 .5-0" fill="none" stroke="#f82838" stroke-width="1.1" stroke-linejoin="round" stroke-linecap="round"/>
<path d="M234.2 260.5l2 0 2 0 2 0 2 0 2 0 2 0 2 0 2 0 2 .1 2-0 2-0 2-0 2-0 2-0 2.1-0 2-0 2-0 2 0 2 0 2 0 2 0 2 0 2 0 2 0 2 0 2 0 2 .1 2-0 2-0 2-0 2-0 2-0 2-0 2-0 2-0 2 0 2 0 2 0 2 0 2 0 2 0 2 0 2 0 2 0 2.1 .1 2-0 2-0 2-0 2-0 2-0 2-0 2-0 2-0 2 0 2 0 2 0 2 0 2 0 2 0 2 0 2 0 2 0 2 .1 2-0 2-0 2-0 2-0 2-0 2-0 2-0 2-0 2 0 2 0 2 0 2.1 0 2 0 2 0 2 0 2 0 2 0 2 .1 2-0 2-0 2-0 2-0 2-0 2-0 2-0 2-0 -0-0" fill="none" stroke="#e0a008" stroke-width="1.1" stroke-linejoin="round" stroke-linecap="round"/>
<path d="M234.2 260l.5 .6 .5 .8 .5 1 .5-1.9 .5-.6 .5-.4 .5 .2 .5 .2 .5-.7 .5 .8 .5-.9 .5 1 .5-.5 .5 .6 .5 .5 .5-.2 .5-.5 .5-.4 .5-.5 .5 1.9 .5 .2 .5 1.2 .5-.6 .5-.3 .5-.9 .5-.2 .5-1.2 .5 1.4 .5 .7 .5 .8 .5 .4 .5-1.7 .5-2.1 .5 1.4 .5 .4 .5-.8 .5-.3 .5 1.1 .5 1.4 .5-.3 .5-1 .5 .6 .5 .6 .5-1.5 .5 .7 .5-1 .5 .2 .5 .5 .5-0 .5-1.3 .5 .8 .5-1 .5 1.1 .5-1.4 .5 .3 .5 .2 .5-.1 .5 .7 .5 .4 .6 1.5 .5-.3 .5 .3 .5-1.5 .5 .8 .5 .4 .5 .5 .5 .4 .5-1.7 .5-1.2 .5-.3 .5-0 .5 1.6 .5-1.9 .5 .6 .5 1.1 .5-.3 .5-1.2 .5-.3 .5 1 .5 .7 .5-.3 .5 .1 .5 1 .5-.9 .5 1.3 .5-1.6 .5 1.3 .5-1.9 .5 1.1 .5-.5 .5-1.5 .5 .5 .5 .5 .5 .3 .5-.3 .5-.4 .5-.3 .5 0 .5 .9 .5-.2 .5 0 .5-.4 .5 .6 .5 1.1 .5 .4 .5-2.6 .5-1.2 .5-.9 .5-0 .5 1.7 .5-.9 .5-.3 .5-.5 .5-1.7 .5-.5 .5 0 .5-.2 .5 .2 .5-.1 .5 .1 .5-1.2 .5 1.3 .5 .2 .5-1 .5-.4 .5-.7 .5-1.3 .5 1.2 .5-.3 .5 .9 .5 .8 .5-2 .5-1 .5 .6 .5-.6 .5-.5 .5-.2 .5 .5 .5-1.2 .5 .3 .5 1 .5-.9 .5-.4 .5 .3 .5 .6 .5 .2 .5-.3 .5 .7 .5-1.5 .5 1 .5-.4 .5-.9 .5-1.5 .5 1.6 .5-.2 .5 .1 .5 .8 .5-1.1 .5 .3 .5 .3 .5 .7 .5-.7 .5 .9 .5-1.4 .5-.4 .5-.8 .5-.6 .5 1.8 .5-.1 .5-.3 .5-0 .5-0 .5-1.4 .5 .2 .5 .7 .5-.8 .5 .3 .6 .1 .5-.5 .5-.5 .5 .4 .5 .9 .5 .7 .5-1.2 .5 .7 .5 .8 .5-1.4 .5-.5 .5 1.3 .5 .9 .5 .5 .5 1.1 .5-.1 .5 .5 .5-.7 .5-.4 .5-.9 .5 .4 .5-.2 .5-.1 .5 .9 .5 .4 .5-.4 .5 .4 .5 .3 .5 .4 .5-.6 .5 .8 .5-.4 .5 .5 .5-.3 .5 2 .5-1.7 .5 1.2 .5-.9 .5 1.7 .5-1.3 .5 1 .5-.1 .5 .9 .5-1.2 .5 .2 .5 .9 .5 .8 .5-.6 .5-1.3 .5 .6 .5 .2 .5 .8 .5 .1 .5-.4 .5 .6 .5 1.7 .5 .4 .5-.5 .5 .6 .5-1.3 .5 .1 .5 .5 .5 .1 .5-.1 .5 .6 .5 1.8 .5-.4 .5 .1 .5 1.2 .5-2.7 .5 .3 .5 1.1 .5-1.3 .5 .1 .5 1.4 .5-.4 .5-.2 .5 1.2 .5-2.9 .5 .6 .5-2 .5-.2 .5-.5 .5-1.2 .5-1.7 .5-.7 .5-1.5 .5-1.3 .5-1.4 .5-2 .5-.9 .5-3 .5-3.6 .5-2.4 .5-.6 .5-1.5 .5-.3 .5 .1 .5 1.3 .5-1.3 .5 .9 .5-.6 .5 1.9 .5-1 .5 3 .5 .5 .5 2.6 .5 .1 .5-.8 .5-.1 .5-.5 .5 .2 .5 .3 .5-1.4 .5-2 .5-2.1 .5-.7 .5-3.7 .5-2 .6-3.6 .5-3.2 .5-1.7 .5-3.9 .5-.5 .5-1 .5-3.4 .5-2.3 .5-.8 .5-.5 .5-.4 .5 1.7 .5 2.7 .5 .3 .5 1.8 .5 1.2 .5 2.2 .5 2.1 .5 2.8 .5 3.1 .5 2.6 .5 3.2 .5 2.2 .5 3.2 .5 1.3 .5 3.4 .5 2.1 .5 2.6 .5 1.6 .5 1.6 .5 1.5 .5 1 .5 1.3 .5-.5 .5 1.1 .5 1.8 .5-0 .5 3.2 .5 1.3 .5-1.4 .5 2 .5 .3 .5 .5 .5 1.1 .5-.9 .5 .4 .5 .7 .5-.8 .5 0 .5 .3 .5 .4 .5-.7 .5 .3 .5-.3 .5 1.1 .5-.5 .5 .8 .5-.2 .5-.5 .5 .8" fill="none" stroke="#333" stroke-width="1.0" stroke-linejoin="round" stroke-linecap="round"/>
<path d="M234.2 260.4l.5 0 .5 0 .5 .1 .5-0 .5-0 .5-0 .5-0 .5-0 .5-0 .5-0 .5-0 .5-0 .5-0 .5-0 .5-0 .5-0 .5-0 .5-0 .5-0 .5-0 .5-0 .5-0 .5-0 .5-0 .5-0 .5-0 .5-0 .5-0 .5-0 .5-0 .5-0 .5-0 .5-0 .5-0 .5-0 .5-0 .5-0 .5-0 .5-0 .5-0 .5-0 .5-0 .5-0 .5-0 .5-0 .5-0 .5-0 .5-0 .5-0 .5-0 .5-0 .5-0 .5-0 .5-0 .5-0 .5-.1 .5 0 .5 0 .5 0 .6 0 .5 0 .5 0 .5 0 .5 0 .5 0 .5-0 .5-0 .5-0 .5-0 .5-0 .5-.1 .5 0 .5 0 .5 0 .5-0 .5-0 .5-.1 .5 0 .5-0 .5-0 .5-.1 .5-0 .5-0 .5-.1 .5-0 .5-.1 .5-0 .5-.1 .5-0 .5-.1 .5-.1 .5-0 .5-.1 .5-.1 .5-.1 .5-.1 .5-.1 .5-.1 .5-.1 .5-.1 .5-.1 .5-.1 .5-.2 .5-.1 .5-.2 .5-.1 .5-.2 .5-.1 .5-.2 .5-.2 .5-.2 .5-.2 .5-.2 .5-.2 .5-.2 .5-.2 .5-.2 .5-.2 .5-.3 .5-.2 .5-.2 .5-.3 .5-.2 .5-.2 .5-.3 .5-.2 .5-.3 .5-.2 .5-.3 .5-.2 .5-.3 .5-.2 .5-.3 .5-.2 .5-.2 .5-.2 .5-.3 .5-.2 .5-.2 .5-.2 .5-.2 .5-.2 .5-.1 .5-.2 .5-.2 .5-.1 .5-.2 .5-.1 .5-.1 .5-.1 .5-.1 .5-.1 .5-.1 .5-.1 .5-.1 .5-0 .5-.1 .5-0 .5-.1 .5 0 .5-0 .5-0 .5-.1 .5 0 .5 0 .5 0 .5 0 .5 .1 .5-0 .5-0 .5 0 .5 0 .5 .1 .5-0 .5 0 .5 0 .5 .1 .6 0 .5 .1 .5 0 .5 0 .5 .1 .5 0 .5 .1 .5 0 .5 .1 .5 .1 .5 0 .5 .1 .5 .1 .5 0 .5 .1 .5 .1 .5 .1 .5 .1 .5 .1 .5 .1 .5 .1 .5 .1 .5 .1 .5 .2 .5 .1 .5 .1 .5 .2 .5 .1 .5 .2 .5 .1 .5 .2 .5 .2 .5 .1 .5 .2 .5 .2 .5 .2 .5 .1 .5 .2 .5 .2 .5 .2 .5 .2 .5 .2 .5 .2 .5 .2 .5 .2 .5 .2 .5 .2 .5 .2 .5 .2 .5 .2 .5 .2 .5 .2 .5 .2 .5 .2 .5 .2 .5 .2 .5 .1 .5 .2 .5 .2 .5 .2 .5 .1 .5 .2 .5 .2 .5 .1 .5 .2 .5 .1 .5 .1 .5 .2 .5 .1 .5 .1 .5 0 .5 0 .5 0 .5 0 .5-.1 .5-.2 .5-.2 .5-.3 .5-.5 .5-.5 .5-.7 .5-.8 .5-1 .5-1.2 .5-1.2 .5-1.5 .5-1.5 .5-1.7 .5-1.8 .5-1.7 .5-1.8 .5-1.8 .5-1.6 .5-1.5 .5-1.3 .5-1 .5-.8 .5-.5 .5-.3 .5 .1 .5 .3 .5 .5 .5 .8 .5 .8 .5 .9 .5 .9 .5 .9 .5 .6 .5 .5 .5 .2 .5-.1 .5-.4 .5-.8 .5-1.2 .5-1.5 .5-1.8 .5-2.1 .5-2.4 .5-2.5 .6-2.7 .5-2.7 .5-2.7 .5-2.5 .5-2.4 .5-2.1 .5-1.7 .5-1.4 .5-.9 .5-.5 .5 0 .5 .5 .5 1 .5 1.5 .5 1.8 .5 2.3 .5 2.5 .5 2.8 .5 3 .5 3.1 .5 3.1 .5 3.2 .5 3 .5 3 .5 2.8 .5 2.7 .5 2.5 .5 2.2 .5 2 .5 1.8 .5 1.6 .5 1.3 .5 1.2 .5 1 .5 .8 .5 .7 .5 .6 .5 .5 .5 .3 .5 .3 .5 .3 .5 .2 .5 .1 .5 .1 .5 .1 .5 .1 .5 0 .5 0 .5 .1 .5-0 .5 0 .5 0 .5 0 .5 0 .5 0 .5 0 .5 0 .5 0 .5 0 .5 0" fill="none" stroke="#14caca" stroke-width="1.3" stroke-linejoin="round" stroke-linecap="round"/>
<path d="M234.2 327.9l.5-0 .5-0 .5-0 .5-0 .5-0 .5-0 .5-0 .5-0 .5-0 .5-0 .5-0 .5-0 .5-0 .5 0 .5 0 .5 0 .5 0 .5 0 .5 0 .5 0 .5 0 .5 0 .5 0 .5 0 .5 0 .5 0 .5 0 .5 0 .5 0 .5 0 .5 0 .5 0 .5 0 .5 0 .5 0 .5 0 .5 .1 .5-0 .5-0 .5-0 .5-0 .5-0 .5-0 .5-0 .5-0 .5-0 .5-0 .5-0 .5-0 .5-0 .5-0 .5-0 .5-0 .5-0 .5-0 .5-0 .5-.1 .5 0 .5 0 .6 0 .5 0 .5 0 .5 0 .5 0 .5-0 .5-0 .5-0 .5-0 .5-.1 .5 0 .5-0 .5-0 .5-0 .5-.1 .5-0 .5-0 .5-.1 .5-0 .5-0 .5-.1 .5-0 .5-.1 .5-0 .5-.1 .5-.1 .5-0 .5-.1 .5-.1 .5-.1 .5-0 .5-.1 .5-.1 .5-.1 .5-.1 .5-.2 .5-.1 .5-.1 .5-.1 .5-.2 .5-.1 .5-.2 .5-.1 .5-.2 .5-.2 .5-.1 .5-.2 .5-.2 .5-.2 .5-.2 .5-.2 .5-.2 .5-.2 .5-.2 .5-.3 .5-.2 .5-.2 .5-.2 .5-.3 .5-.2 .5-.2 .5-.2 .5-.3 .5-.2 .5-.2 .5-.2 .5-.3 .5-.2 .5-.2 .5-.2 .5-.2 .5-.2 .5-.1 .5-.2 .5-.2 .5-.1 .5-.1 .5-.2 .5-.1 .5-.1 .5-.1 .5-0 .5-.1 .5-0 .5-.1 .5 0 .5 0 .5 .1 .5-0 .5 0 .5 .1 .5 .1 .5 .1 .5 .1 .5 .1 .5 .1 .5 .2 .5 .1 .5 .2 .5 .2 .5 .2 .5 .2 .5 .2 .5 .2 .5 .2 .5 .2 .5 .3 .5 .2 .5 .2 .5 .3 .5 .2 .5 .3 .5 .2 .5 .3 .5 .2 .5 .2 .5 .3 .5 .2 .6 .3 .5 .2 .5 .2 .5 .2 .5 .3 .5 .2 .5 .2 .5 .2 .5 .2 .5 .2 .5 .2 .5 .1 .5 .2 .5 .2 .5 .1 .5 .2 .5 .1 .5 .2 .5 .1 .5 .2 .5 .1 .5 .1 .5 .1 .5 .1 .5 .1 .5 .1 .5 .1 .5 .1 .5 .1 .5 0 .5 .1 .5 .1 .5 0 .5 .1 .5 .1 .5 0 .5 .1 .5 0 .5 0 .5 .1 .5 0 .5 .1 .5-0 .5 0 .5 0 .5 .1 .5-0 .5 0 .5 0 .5 .1 .5-0 .5 0 .5 0 .5 0 .5 0 .5 .1 .5-0 .5-0 .5 0 .5 0 .5 0 .5 0 .5 0 .5 .1 .5-0 .5-0 .5-0 .5-0 .5 0 .5 0 .5 0 .5 0 .5 0 .5 .1 .5-0 .5-0 .5-0 .5 0 .5 0 .5 0 .5 0 .5 .1 .5-0 .5-0 .5-0 .5 0 .5 0 .5 0 .5 .1 .5-0 .5-0 .5 0 .5 0 .5 0 .5 .1 .5-0 .5-0 .5 0 .5 0 .5 0 .5 .1 .5-0 .5-0 .5 0 .5 0 .5 0 .5 .1 .5-0 .5 0 .5 0 .5 0 .5 .1 .5-0 .5 0 .5 0 .5 0" fill="none" stroke="#e0a008" stroke-width="1.1" stroke-linejoin="round" stroke-linecap="round"/>
<path d="M234.2 327.9l.5-0 .5-0 .5-0 .5-0 .5-0 .5-0 .5-0 .5-0 .5-0 .5-0 .5-0 .5-0 .5-0 .5 0 .5 0 .5 0 .5 0 .5 0 .5 0 .5 0 .5 0 .5 0 .5 0 .5 0 .5 0 .5 0 .5 0 .5 0 .5 0 .5 0 .5 0 .5 0 .5 .1 .5-0 .5-0 .5-0 .5-0 .5-0 .5-0 .5-0 .5-0 .5-0 .5-0 .5-0 .5-0 .5-0 .5-0 .5-0 .5-0 .5-0 .5-0 .5-0 .5-0 .5-0 .5-0 .5-0 .5-0 .5-0 .5 0 .6 0 .5 0 .5 0 .5 0 .5 0 .5 0 .5 0 .5 0 .5 0 .5 0 .5 0 .5 0 .5-0 .5-0 .5-0 .5-0 .5-0 .5-0 .5-0 .5-0 .5-0 .5-0 .5-0 .5-0 .5-0 .5-.1 .5 0 .5 0 .5 0 .5 0 .5-0 .5-0 .5-0 .5-0 .5-.1 .5 0 .5 0 .5-0 .5-0 .5-0 .5-.1 .5 0 .5-0 .5-0 .5-.1 .5-0 .5-0 .5-.1 .5-0 .5-0 .5-.1 .5-0 .5-.1 .5-0 .5-.1 .5-0 .5-.1 .5-0 .5-.1 .5-0 .5-.1 .5-.1 .5-0 .5-.1 .5-.1 .5-0 .5-.1 .5-.1 .5-.1 .5-.1 .5-.1 .5-.1 .5-.1 .5-.1 .5-.1 .5-.1 .5-.1 .5-.1 .5-.1 .5-.1 .5-.1 .5-.2 .5-.1 .5-.1 .5-.1 .5-.2 .5-.1 .5-.1 .5-.2 .5-.1 .5-.2 .5-.1 .5-.2 .5-.1 .5-.2 .5-.1 .5-.2 .5-.1 .5-.2 .5-.1 .5-.2 .5-.1 .5-.2 .5-.1 .5-.2 .5-.1 .5-.2 .5-.1 .5-.2 .5-.1 .5-.2 .5-.1 .5-.1 .5-.2 .5-.1 .5-.1 .5-.1 .5-.1 .6-.2 .5-.1 .5-.1 .5-.1 .5-.1 .5-0 .5-.1 .5-.1 .5-.1 .5-0 .5-.1 .5-0 .5-.1 .5 0 .5-0 .5-0 .5-0 .5-0 .5-0 .5-0 .5-0 .5 0 .5 .1 .5-0 .5 0 .5 .1 .5 .1 .5 0 .5 .1 .5 .1 .5 .1 .5 .1 .5 .1 .5 .1 .5 .1 .5 .1 .5 .1 .5 .2 .5 .1 .5 .1 .5 .2 .5 .1 .5 .2 .5 .1 .5 .2 .5 .1 .5 .2 .5 .1 .5 .2 .5 .2 .5 .1 .5 .2 .5 .2 .5 .1 .5 .2 .5 .2 .5 .1 .5 .2 .5 .2 .5 .1 .5 .2 .5 .2 .5 .1 .5 .2 .5 .2 .5 .1 .5 .2 .5 .1 .5 .2 .5 .1 .5 .2 .5 .1 .5 .2 .5 .1 .5 .1 .5 .2 .5 .1 .5 .2 .5 .1 .5 .1 .5 .1 .5 .2 .5 .1 .5 .1 .5 .1 .5 .1 .5 .1 .5 .1 .5 .1 .5 .1 .5 .1 .5 .1 .5 .1 .5 .1 .5 .1 .5 .1 .5 .1 .5 0 .5 .1 .5 .1 .5 .1 .5 0 .5 .1 .5 .1 .5 0 .5 .1 .5 0 .5 .1 .5 .1 .5 0 .5 .1 .5 0 .5 .1 .5 0 .5 .1 .5 0 .5 .1 .5 0 .5 0 .6 .1 .5 0 .5 .1 .5 0 .5 .1 .5-0 .5 0 .5 .1 .5 0 .5 0 .5 .1 .5 0 .5 0 .5 .1 .5-0 .5 0 .5 0 .5 .1 .5-0 .5 0 .5 0 .5 .1 .5-0 .5-0 .5-0 .5 0 .5 0 .5 0 .5 0 .5 .1 .5-0 .5-0 .5-0 .5-0 .5 0 .5 0 .5 0 .5 0 .5 0 .5 0 .5 0 .5 0 .5 .1 .5-0 .5-0 .5-0 .5-0 .5-0 .5-0 .5-0 .5-0 .5 0 .5 0 .5 0 .5 0 .5 0 .5 0 .5 0 .5 0 .5 0" fill="none" stroke="#c050e8" stroke-width="1.1" stroke-linejoin="round" stroke-linecap="round"/>
<path d="M328.9 328.9l.5 0 .5 0 .5 0 .5 0 .5 0 .5 .1 .5-0 .5-0 .5-0 .5-0 .5-0 .5 0 .5 0 .5 0 .5 0 .5 0 .5 0 .5 0 .5 0 .5 .1 .5-0 .5-0 .5-0 .5-0 .5-0 .5-0 .5-0 .5-0 .5-0 .5-0 .5-0 .5-.1 .5 0 .5 0 .5-0 .5-.1 .5 0 .5-0 .5-.1 .5-.1 .5-.1 .5-.1 .5-.1 .5-.2 .5-.1 .5-.2 .5-.3 .5-.2 .5-.3 .5-.4 .5-.4 .5-.4 .5-.5 .5-.5 .5-.6 .5-.6 .5-.8 .5-.7 .5-.8 .5-.9 .5-.9 .5-1 .5-1.1 .5-1.1 .5-1.1 .5-1.2 .5-1.2 .5-1.2 .5-1.2 .5-1.3 .5-1.2 .5-1.2 .5-1.2 .5-1.1 .5-1.1 .5-1 .5-.9 .5-.8 .5-.7 .5-.7 .5-.5 .5-.4 .5-.2 .5-.2 .5 0 .5 .2 .5 .3 .5 .4 .5 .5 .5 .6 .5 .8 .5 .8 .5 1 .5 1 .5 1.1 .5 1.1 .5 1.2 .5 1.2 .5 1.3 .5 1.3 .5 1.2 .5 1.3 .5 1.2 .5 1.2 .5 1.2 .5 1.1 .5 1.1 .6 1 .5 1 .5 .9 .5 .9 .5 .8 .5 .7 .5 .7 .5 .7 .5 .5 .5 .5 .5 .5 .5 .4 .5 .4 .5 .3 .5 .3 .5 .3 .5 .2 .5 .2 .5 .2 .5 .2 .5 .1 .5 .1 .5 .1 .5 .1 .5 .1 .5 0 .5 .1 .5 0 .5 0 .5 .1 .5-0 .5 0 .5 0 .5 .1 .5-0 .5-0 .5-0 .5-0 .5 0 .5 0 .5 0 .5 0 .5 0 .5 0 .5 0 .5 0 .5 0 .5 .1 .5-0 .5-0 .5-0 .5-0 .5-0 .5-0 .5-0 .5-0 .5-0 .5-0 .5-0 .5-0" fill="none" stroke="#20b050" stroke-width="1.1" stroke-linejoin="round" stroke-linecap="round"/>
<path d="M353.4 329.2l.5-0 .5-0 .5-0 .5-0 .5-0 .5-0 .5 0 .5 0 .5 0 .5 0 .5 0 .5 0 .5 0 .5 0 .5 0 .5 0 .5 0 .5 0 .5 0 .5 0 .5 0 .5 0 .5-0 .5-0 .5-.1 .5-0 .5-.1 .5-.1 .5-.1 .5-.1 .5-.2 .5-.2 .5-.2 .5-.4 .5-.3 .5-.5 .5-.5 .5-.7 .5-.7 .5-.9 .5-1 .5-1.1 .5-1.3 .5-1.4 .5-1.6 .5-1.7 .5-1.9 .5-2 .5-2.1 .5-2.3 .5-2.4 .5-2.4 .5-2.5 .5-2.5 .5-2.4 .5-2.4 .5-2.4 .5-2.1 .6-2 .5-1.8 .5-1.5 .5-1.3 .5-.9 .5-.6 .5-.3 .5 .1 .5 .5 .5 .8 .5 1.1 .5 1.4 .5 1.6 .5 2 .5 2.1 .5 2.2 .5 2.4 .5 2.5 .5 2.5 .5 2.6 .5 2.5 .5 2.4 .5 2.4 .5 2.2 .5 2.1 .5 2 .5 1.9 .5 1.6 .5 1.6 .5 1.4 .5 1.2 .5 1.1 .5 1 .5 .8 .5 .7 .5 .6 .5 .6 .5 .4 .5 .4 .5 .3 .5 .3 .5 .2 .5 .2 .5 .1 .5 .1 .5 .1 .5 .1 .5 0 .5 .1 .5 0 .5 .1 .5-0 .5 0 .5 0 .5 0 .5 .1 .5-0 .5-0 .5-0 .5-0" fill="none" stroke="#f82838" stroke-width="1.1" stroke-linejoin="round" stroke-linecap="round"/>
<path d="M234.2 327.9l2 0 2 0 2 0 2 .1 2-0 2-0 2-0 2 0 2 0 2 0 2 0 2 .1 2-0 2-0 2.1-0 2 0 2 0 2 0 2 0 2 .1 2-0 2-0 2 0 2 0 2 0 2 .1 2-0 2-0 2 0 2 0 2 .1 2-0 2 0 2 .1 2-0 2 0 2 .1 2-0 2 0 2 .1 2-0 2 0 2 .1 2 0 2.1 0 2 .1 2 0 2 0 2 .1 2-0 2 0 2 .1 2-0 2 0 2 0 2 .1 2-0 2 0 2 0 2 .1 2-0 2 0 2 0 2 .1 2 0 2 .1 2 0 2 .1 2 .1 2 0 2 .1 2 .1 2 .1 2 .1 2.1 0 2 .1 2 .1 2 .1 2 .1 2 0 2 .1 2-0 2 0 2 0 2 0 2 .1 2-0 2-0 2-0 -0-0" fill="none" stroke="#14caca" stroke-width="1.6" stroke-linejoin="round" stroke-linecap="round"/>
<path d="M234.2 327.7l.5-.1 .5 0 .5 .7 .5-.3 .5-1.2 .5 .7 .5-0 .5-0 .5 .2 .5 .3 .5 .8 .5 .1 .5-.4 .5-.9 .5-.6 .5 .6 .5 1.1 .5-.4 .5-.3 .5 .4 .5-1.3 .5 .1 .5 .7 .5 .6 .5-.5 .5 .3 .5-0 .5 .4 .5-1.2 .5 .6 .5-1.2 .5-1.5 .5 .6 .5 .2 .5 1.4 .5 .6 .5-1 .5 .9 .5-.8 .5 .2 .5-.1 .5 .3 .5 .7 .5 .3 .5-.1 .5 .2 .5-.1 .5-.8 .5-.6 .5-.1 .5 .7 .5-.2 .5 1.8 .5-1.3 .5-1 .5 .9 .5 .9 .5-.1 .5 .1 .6 .6 .5-.9 .5-1.5 .5-.1 .5 1 .5-1.2 .5 .4 .5 .4 .5-.2 .5 .6 .5 .2 .5 1.5 .5-.5 .5-1.3 .5-.6 .5-.6 .5 1 .5-.6 .5 0 .5 .6 .5-.8 .5-.1 .5-1.3 .5-.1 .5 .2 .5 .9 .5 1 .5-.4 .5-.1 .5-.1 .5 .6 .5 .1 .5-.5 .5-1.3 .5 .7 .5-.1 .5 .5 .5-.7 .5 1 .5-1.2 .5 .7 .5-.8 .5-1.1 .5-1.1 .5 .1 .5 1.1 .5 0 .5-.2 .5-2.5 .5 .9 .5 .2 .5-.8 .5-.7 .5 0 .5 1.2 .5-1.6 .5-.5 .5 .9 .5-1 .5-.6 .5-.1 .5-1.2 .5 .3 .5-1.1 .5 .9 .5-.3 .5 1.4 .5-.9 .5 .2 .5-2 .5-.4 .5 0 .5 1 .5-2.2 .5 .7 .5-0 .5 .6 .5-.4 .5-.9 .5-.9 .5-1.2 .5 .3 .5-.1 .5 1.5 .5-1.3 .5 0 .5-1.5 .5 0 .5 .5 .5 .6 .5 .8 .5-.7 .5-1.2 .5 .5 .5 .3 .5 .1 .5-.8 .5 .9 .5-.2 .5 .3 .5 .6 .5-.1 .5-.3 .5 1.3 .5-.7 .5-.8 .5-.1 .5 1 .5-.4 .5 .1 .5 .7 .5-.9 .5-1.4 .5 .8 .5 .5 .5-.4 .5 1 .5 .4 .6-.9 .5 .7 .5-.2 .5-.9 .5 .9 .5 .3 .5-.4 .5 .8 .5 .5 .5-.5 .5 .5 .5 .9 .5-.8 .5 .4 .5 0 .5 1.8 .5-2.1 .5 .9 .5-.3 .5 .1 .5 1.6 .5-.5 .5 1.5 .5-1.1 .5 0 .5-.5 .5-.4 .5 .4 .5 .1 .5 .4 .5-1.4 .5 2.4 .5-.3 .5 1.4 .5-1.2 .5 .3 .5 2.4 .5-1.6 .5-1.3 .5 .1 .5 .9 .5 .7 .5 .9 .5-.6 .5-1.2 .5 .2 .5 1.5 .5 .2 .5-1.6 .5 .6 .5 1.5 .5 1.4 .5-.4 .5-.4 .5-1.4 .5-.4 .5 .4 .5 .5 .5 .3 .5-.7 .5-1 .5-.3 .5-.6 .5 .8 .5-1.9 .5 .2 .5 .5 .5 .8 .5-.9 .5-.1 .5-1.5 .5-1.4 .5-1.1 .5 .6 .5-.5 .5-1.1 .5 1 .5-2.4 .5-1.4 .5-1.5 .5-1.8 .5 .5 .5-.9 .5-3.2 .5-1.5 .5-.6 .5-.6 .5-2.3 .5-2.3 .5-1.4 .5 .3 .5-.2 .5 0 .5-1 .5-1.2 .5-1.4 .5 .9 .5 .4 .5 .5 .5 0 .5-.9 .5 .6 .5-1 .5-1.2 .5-.7 .5-.8 .5-1.9 .5 .3 .5-.1 .5-1 .5-1.4 .5-.4 .5 .2 .5-1.7 .5-2 .5-1.7 .5-1.1 .5-2 .5-.6 .6-.6 .5 .7 .5-.5 .5-.2 .5-1.3 .5 .4 .5-.7 .5 1.2 .5 1.3 .5 .6 .5 3.2 .5 1.7 .5 .1 .5 3 .5 2 .5 2.7 .5 3 .5 2.8 .5 .9 .5 2.4 .5 3.8 .5 3.6 .5 3.4 .5 2.8 .5-.5 .5 2.6 .5 .1 .5 3.4 .5 1.4 .5 .2 .5 2.9 .5 .9 .5-1 .5 1.3 .5 .2 .5 .9 .5 .2 .5 1.7 .5-1.1 .5 .8 .5 1.6 .5-.9 .5 .3 .5 .2 .5-.4 .5 .8 .5 .1 .5-.6 .5 1.7 .5 .3 .5-.5 .5-.5 .5-.4 .5 1.4 .5-.2 .5 .4 .5-.3 .5 .5 .5-.2 .5 .6" fill="none" stroke="#333" stroke-width="1.0" stroke-linejoin="round" stroke-linecap="round"/>
<path d="M234.2 327.8l.5 0 .5 0 .5 0 .5 0 .5 0 .5 0 .5 0 .5 0 .5 0 .5 0 .5 0 .5 0 .5 0 .5 .1 .5-0 .5-0 .5-0 .5-0 .5-0 .5-0 .5-0 .5-0 .5-0 .5-0 .5-0 .5-0 .5-0 .5-0 .5-0 .5-0 .5-0 .5-0 .5-0 .5-0 .5-0 .5-0 .5-0 .5-0 .5-0 .5-0 .5-0 .5-0 .5-0 .5-0 .5-0 .5-0 .5-0 .5-0 .5-0 .5-0 .5-0 .5-0 .5-0 .5-0 .5-0 .5-0 .5-0 .5-0 .5-.1 .6 0 .5 0 .5 0 .5 0 .5-0 .5-0 .5-0 .5-.1 .5 0 .5 0 .5-0 .5-0 .5-.1 .5 0 .5-0 .5-.1 .5 0 .5-0 .5-.1 .5-0 .5-.1 .5-0 .5-.1 .5-.1 .5-0 .5-.1 .5-.1 .5-.1 .5-0 .5-.1 .5-.1 .5-.1 .5-.2 .5-.1 .5-.1 .5-.1 .5-.2 .5-.1 .5-.2 .5-.2 .5-.1 .5-.2 .5-.2 .5-.2 .5-.2 .5-.2 .5-.2 .5-.2 .5-.3 .5-.2 .5-.3 .5-.2 .5-.3 .5-.3 .5-.2 .5-.3 .5-.3 .5-.3 .5-.3 .5-.3 .5-.3 .5-.3 .5-.3 .5-.3 .5-.3 .5-.3 .5-.3 .5-.3 .5-.3 .5-.3 .5-.3 .5-.2 .5-.3 .5-.3 .5-.3 .5-.2 .5-.3 .5-.2 .5-.3 .5-.2 .5-.2 .5-.2 .5-.2 .5-.2 .5-.1 .5-.2 .5-.1 .5-.1 .5-.2 .5-.1 .5-.1 .5-0 .5-.1 .5-0 .5-.1 .5-0 .5-0 .5-0 .5-0 .5 0 .5 0 .5 .1 .5 0 .5 .1 .5 0 .5 .1 .5 .1 .5 0 .5 .1 .5 .1 .5 .1 .5 .1 .5 .1 .5 .1 .5 .1 .5 .1 .5 .1 .5 .1 .6 .2 .5 .1 .5 .1 .5 .1 .5 .1 .5 .2 .5 .1 .5 .1 .5 .1 .5 .1 .5 .2 .5 .1 .5 .1 .5 .2 .5 .1 .5 .1 .5 .1 .5 .2 .5 .1 .5 .1 .5 .2 .5 .1 .5 .1 .5 .2 .5 .1 .5 .2 .5 .1 .5 .2 .5 .1 .5 .2 .5 .1 .5 .2 .5 .1 .5 .2 .5 .1 .5 .2 .5 .1 .5 .2 .5 .2 .5 .1 .5 .2 .5 .1 .5 .2 .5 .2 .5 .1 .5 .2 .5 .1 .5 .1 .5 .2 .5 .1 .5 .1 .5 .1 .5 .1 .5 0 .5 .1 .5-0 .5-0 .5-.1 .5-0 .5-.1 .5-.2 .5-.1 .5-.3 .5-.2 .5-.4 .5-.4 .5-.4 .5-.5 .5-.5 .5-.7 .5-.6 .5-.8 .5-.8 .5-.8 .5-1 .5-.9 .5-1 .5-1.1 .5-1.1 .5-1.1 .5-1.1 .5-1.2 .5-1.1 .5-1.1 .5-1.2 .5-1 .5-1.1 .5-1 .5-.9 .5-.9 .5-.8 .5-.7 .5-.7 .5-.5 .5-.6 .5-.4 .5-.4 .5-.4 .5-.3 .5-.3 .5-.3 .5-.3 .5-.4 .5-.4 .5-.4 .5-.5 .5-.6 .5-.8 .5-.8 .5-.9 .5-.9 .5-1.1 .5-1.2 .5-1.2 .5-1.3 .5-1.2 .5-1.3 .5-1.1 .5-1.1 .6-1 .5-.8 .5-.6 .5-.4 .5-.1 .5 .1 .5 .4 .5 .7 .5 1 .5 1.3 .5 1.6 .5 1.8 .5 2.1 .5 2.2 .5 2.4 .5 2.5 .5 2.6 .5 2.7 .5 2.7 .5 2.7 .5 2.6 .5 2.5 .5 2.5 .5 2.3 .5 2.2 .5 2 .5 1.9 .5 1.8 .5 1.5 .5 1.4 .5 1.3 .5 1.1 .5 1 .5 .8 .5 .8 .5 .6 .5 .5 .5 .5 .5 .4 .5 .3 .5 .3 .5 .2 .5 .1 .5 .2 .5 .1 .5 .1 .5 .1 .5 0 .5 .1 .5 0 .5 .1 .5-0 .5 0 .5 0 .5 .1 .5-0 .5-0 .5-0 .5 0 .5 0" fill="none" stroke="#702626" stroke-width="1.2" stroke-linejoin="round" stroke-linecap="round"/>
<line x1="388" y1="329.5" x2="412.4" y2="329.9" stroke="#1c68f0" stroke-width="1.1"/>
<text x="237.2" y="207.3" font-size="6.6" class="ax" textLength="14.3" lengthAdjust="spacingAndGlyphs">P 2p</text>
<text x="239.7" y="251" font-size="7.2" class="lb" textLength="39.3" lengthAdjust="spacingAndGlyphs">10% BP/KPHI</text>
<text x="239.7" y="314.3" font-size="7.2" class="lb" textLength="41.8" lengthAdjust="spacingAndGlyphs">10% BP/KPHI-</text>
<text x="239.7" y="322.3" font-size="7.2" class="lb" textLength="40.5" lengthAdjust="spacingAndGlyphs">after reaction</text>
<text x="213" y="204.9" font-size="12.3" class="pn" textLength="16" lengthAdjust="spacingAndGlyphs">(d)</text>
<text x="225.7" y="278" font-size="10.2" class="ax" textLength="20.4" lengthAdjust="spacingAndGlyphs" transform="rotate(-90 225.7 278)">CPS</text>
<rect x="138.1" y="378.7" width="179.5" height="139.3" fill="#fff" stroke="#0c0c0c" stroke-width="1.15"/>
<line x1="138.1" y1="518" x2="138.1" y2="520.7" stroke="#0c0c0c" stroke-width="1.0"/>
<text x="130.6" y="530.6" font-size="10.1" class="ax" textLength="15" lengthAdjust="spacingAndGlyphs">538</text>
<line x1="168.02" y1="518" x2="168.02" y2="520.7" stroke="#0c0c0c" stroke-width="1.0"/>
<text x="160.52" y="530.6" font-size="10.1" class="ax" textLength="15" lengthAdjust="spacingAndGlyphs">536</text>
<line x1="197.93" y1="518" x2="197.93" y2="520.7" stroke="#0c0c0c" stroke-width="1.0"/>
<text x="190.43" y="530.6" font-size="10.1" class="ax" textLength="15" lengthAdjust="spacingAndGlyphs">534</text>
<line x1="227.85" y1="518" x2="227.85" y2="520.7" stroke="#0c0c0c" stroke-width="1.0"/>
<text x="220.35" y="530.6" font-size="10.1" class="ax" textLength="15" lengthAdjust="spacingAndGlyphs">532</text>
<line x1="257.77" y1="518" x2="257.77" y2="520.7" stroke="#0c0c0c" stroke-width="1.0"/>
<text x="250.27" y="530.6" font-size="10.1" class="ax" textLength="15" lengthAdjust="spacingAndGlyphs">530</text>
<line x1="287.68" y1="518" x2="287.68" y2="520.7" stroke="#0c0c0c" stroke-width="1.0"/>
<text x="280.18" y="530.6" font-size="10.1" class="ax" textLength="15" lengthAdjust="spacingAndGlyphs">528</text>
<line x1="317.6" y1="518" x2="317.6" y2="520.7" stroke="#0c0c0c" stroke-width="1.0"/>
<text x="310.1" y="530.6" font-size="10.1" class="ax" textLength="15" lengthAdjust="spacingAndGlyphs">526</text>
<line x1="153.06" y1="518" x2="153.06" y2="519.5" stroke="#0c0c0c" stroke-width="0.9"/>
<line x1="182.97" y1="518" x2="182.97" y2="519.5" stroke="#0c0c0c" stroke-width="0.9"/>
<line x1="212.89" y1="518" x2="212.89" y2="519.5" stroke="#0c0c0c" stroke-width="0.9"/>
<line x1="242.81" y1="518" x2="242.81" y2="519.5" stroke="#0c0c0c" stroke-width="0.9"/>
<line x1="272.73" y1="518" x2="272.73" y2="519.5" stroke="#0c0c0c" stroke-width="0.9"/>
<line x1="302.64" y1="518" x2="302.64" y2="519.5" stroke="#0c0c0c" stroke-width="0.9"/>
<text x="167.7" y="542.9" font-size="10.0" class="ax" textLength="90.8" lengthAdjust="spacingAndGlyphs">Binding energy (eV)</text>
<line x1="213.79" y1="387" x2="213.79" y2="493" stroke="#999" stroke-width="0.7" stroke-dasharray="1.5 1"/>
<line x1="233.24" y1="396" x2="233.24" y2="488" stroke="#666" stroke-width="0.7" stroke-dasharray="1.5 1"/>
<path d="M150.1 417.3l.5 0 .5 0 .5 0 .5 0 .5 0 .5 0 .5 0 .5 0 .5 0 .5 .1 .5-0 .5-0 .5-0 .5-0 .5-0 .5-0 .5-0 .5-0 .5-0 .5-0 .5-0 .5-0 .5-0 .5-0 .5-0 .5-0 .5-0 .5-0 .5-0 .5-0 .5-0 .5-0 .5-0 .5-0 .5-0 .5-0 .5-0 .5-0 .5-0 .5-0 .5-0 .5-0 .5-0 .5-0 .5-0 .5-.1 .5 0 .5 0 .5 0 .5 0 .5-0 .5-0 .5-.1 .5 0 .5-0 .5-0 .5-.1 .5-0 .5-0 .5-.1 .5-.1 .5-0 .5-.1 .5-.1 .5-0 .5-.1 .5-.1 .5-.1 .5-.2 .5-.1 .5-.1 .5-.2 .5-.2 .5-.1 .5-.3 .5-.2 .5-.2 .5-.3 .5-.2 .5-.3 .5-.3 .5-.4 .5-.3 .5-.4 .5-.4 .5-.4 .5-.4 .5-.5 .5-.5 .5-.5 .5-.5 .5-.5 .5-.6 .5-.6 .5-.6 .5-.6 .5-.7 .5-.6 .5-.7 .5-.7 .5-.7 .5-.7 .5-.7 .5-.7 .5-.7 .5-.7 .5-.7 .5-.7 .5-.7 .5-.6 .5-.7 .5-.6 .5-.6 .5-.6 .5-.6 .5-.5 .5-.5 .5-.4 .5-.5 .5-.3 .5-.4 .5-.3 .5-.2 .5-.2 .5-.1 .5-.1 .5-.1 .5 0 .5 .1 .5 .1 .5 .2 .5 .2 .5 .2 .5 .3 .5 .4 .5 .4 .5 .4 .5 .5 .5 .5 .5 .5 .5 .6 .5 .6 .5 .6 .5 .7 .5 .6 .5 .7 .5 .7 .5 .7 .5 .7 .5 .7 .5 .7 .5 .7 .5 .8 .5 .7 .5 .6 .5 .7 .5 .7 .5 .7 .5 .6 .5 .6 .5 .6 .5 .6 .5 .6 .5 .5 .5 .6 .5 .5 .5 .5 .5 .4 .5 .5 .5 .4 .5 .4 .5 .3 .5 .4 .5 .3 .5 .3 .5 .3 .5 .3 .5 .2 .5 .3 .5 .2 .5 .2 .5 .2 .5 .2 .5 .1 .5 .2 .5 .1 .5 .1 .5 .1 .5 .1 .5 .1 .5 .1 .5 .1 .5 .1 .5 0 .5 .1 .5 0 .5 .1 .5 0 .5 .1 .5 0 .5 0 .5 .1 .5-0 .5 0 .5 0 .5 .1 .5-0 .5-0 .5 0 .5 0 .5 0 .5 0 .5 .1 .5-0 .5-0 .5-0 .5-0 .5-0 .5-0 .5 0 .5 0 .5 0 .5 0 .5 0 .5 0 .5 0 .5 0 .5 0 .5 0 .5 .1 .5-0 .5-0 .5-0 .5-0 .5-0 .5-0 .5-0 .5-0 .5-0 .5-0 .5-0 .5-0 .5-0 .5 0 .5 0 .5 0 .5 0 .5 0 .5 0 .5 0 .5 0 .5 0 .5 0 .5 0 .5 0" fill="none" stroke="#c050e8" stroke-width="1.3" stroke-linejoin="round" stroke-linecap="round"/>
<path d="M183.1 417.5l.5 0 .5 0 .5 0 .5 0 .5 0 .5 0 .5 0 .5 0 .5 0 .5 0 .5 0 .5 .1 .5-0 .5-0 .5-0 .5-0 .5-0 .5-0 .5-0 .5-0 .5-0 .5-0 .5-0 .5-0 .5-0 .5-0 .5-0 .5-0 .5-0 .5-0 .5-0 .5-0 .5-0 .5-0 .5-0 .5-0 .5-.1 .5 0 .5 0 .5 0 .5 0 .5-0 .5-0 .5-.1 .5 0 .5-0 .5-.1 .5-0 .5-.1 .5-0 .5-.1 .5-.1 .5-.1 .5-.1 .5-.1 .5-.1 .5-.1 .5-.2 .5-.2 .5-.2 .5-.2 .5-.2 .5-.3 .5-.2 .5-.3 .5-.4 .5-.3 .5-.4 .5-.4 .5-.4 .5-.5 .5-.5 .5-.5 .5-.5 .5-.5 .5-.6 .5-.6 .5-.6 .5-.6 .5-.6 .5-.7 .5-.6 .5-.7 .5-.6 .5-.6 .5-.6 .5-.7 .5-.5 .5-.6 .5-.5 .5-.5 .5-.5 .5-.4 .5-.4 .5-.3 .5-.2 .5-.3 .5-.1 .5-.1 .5-.1 .5 0 .5 .1 .5 .2 .5 .1 .5 .3 .5 .3 .5 .3 .5 .4 .5 .5 .5 .5 .5 .5 .5 .5 .5 .6 .5 .6 .5 .6 .5 .6 .5 .7 .5 .6 .5 .7 .5 .6 .5 .7 .5 .6 .5 .6 .5 .6 .5 .6 .5 .6 .5 .5 .5 .5 .5 .5 .5 .5 .5 .4 .5 .5 .5 .4 .5 .3 .5 .4 .5 .3 .5 .3 .5 .3 .5 .2 .5 .2 .5 .2 .5 .2 .5 .2 .5 .2 .5 .1 .5 .1 .5 .1 .5 .1 .5 .1 .5 .1 .5 .1 .5 0 .5 .1 .5 .1 .5-0 .5 0 .5 .1 .5-0 .5 0 .5 0 .5 .1 .5-0 .5-0 .5 0 .5 0 .5 0 .5 0 .5 0 .5 .1 .5-0 .5-0 .5-0 .5-0 .5-0 .5-0 .5-0 .5-0 .5 0 .5 0 .5 0 .5 0 .5 0 .5 0 .5 0 .5 0 .5 0 .5 0 .5 0 .5 0 .5 0 .5 .1 .5-0 .5-0 .5-0 .5-0 .5-0 .5-0 .5-0 .5-0 .5-0" fill="none" stroke="#f82838" stroke-width="1.3" stroke-linejoin="round" stroke-linecap="round"/>
<path d="M216.6 417.7l.5 0 .5 0 .5 0 .5 0 .5 0 .5 0 .5 0 .5 .1 .5-0 .5-0 .5-0 .5-0 .5-0 .5-0 .5-0 .5-0 .5-0 .5-0 .5-0 .5-0 .5-0 .5-0 .5-0 .5-0 .5-0 .5-0 .5-0 .5-0 .5-.1 .5 0 .5 0 .5-0 .5-0 .5-.1 .5 0 .5-0 .5-.1 .5-.1 .5-0 .5-.1 .5-.1 .5-.1 .5-.1 .5-.2 .5-.1 .5-.2 .5-.2 .5-.2 .5-.2 .5-.2 .5-.2 .5-.3 .5-.2 .5-.3 .5-.2 .5-.2 .5-.2 .5-.2 .5-.2 .5-.2 .5-.1 .5-.1 .5-.1 .5-.1 .5 0 .5 0 .5 .1 .5 .1 .5 .1 .5 .1 .5 .2 .5 .2 .5 .2 .5 .2 .5 .3 .5 .2 .5 .3 .5 .2 .5 .2 .5 .3 .5 .2 .5 .2 .5 .2 .5 .2 .5 .2 .5 .1 .5 .2 .5 .1 .5 .1 .5 .1 .5 .1 .5 .1 .5 .1 .5 0 .5 .1 .5 0 .5 .1 .5-0 .5 0 .5 0 .5 0 .5 .1 .5-0 .5-0 .5-0 .5 0 .5 0 .5 0 .5 0 .5 0 .5 0 .5 0 .5 0 .5 0 .5 0 .5 0 .5 .1 .5-0 .5-0 .5-0 .5-0 .5-0 .5-0 .5-0 .5-0 .5-0 .5-0 .5-0 .5-0 .5-0" fill="none" stroke="#1c68f0" stroke-width="1.3" stroke-linejoin="round" stroke-linecap="round"/>
<path d="M138.6 417.3l2 0 2 0 2 0 2 0 2 .1 2-0 2-0 2-0 2 0 2 0 2 0 2 0 2 0 2 .1 2-0 2-0 2-0 2 0 2 0 2 0 2 0 2 0 2 .1 2-0 2-0 2-0 2 0 2 0 2 0 2 0 2 0 2 .1 2-0 2-0 2-0 2 0 2 0 2 0 2 0 2 0 2 .1 2-0 2-0 2-0 2 0 2 0 2 0 2 0 2 0 2 .1 2-0 2-0 2-0 2 0 2 0 2 0 2 0 2 0 2 .1 2-0 2-0 2-0 2 0 2 0 2 0 2 0 2 0 2 .1 2-0 2-0 2-0 2 0 2 0 2 0 2 0 2 0 2 .1 2-0 2-0 2-0 2 0 2 0 2 0 2 0 2 0 2 .1 2-0 2-0 2-0 .5-0" fill="none" stroke="#14caca" stroke-width="1.1" stroke-linejoin="round" stroke-linecap="round"/>
<path d="M138.6 417.3l.5 1.1 .5 .4 .5 .8 .5-.9 .5 .6 .5-.1 .5-1.3 .5 1.3 .5-1.2 .5-1.6 .5 0 .5-.4 .5 .1 .5 1.5 .5-.1 .5 1.7 .5-1 .5 .3 .5-.4 .5-2.1 .5 .8 .5 .8 .5 1.1 .5-1.8 .5 1.5 .5 .9 .5-1.6 .5 .4 .5 1.2 .5-2.6 .5 1 .5-2.2 .5 1.2 .5 2.1 .5-.8 .5 .5 .5-2.1 .5-.1 .5 .2 .5 1.4 .5-.3 .5 .9 .5-.4 .5-.9 .5 .4 .5 .3 .5-.3 .5 .9 .5-1.2 .5 .4 .5 .7 .5-.9 .5 .1 .5-0 .5-1.5 .5 2.4 .5-.7 .5 .5 .5-3.6 .5 2.5 .5-.5 .5-.8 .5 .4 .5 1.3 .5-2.1 .5 1.7 .5-1.5 .5 1.7 .5 .1 .5 1 .5 .1 .5-1.6 .5-.5 .5 .8 .5-.6 .5 .1 .5-1.1 .5 1.3 .5 2.6 .5-.1 .5-.8 .5-2 .5-.2 .5 1.4 .5-.7 .5 .4 .5-1 .5-.5 .5 .2 .5-.6 .5-.6 .5 .6 .5-.4 .5-2.1 .5 1.6 .5 1.7 .5-.5 .5-1.1 .5-1.5 .5-.5 .5 .2 .5 1.1 .5-.5 .5-.6 .5-1.4 .5 .2 .5-1 .5 2 .5-.6 .5-1 .5 1.2 .5 .4 .5-1.8 .5-2.6 .5 .9 .5-1.5 .5 .1 .5-2 .5-.8 .5-.5 .5-1.3 .5-1.2 .5 1.1 .5-1.1 .5 .9 .5-.6 .5-1.1 .5-.5 .5-1.5 .5-1 .5-.4 .5-.6 .5-1.6 .5 .4 .5-.5 .5 .6 .5-2.1 .5 1.7 .5-1.7 .5-.2 .5-.9 .5-2.8 .5-.4 .5 1 .5 .7 .5-1.4 .5 .8 .5-0 .5-1.9 .5 .9 .5-1 .5-2.1 .5 .9 .5-.2 .5-.6 .5-1.2 .5 0 .5 1.8 .5-.9 .5-1 .5-.5 .5 1.9 .5 1.6 .5-1.9 .5-.5 .5 1.1 .5 .9 .5-1 .5 .4 .5 1.6 .5-1.5 .5-.5 .5 .2 .5 .6 .5-.2 .5-1.2 .5 .5 .5 1.3 .5-1.1 .5-.4 .5 .1 .5 2.6 .5-.4 .5-.9 .5 2 .5 1 .5-.6 .5 .5 .5 .3 .5 .9 .5-.1 .5 .6 .5-.2 .5 .8 .5 1.2 .5 .6 .5 0 .5-1 .5 1.7 .5 .9 .5 .8 .5 2.6 .5 0 .5 .1 .5 .7 .5-1.3 .5 .9 .5 .8 .5 1.3 .5 .9 .5 1.3 .5 0 .5-.3 .5 .6 .5-1 .5 .1 .5 .9 .5 2.1 .5 .5 .5-1 .5 1.6 .5 .9 .5 .4 .5 1.2 .5 0 .5 1.1 .5 .2 .5-.9 .5 .8 .5 1.1 .5 2 .5-1.1 .5 0 .5-1.3 .5 .1 .5-1 .5 1.7 .5 1.7 .5-.9 .5 1.7 .5 .3 .5-.5 .5 .3 .5-1.1 .5 .8 .5 .6 .5-1.3 .5 .9 .5-.2 .5-.2 .5 .1 .5 .8 .5-.1 .5 1.2 .5 1.3 .5-.7 .5-1 .5 .4 .5-1.7 .5 .1 .5-.1 .5 1.4 .5 .4 .5 .2 .5-2.3 .5 1 .5 .7 .5-1.1 .5 2.5 .5-0 .5 1.7 .5-.8 .5-2.7 .5 1.8 .5-.5 .5 .1 .5 .7 .5-1.7 .5 1 .5-1.2 .5 1.5 .5 .3 .5-.4 .5-.3 .5 .4 .5-.4 .5-2.1 .5 1.6 .5 .6 .5 .5 .5-.4 .5 .6 .5 .6 .5 .1 .5-2.4 .5 0 .5 1.2 .5-.2 .5 1.2 .5-.6 .5 1.1 .5-2.2 .5 .2 .5 1.4 .5-2.3 .5 .2 .5 1.7 .5-.5 .5-.2 .5 .2 .5-.8 .5-.2 .5 1.6 .5-0 .5-1.3 .5-.2 .5-.8 .5 1.7 .5-.2 .5 .1 .5 .3 .5-1.5 .5 1.1 .5-.1 .5 .5 .5-1 .5-.3 .5-1.1 .5 .2 .5-.1 .5 2.6 .5-.2 .5-.5 .5 .2 .5-.1 .5-1 .5 .3 .5-.2 .5-2.6 .5 .6 .5 1.3 .5 .9 .5 2.2 .5-.1 .5-2.6 .5 1.4 .5-.3 .5-.2 .5-.9 .5 1.3 .5 .9 .5-1.5 .5 .9 .5-1 .5-.2 .5 1.7 .5-.4" fill="none" stroke="#333" stroke-width="1.0" stroke-linejoin="round" stroke-linecap="round"/>
<path d="M138.6 417.3l.5-0 .5-0 .5-0 .5-0 .5-0 .5-0 .5-0 .5-0 .5-0 .5-0 .5-0 .5-0 .5-0 .5 0 .5 0 .5 0 .5 0 .5 0 .5 0 .5 0 .5 0 .5 0 .5 0 .5 0 .5 0 .5 0 .5 0 .5 0 .5 0 .5 0 .5 0 .5 0 .5 0 .5 0 .5 0 .5 0 .5 0 .5 0 .5 .1 .5-0 .5-0 .5-0 .5-0 .5-0 .5-0 .5-0 .5-0 .5-0 .5-0 .5-0 .5-0 .5-0 .5-0 .5-0 .5-0 .5-0 .5-0 .5-0 .5-0 .5-0 .5-0 .5-0 .5-0 .5-0 .5-0 .5-0 .5-.1 .5 0 .5 0 .5 0 .5 0 .5-0 .5-0 .5-0 .5-.1 .5 0 .5 0 .5-0 .5-.1 .5 0 .5-0 .5-.1 .5-0 .5-.1 .5-0 .5-.1 .5-.1 .5-.1 .5-.1 .5-.1 .5-.1 .5-.1 .5-.1 .5-.2 .5-.1 .5-.2 .5-.2 .5-.2 .5-.2 .5-.2 .5-.3 .5-.3 .5-.3 .5-.3 .5-.3 .5-.3 .5-.4 .5-.4 .5-.4 .5-.5 .5-.4 .5-.5 .5-.5 .5-.5 .5-.6 .5-.6 .5-.6 .5-.6 .5-.6 .5-.6 .5-.7 .5-.7 .5-.7 .5-.7 .5-.7 .5-.7 .5-.7 .5-.7 .5-.7 .5-.8 .5-.7 .5-.7 .5-.7 .5-.7 .5-.6 .5-.7 .5-.6 .5-.6 .5-.6 .5-.6 .5-.5 .5-.5 .5-.5 .5-.5 .5-.4 .5-.4 .5-.3 .5-.3 .5-.3 .5-.3 .5-.2 .5-.2 .5-.2 .5-.1 .5-.1 .5-.1 .5-.1 .5-.1 .5-0 .5-0 .5-0 .5-0 .5-0 .5-0 .5 0 .5 .1 .5-0 .5 0 .5 .1 .5 0 .5 .1 .5 .1 .5 0 .5 .1 .5 .1 .5 .1 .5 .1 .5 .1 .5 .2 .5 .2 .5 .2 .5 .2 .5 .2 .5 .3 .5 .3 .5 .3 .5 .4 .5 .4 .5 .4 .5 .5 .5 .5 .5 .5 .5 .5 .5 .6 .5 .6 .5 .6 .5 .6 .5 .7 .5 .6 .5 .7 .5 .6 .5 .6 .5 .7 .5 .6 .5 .6 .5 .6 .5 .5 .5 .6 .5 .5 .5 .6 .5 .5 .5 .4 .5 .5 .5 .5 .5 .4 .5 .5 .5 .4 .5 .5 .5 .4 .5 .4 .5 .5 .5 .4 .5 .5 .5 .4 .5 .5 .5 .5 .5 .4 .5 .5 .5 .4 .5 .5 .5 .4 .5 .4 .5 .4 .5 .4 .5 .4 .5 .4 .5 .3 .5 .3 .5 .3 .5 .2 .5 .3 .5 .2 .5 .2 .5 .1 .5 .2 .5 .1 .5 .2 .5 .1 .5 0 .5 .1 .5 .1 .5 0 .5 .1 .5 0 .5 .1 .5-0 .5 0 .5 0 .5 .1 .5-0 .5-0 .5 0 .5 0 .5 0 .5 0 .5 0 .5 0 .5 .1 .5-0 .5-0 .5-0 .5-0 .5-0 .5-0 .5-0 .5-0 .5-0 .5-0 .5 0 .5 0 .5 0 .5 0 .5 0 .5 0 .5 0 .5 0 .5 0 .5 0 .5 0 .5 0 .5 .1 .5-0 .5-0 .5-0 .5-0 .5-0 .5-0 .5-0 .5-0 .5-0 .5-0 .5-0 .5-0 .5 0 .5 0 .5 0 .5 0 .5 0 .5 0 .5 0 .5 0 .5 0 .5 0 .5 0 .5 0 .5 0 .5 0 .5 0 .5 .1 .5-0 .5-0 .5-0 .5-0 .5-0 .5-0 .5-0 .5-0 .5-0 .5-0 .5-0 .5-0 .5-0 .5-0 .5 0 .5 0 .5 0 .5 0 .5 0 .5 0 .5 0 .5 0 .5 0 .5 0 .5 0 .5 0 .5 0 .5 0 .5 0 .5 0 .5 .1 .5-0 .5-0 .5-0 .5-0 .5-0 .5-0 .5-0" fill="none" stroke="#702626" stroke-width="1.05" stroke-linejoin="round" stroke-linecap="round"/>
<path d="M142.6 462.5l.5-0 .5-0 .5-0 .5-0 .5-0 .5-0 .5-0 .5-0 .5-0 .5-0 .5-0 .5-0 .5-0 .5 0 .5 0 .5 0 .5 0 .5 0 .5 0 .5 0 .5 0 .5 0 .5 0 .5 0 .5 0 .5 0 .5 0 .5 0 .5 0 .5 .1 .5-0 .5-0 .5-0 .5-0 .5-0 .5-0 .5-0 .5-0 .5-0 .5-0 .5-0 .5-0 .5-0 .5-0 .5-0 .5-0 .5-0 .5-0 .5-0 .5-0 .5-0 .5-0 .5-0 .5-0 .5-.1 .5 0 .5 0 .5 0 .5 0 .5 0 .5-0 .5-0 .5-0 .5-.1 .5 0 .5 0 .5-0 .5-.1 .5 0 .5-0 .5-.1 .5 0 .5-0 .5-.1 .5-0 .5-.1 .5-.1 .5-0 .5-.1 .5-.1 .5-.1 .5-.1 .5-.1 .5-.1 .5-.1 .5-.1 .5-.2 .5-.1 .5-.2 .5-.1 .5-.2 .5-.2 .5-.2 .5-.2 .5-.3 .5-.2 .5-.3 .5-.2 .5-.3 .5-.3 .5-.3 .5-.4 .5-.3 .5-.4 .5-.4 .5-.3 .5-.5 .5-.4 .5-.4 .5-.5 .5-.4 .5-.5 .5-.5 .5-.5 .5-.5 .5-.5 .5-.6 .5-.5 .5-.6 .5-.6 .5-.5 .5-.6 .5-.6 .5-.6 .5-.5 .5-.6 .5-.6 .5-.6 .5-.5 .5-.6 .5-.5 .5-.6 .5-.5 .5-.5 .5-.5 .5-.5 .5-.5 .5-.4 .5-.4 .5-.4 .5-.4 .5-.3 .5-.3 .5-.3 .5-.2 .5-.2 .5-.2 .5-.1 .5-.1 .5-.1 .5 0 .5 0 .5 .1 .5 0 .5 .2 .5 .1 .5 .2 .5 .2 .5 .3 .5 .3 .5 .3 .5 .4 .5 .3 .5 .4 .5 .5 .5 .4 .5 .5 .5 .5 .5 .5 .5 .5 .5 .6 .5 .5 .5 .6 .5 .6 .5 .5 .5 .6 .5 .6 .5 .6 .5 .6 .5 .6 .5 .6 .5 .6 .5 .5 .5 .6 .5 .6 .5 .5 .5 .6 .5 .5 .5 .5 .5 .5 .5 .5 .5 .5 .5 .5 .5 .4 .5 .5 .5 .4 .5 .4 .5 .4 .5 .4 .5 .4 .5 .3 .5 .4 .5 .3 .5 .3 .5 .3 .5 .3 .5 .2 .5 .3 .5 .2 .5 .2 .5 .2 .5 .2 .5 .2 .5 .2 .5 .2 .5 .1 .5 .2 .5 .1 .5 .1 .5 .1 .5 .2 .5 .1 .5 .1 .5 0 .5 .1 .5 .1 .5 .1 .5 0 .5 .1 .5 .1 .5 0 .5 .1 .5 0 .5 .1 .5-0 .5 0 .5 .1 .5-0 .5 0 .5 .1 .5-0 .5 0 .5 0 .5 0 .5 .1 .5-0 .5 0 .5 0 .5 0 .5 0 .5 .1 .5-0 .5-0 .5-0 .5 0 .5 0 .5 0 .5 0 .5 .1 .5-0 .5-0 .5-0 .5-0 .5-0 .5 0 .5 0 .5 0 .5 0 .5 0 .5 0 .5 .1 .5-0 .5-0 .5-0 .5-0 .5-0 .5-0 .5 0 .5 0 .5 0 .5 0 .5 0 .5 0 .5 0 .5 .1 .5-0 .5-0 .5-0 .5-0 .5-0 .5-0 .5 0 .5 0 .5 0 .5 0 .5 0 .5 0 .5 0 .5 0 .5 .1 .5-0 .5-0" fill="none" stroke="#1c68f0" stroke-width="1.3" stroke-linejoin="round" stroke-linecap="round"/>
<path d="M189.1 462.9l.5 0 .5 0 .5 0 .5 0 .5 0 .5 0 .5 .1 .5-0 .5-0 .5-0 .5-0 .5-0 .5-0 .5-0 .5-0 .5-0 .5-0 .5-0 .5-0 .5-0 .5-0 .5-0 .5-0 .5-0 .5-0 .5-0 .5-0 .5-0 .5-0 .5-0 .5-0 .5-0 .5-0 .5-0 .5-0 .5-0 .5-0 .5-0 .5-0 .5-.1 .5 0 .5 0 .5-0 .5-0 .5-.1 .5 0 .5-0 .5-.1 .5-0 .5-.1 .5-0 .5-.1 .5-.1 .5-.1 .5-.1 .5-.1 .5-.1 .5-.2 .5-.1 .5-.2 .5-.2 .5-.2 .5-.2 .5-.3 .5-.3 .5-.3 .5-.3 .5-.3 .5-.4 .5-.4 .5-.4 .5-.5 .5-.5 .5-.5 .5-.5 .5-.5 .5-.6 .5-.6 .5-.7 .5-.6 .5-.7 .5-.7 .5-.7 .5-.7 .5-.7 .5-.7 .5-.7 .5-.7 .5-.7 .5-.7 .5-.6 .5-.7 .5-.6 .5-.6 .5-.5 .5-.5 .5-.5 .5-.4 .5-.4 .5-.3 .5-.2 .5-.2 .5-.1 .5-.1 .5 0 .5 .1 .5 .2 .5 .2 .5 .2 .5 .3 .5 .4 .5 .5 .5 .4 .5 .6 .5 .5 .5 .6 .5 .6 .5 .7 .5 .7 .5 .7 .5 .7 .5 .7 .5 .7 .5 .7 .5 .8 .5 .7 .5 .7 .5 .7 .5 .6 .5 .7 .5 .6 .5 .6 .5 .6 .5 .6 .5 .5 .5 .5 .5 .5 .5 .5 .5 .4 .5 .4 .5 .4 .5 .4 .5 .3 .5 .3 .5 .3 .5 .2 .5 .3 .5 .2 .5 .2 .5 .2 .5 .1 .5 .2 .5 .1 .5 .1 .5 .1 .5 .1 .5 .1 .5 .1 .5 .1 .5 0 .5 .1 .5 0 .5 .1 .5 0 .5 .1 .5 0 .5 0 .5 .1 .5-0 .5 0 .5 0 .5 0 .5 .1 .5-0 .5-0 .5 0 .5 0 .5 0 .5 0 .5 .1 .5-0 .5-0 .5-0 .5-0 .5 0 .5 0 .5 0 .5 0 .5 0 .5 0 .5 .1 .5-0 .5-0 .5-0 .5-0 .5-0 .5-0 .5 0 .5 0 .5 0 .5 0 .5 0 .5 0 .5 0 .5 .1 .5-0 .5-0 .5-0 .5-0" fill="none" stroke="#c050e8" stroke-width="1.3" stroke-linejoin="round" stroke-linecap="round"/>
<path d="M205.6 463.2l.5-0 .5-0 .5-0 .5-0 .5-0 .5-0 .5-0 .5 0 .5 0 .5 0 .5 0 .5 0 .5 0 .5 0 .5 0 .5 0 .5 0 .5 0 .5 .1 .5-0 .5-0 .5-0 .5-0 .5-0 .5-0 .5-0 .5-0 .5-0 .5-0 .5 0 .5 0 .5 0 .5 0 .5 0 .5 0 .5 0 .5 0 .5 0 .5 0 .5 0 .5 0 .5 0 .5 0 .5 0 .5 0 .5 0 .5 0 .5 0 .5 0 .5-0 .5-0 .5-0 .5-0 .5-.1 .5 0 .5 0 .5-0 .5-0 .5-.1 .5-0 .5-.1 .5 0 .5-0 .5-.1 .5-.1 .5-0 .5-.1 .5-0 .5-.1 .5-.1 .5-.1 .5-.1 .5-.1 .5-.1 .5-.1 .5-.1 .5-.1 .5-.1 .5-.1 .5-.1 .5-.1 .5-.1 .5-.1 .5-.1 .5-.1 .5-.1 .5-.1 .5-.1 .5-.1 .5-.1 .5-.1 .5-0 .5-.1 .5-0 .5-.1 .5-0 .5-0 .5-0 .5-0 .5-0 .5 0 .5 .1 .5 0 .5 .1 .5 0 .5 .1 .5 .1 .5 .1 .5 .1 .5 .1 .5 .1 .5 .1 .5 .1 .5 .2 .5 .1 .5 .1 .5 .1 .5 .1 .5 .2 .5 .1 .5 .1 .5 .1 .5 .1 .5 .1 .5 .1 .5 .1 .5 .1 .5 .1 .5 .1 .5 .1 .5 0 .5 .1 .5 .1 .5 0 .5 .1 .5 0 .5 .1 .5 0 .5 .1 .5 0 .5 0 .5 .1 .5-0 .5 0 .5 0 .5 .1 .5-0 .5 0 .5 0 .5 0 .5 .1 .5-0 .5-0 .5-0 .5-0 .5 0 .5 0 .5 0 .5 0 .5 0 .5 0 .5 .1 .5-0 .5-0 .5-0 .5-0 .5-0 .5-0 .5-0 .5 0 .5 0 .5 0 .5 0 .5 0 .5 0 .5 0 .5 0 .5 .1 .5-0 .5-0 .5-0 .5-0 .5-0 .5-0 .5-0 .5-0 .5-0 .5 0 .5 0 .5 0 .5 0 .5 0 .5 0 .5 0 .5 0 .5 0 .5 .1" fill="none" stroke="#e0a008" stroke-width="1.3" stroke-linejoin="round" stroke-linecap="round"/>
<path d="M138.6 462.5l2 0 2 0 2 .1 2-0 2 0 2 0 2 0 2 .1 2-0 2 0 2 0 2 0 2 .1 2-0 2 0 2 0 2 0 2 .1 2-0 2 0 2 0 2 0 2 .1 2-0 2 0 2 0 2 0 2 .1 2-0 2 0 2 0 2 0 2 .1 2-0 2 0 2 0 2 0 2 .1 2-0 2 0 2 0 2 0 2 .1 2-0 2 0 2 0 2 0 2 .1 2-0 2 0 2 0 2 0 2 .1 2-0 2 0 2 0 2 0 2 .1 2-0 2 0 2 0 2 0 2 .1 2-0 2 0 2 0 2 0 2 .1 2-0 2 0 2 0 2 0 2 .1 2-0 2 0 2 0 2 0 2 .1 2-0 2 0 2 0 2 0 2 .1 2-0 2 0 2 0 2 0 2 .1 2-0 .5-0" fill="none" stroke="#14caca" stroke-width="1.1" stroke-linejoin="round" stroke-linecap="round"/>
<path d="M138.6 462.7l.5-.2 .5-.2 .5-1 .5 1.4 .5-.5 .5 .6 .5-.4 .5 1 .5-.5 .5 .2 .5 .5 .5-.7 .5-.4 .5-.1 .5 .1 .5 .5 .5 0 .5-.1 .5 .5 .5-.2 .5-1.3 .5 1.5 .5-2 .5 2.3 .5-2 .5-.9 .5 .1 .5 1.6 .5-.8 .5 1.1 .5 .7 .5-1 .5-.1 .5 .5 .5 .2 .5-.8 .5-1.6 .5 .3 .5-.2 .5 .9 .5 .4 .5-.5 .5-.5 .5 .1 .5 .7 .5 .7 .5 .4 .5 .7 .5 .4 .5-1.1 .5 .9 .5-1.7 .5 .7 .5-.2 .5-1.8 .5 2.2 .5 1.7 .5 0 .5-2.4 .5-2.2 .5 1.7 .5 .5 .5-.6 .5-.4 .5-1.2 .5 1 .5-1.5 .5-.1 .5 1 .5 2.1 .5 .5 .5 .5 .5 .6 .5-.1 .5-1.4 .5 0 .5-.1 .5-.8 .5 0 .5 0 .5-1.2 .5-.9 .5 1 .5 1.1 .5 .8 .5 .7 .5-.5 .5-.4 .5-1 .5-1.2 .5-2.4 .5 1.1 .5 1.5 .5 .1 .5 1.8 .5 .6 .5-.4 .5-1.2 .5 .9 .5 .3 .5-2.6 .5 .1 .5 .6 .5-1.6 .5 1.5 .5-1.2 .5-.1 .5-1.1 .5-.2 .5-.2 .5 .9 .5-1.4 .5-.2 .5-.1 .5-1.2 .5-.2 .5-2.1 .5-1.3 .5-.1 .5-1.4 .5-.3 .5 .3 .5-.6 .5-.5 .5-.8 .5 .6 .5-.5 .5-2.7 .5 1.4 .5 1.1 .5-.4 .5-.1 .5-2.1 .5 .8 .5-.7 .5-1.4 .5 .3 .5-1 .5-1.9 .5-.5 .5-.1 .5-1 .5-.2 .5-1.3 .5-2.1 .5 1.4 .5-.1 .5-.3 .5-2.4 .5-0 .5 1 .5-1.2 .5-1.5 .5 2.2 .5-1.1 .5-.2 .5-.9 .5 .7 .5-.7 .5-1.4 .5-.6 .5 .1 .5 1.5 .5-.8 .5-.7 .5 .8 .5 .4 .5-1.3 .5 0 .5 .6 .5-.7 .5 .7 .5 0 .5-1.5 .5 1.1 .5-.1 .5-.5 .5-1.8 .5 1.3 .5-1.5 .5 1.3 .5 1.9 .5-1.3 .5-.1 .5-.1 .5 1.1 .5-.3 .5-.5 .5 1.1 .5-2.1 .5 .1 .5-1.7 .5 .6 .5 1.1 .5-1 .5 .5 .5 1.9 .5-1.9 .5 .6 .5 .1 .5 2.1 .5-.6 .5-.7 .5 1.4 .5-.6 .5-.5 .5 1 .5-.8 .5 2.2 .5 1.2 .5-.5 .5-.5 .5 .8 .5 2.4 .5 1.6 .5-.4 .5 .5 .5 .5 .5 1.4 .5 .4 .5-.1 .5 2 .5 2.1 .5-1 .5 2.6 .5 .1 .5 .1 .5 .5 .5 1.4 .5-.7 .5 .5 .5 3.1 .5-.8 .5-2.1 .5 .5 .5 3.3 .5-1.5 .5 1 .5 1 .5 .7 .5 .7 .5-1.8 .5 3.5 .5-.8 .5 1.9 .5 1.7 .5-.8 .5-.6 .5 1.4 .5 1.3 .5 .8 .5-1.1 .5-.6 .5-1.3 .5 1.9 .5 1 .5 .2 .5-1.2 .5-.6 .5-.4 .5 .8 .5 2.1 .5 .1 .5-.4 .5 .1 .5-.5 .5 .3 .5-.6 .5 2.1 .5-.2 .5-.2 .5 1.1 .5 .2 .5 .7 .5-1.5 .5-1 .5 1.6 .5-.1 .5-.5 .5 .9 .5-.3 .5-.6 .5-1.2 .5-.1 .5 .6 .5 .4 .5 .4 .5-.8 .5 .4 .5-.8 .5-0 .5-.2 .5 2 .5-.8 .5 .9 .5-1.7 .5 .8 .5 1.6 .5-.8 .5 1.3 .5-.9 .5-1.8 .5 .2 .5 .4 .5 .2 .5 .5 .5-.2 .5 1 .5 .4 .5-.6 .5-1.4 .5 .4 .5 1 .5 .1 .5-0 .5-2.4 .5 1.3 .5-.1 .5-.4 .5 1 .5-2.7 .5 1.5 .5-0 .5-1.6 .5-.1 .5 1.1 .5 1.9 .5-1.9 .5-1.1 .5 1.6 .5-.5 .5 .1 .5 .2 .5 .9 .5-.6 .5 .1 .5-.1 .5 .1 .5-1.3 .5 1.7 .5 .8 .5 .4 .5 .6 .5-.4 .5 1.8 .5-1.1 .5-1 .5-.3 .5 .6 .5 .3 .5 .4 .5-.9 .5-1.4 .5-.3 .5 .4 .5-1.5 .5 1.4" fill="none" stroke="#333" stroke-width="1.0" stroke-linejoin="round" stroke-linecap="round"/>
<path d="M138.6 462.4l.5-0 .5 0 .5 0 .5 0 .5 0 .5 0 .5 0 .5 0 .5 0 .5 0 .5 0 .5 0 .5 0 .5 0 .5 0 .5 .1 .5-0 .5-0 .5-0 .5-0 .5-0 .5-0 .5-0 .5-0 .5-0 .5-0 .5-0 .5-0 .5-0 .5-0 .5-0 .5-0 .5 0 .5 0 .5 0 .5 0 .5 0 .5 0 .5 0 .5 0 .5 0 .5 0 .5 0 .5 0 .5 0 .5 0 .5 0 .5 0 .5 0 .5 0 .5 0 .5 0 .5 0 .5 0 .5 0 .5 0 .5 0 .5 0 .5 0 .5 0 .5 0 .5 0 .5-0 .5-0 .5-0 .5-0 .5-0 .5-.1 .5 0 .5 0 .5 0 .5-0 .5-0 .5-.1 .5 0 .5-0 .5-0 .5-.1 .5-0 .5-.1 .5-0 .5-.1 .5-0 .5-.1 .5-0 .5-.1 .5-.1 .5-.1 .5-.1 .5-0 .5-.2 .5-.1 .5-.1 .5-.1 .5-.2 .5-.1 .5-.2 .5-.1 .5-.2 .5-.2 .5-.2 .5-.2 .5-.3 .5-.2 .5-.3 .5-.2 .5-.3 .5-.3 .5-.4 .5-.3 .5-.3 .5-.4 .5-.4 .5-.4 .5-.4 .5-.4 .5-.4 .5-.5 .5-.5 .5-.5 .5-.4 .5-.6 .5-.5 .5-.5 .5-.6 .5-.5 .5-.6 .5-.5 .5-.6 .5-.6 .5-.6 .5-.6 .5-.6 .5-.6 .5-.6 .5-.6 .5-.6 .5-.6 .5-.6 .5-.6 .5-.5 .5-.6 .5-.6 .5-.5 .5-.6 .5-.5 .5-.5 .5-.5 .5-.5 .5-.5 .5-.5 .5-.4 .5-.5 .5-.4 .5-.4 .5-.4 .5-.3 .5-.3 .5-.3 .5-.3 .5-.3 .5-.2 .5-.2 .5-.1 .5-.1 .5-.1 .5-.1 .5-.1 .5 0 .5 0 .5 0 .5 .1 .5 0 .5 .1 .5 0 .5 .1 .5 0 .5 .1 .5 .1 .5-0 .5 0 .5 0 .5 0 .5 0 .5 0 .5-0 .5-.1 .5-0 .5-.1 .5-.1 .5-0 .5-.1 .5-.1 .5-0 .5-.1 .5 0 .5-0 .5 0 .5 .1 .5 0 .5 .1 .5 .2 .5 .2 .5 .2 .5 .3 .5 .3 .5 .4 .5 .4 .5 .4 .5 .5 .5 .5 .5 .6 .5 .6 .5 .6 .5 .7 .5 .7 .5 .7 .5 .7 .5 .8 .5 .7 .5 .8 .5 .8 .5 .8 .5 .8 .5 .7 .5 .8 .5 .8 .5 .8 .5 .7 .5 .8 .5 .7 .5 .7 .5 .7 .5 .7 .5 .6 .5 .7 .5 .6 .5 .6 .5 .5 .5 .6 .5 .5 .5 .5 .5 .5 .5 .5 .5 .4 .5 .4 .5 .4 .5 .4 .5 .3 .5 .4 .5 .3 .5 .3 .5 .3 .5 .2 .5 .3 .5 .2 .5 .2 .5 .2 .5 .2 .5 .2 .5 .1 .5 .2 .5 .1 .5 .1 .5 .1 .5 .1 .5 .1 .5 .1 .5 .1 .5 .1 .5 0 .5 .1 .5 .1 .5 0 .5 .1 .5 0 .5 .1 .5-0 .5 0 .5 .1 .5-0 .5 0 .5 0 .5 .1 .5-0 .5-0 .5 0 .5 0 .5 0 .5 .1 .5-0 .5-0 .5-0 .5 0 .5 0 .5 0 .5 0 .5 .1 .5-0 .5-0 .5-0 .5-0 .5-0 .5 0 .5 0 .5 0 .5 0 .5 0 .5 .1 .5-0 .5-0 .5-0 .5-0 .5-0 .5 0 .5 0 .5 0 .5 0 .5 0 .5 0 .5 0 .5 .1 .5-0 .5-0 .5-0 .5-0 .5-0 .5-0 .5 0 .5 0 .5 0 .5 0 .5 0 .5 0 .5 0 .5 .1 .5-0 .5-0 .5-0 .5-0 .5-0 .5-0 .5 0 .5 0 .5 0 .5 0 .5 0 .5 0 .5 0 .5 0 .5 .1 .5-0 .5-0 .5-0 .5-0 .5-0 .5-0" fill="none" stroke="#702626" stroke-width="1.05" stroke-linejoin="round" stroke-linecap="round"/>
<path d="M141.1 510.3l.5-0 .5-0 .5-0 .5-0 .5-0 .5-0 .5-0 .5-0 .5 0 .5 0 .5 0 .5 0 .5 0 .5 0 .5 0 .5 0 .5 0 .5 0 .5 0 .5 0 .5 0 .5 0 .5 0 .5 .1 .5-0 .5-0 .5-0 .5-0 .5-0 .5-0 .5-0 .5-0 .5-0 .5-0 .5-0 .5-0 .5-0 .5-0 .5-0 .5-0 .5-0 .5-0 .5-0 .5-0 .5-0 .5-0 .5-0 .5-0 .5-0 .5-0 .5-0 .5-0 .5-0 .5-0 .5-0 .5-0 .5-0 .5-.1 .5 0 .5 0 .5 0 .5-0 .5-0 .5-.1 .5 0 .5-0 .5-0 .5-.1 .5-0 .5-0 .5-.1 .5-0 .5-.1 .5-.1 .5-0 .5-.1 .5-.1 .5-0 .5-.1 .5-.1 .5-.1 .5-.1 .5-.2 .5-.1 .5-.1 .5-.2 .5-.1 .5-.2 .5-.2 .5-.2 .5-.2 .5-.2 .5-.2 .5-.2 .5-.3 .5-.2 .5-.3 .5-.3 .5-.3 .5-.3 .5-.3 .5-.3 .5-.3 .5-.4 .5-.3 .5-.4 .5-.4 .5-.3 .5-.4 .5-.4 .5-.4 .5-.4 .5-.4 .5-.4 .5-.4 .5-.4 .5-.4 .5-.4 .5-.4 .5-.4 .5-.4 .5-.4 .5-.3 .5-.4 .5-.3 .5-.4 .5-.3 .5-.3 .5-.2 .5-.3 .5-.2 .5-.2 .5-.2 .5-.1 .5-.2 .5-.1 .5-0 .5-.1 .5-0 .5-0 .5 0 .5 .1 .5 .1 .5 .1 .5 .1 .5 .2 .5 .2 .5 .2 .5 .3 .5 .2 .5 .3 .5 .3 .5 .3 .5 .4 .5 .3 .5 .4 .5 .4 .5 .3 .5 .4 .5 .4 .5 .4 .5 .5 .5 .4 .5 .4 .5 .4 .5 .4 .5 .4 .5 .4 .5 .4 .5 .4 .5 .4 .5 .4 .5 .4 .5 .4 .5 .3 .5 .4 .5 .3 .5 .4 .5 .3 .5 .3 .5 .3 .5 .3 .5 .2 .5 .3 .5 .3 .5 .2 .5 .2 .5 .2 .5 .2 .5 .2 .5 .2 .5 .2 .5 .2 .5 .1 .5 .2 .5 .1 .5 .1 .5 .1 .5 .2 .5 .1 .5 .1 .5 0 .5 .1 .5 .1 .5 .1 .5 0 .5 .1 .5 .1 .5 0 .5 .1 .5 0 .5 .1 .5-0 .5 0 .5 .1 .5-0 .5 0 .5 0 .5 .1 .5-0 .5 0 .5 0 .5 .1 .5-0 .5-0 .5 0 .5 0 .5 0 .5 0 .5 .1 .5-0 .5-0 .5-0 .5-0 .5 0 .5 0 .5 0 .5 0 .5 0 .5 0 .5 .1 .5-0 .5-0 .5-0 .5-0 .5-0 .5-0 .5 0 .5 0 .5 0 .5 0 .5 0 .5 0 .5 0 .5 0 .5 .1 .5-0 .5-0 .5-0 .5-0 .5-0 .5-0 .5-0 .5 0 .5 0 .5 0 .5 0 .5 0 .5 0 .5 0 .5 0 .5 0 .5 .1 .5-0 .5-0 .5-0 .5-0 .5-0 .5-0" fill="none" stroke="#20b050" stroke-width="1.3" stroke-linejoin="round" stroke-linecap="round"/>
<path d="M176.6 510.6l.5-0 .5-0 .5-0 .5-0 .5-0 .5-0 .5-0 .5 0 .5 0 .5 0 .5 0 .5 0 .5 0 .5 0 .5 0 .5 0 .5 0 .5 0 .5 0 .5 0 .5 0 .5 0 .5 0 .5 0 .5 0 .5 0 .5 0 .5 0 .5 0 .5 0 .5 0 .5 0 .5 0 .5 0 .5 0 .5 0 .5 0 .5 0 .5 0 .5 0 .5 0 .5-0 .5-0 .5-0 .5-0 .5-.1 .5 0 .5 0 .5-0 .5-.1 .5 0 .5-0 .5-.1 .5-0 .5-.1 .5-0 .5-.1 .5-.1 .5-.1 .5-.1 .5-.1 .5-.1 .5-.1 .5-.2 .5-.1 .5-.2 .5-.2 .5-.2 .5-.2 .5-.3 .5-.3 .5-.2 .5-.4 .5-.3 .5-.3 .5-.4 .5-.4 .5-.4 .5-.5 .5-.5 .5-.5 .5-.5 .5-.5 .5-.6 .5-.6 .5-.6 .5-.6 .5-.7 .5-.7 .5-.6 .5-.7 .5-.7 .5-.7 .5-.7 .5-.7 .5-.8 .5-.7 .5-.6 .5-.7 .5-.7 .5-.6 .5-.6 .5-.6 .5-.5 .5-.5 .5-.5 .5-.4 .5-.4 .5-.4 .5-.2 .5-.3 .5-.1 .5-.1 .5-.1 .5 0 .5 .1 .5 .1 .5 .2 .5 .2 .5 .3 .5 .4 .5 .4 .5 .4 .5 .5 .5 .5 .5 .6 .5 .5 .5 .7 .5 .6 .5 .7 .5 .7 .5 .7 .5 .7 .5 .7 .5 .7 .5 .7 .5 .7 .5 .7 .5 .7 .5 .7 .5 .7 .5 .7 .5 .6 .5 .6 .5 .6 .5 .6 .5 .5 .5 .6 .5 .5 .5 .5 .5 .4 .5 .5 .5 .4 .5 .4 .5 .3 .5 .4 .5 .3 .5 .3 .5 .3 .5 .2 .5 .2 .5 .3 .5 .2 .5 .1 .5 .2 .5 .2 .5 .1 .5 .1 .5 .2 .5 .1 .5 .1 .5 0 .5 .1 .5 .1 .5 .1 .5 0 .5 .1 .5 0 .5 .1 .5-0 .5 0 .5 .1 .5-0 .5 0 .5 0 .5 .1 .5-0 .5 0 .5 0 .5 0 .5 .1 .5-0 .5-0 .5-0 .5 0 .5 0 .5 0 .5 0 .5 0 .5 .1 .5-0 .5-0 .5-0 .5-0 .5-0 .5 0 .5 0 .5 0 .5 0 .5 0 .5 0 .5 0 .5 .1 .5-0 .5-0 .5-0 .5-0 .5-0 .5-0 .5 0 .5 0 .5 0 .5 0 .5 0 .5 0 .5 0 .5 0 .5 .1 .5-0" fill="none" stroke="#1c68f0" stroke-width="1.3" stroke-linejoin="round" stroke-linecap="round"/>
<path d="M193.1 510.8l.5 0 .5 0 .5 0 .5 0 .5 0 .5 0 .5 0 .5 0 .5 0 .5 0 .5 0 .5 .1 .5-0 .5-0 .5-0 .5-0 .5-0 .5-0 .5-0 .5-0 .5-0 .5-0 .5-0 .5 0 .5 0 .5 0 .5 0 .5 0 .5 0 .5 0 .5 0 .5 0 .5 0 .5 0 .5 0 .5 0 .5 0 .5 0 .5 .1 .5-0 .5-0 .5-0 .5-0 .5-0 .5-0 .5-0 .5-0 .5-0 .5-0 .5-.1 .5 0 .5 0 .5 0 .5 0 .5 0 .5-0 .5-0 .5-0 .5-0 .5-.1 .5 0 .5-0 .5-0 .5-.1 .5-0 .5-0 .5-.1 .5-0 .5-.1 .5-0 .5-.1 .5-.1 .5-0 .5-.1 .5-.1 .5-.1 .5-.1 .5-.1 .5-.1 .5-.1 .5-.1 .5-.1 .5-.2 .5-.1 .5-.1 .5-.2 .5-.1 .5-.2 .5-.1 .5-.2 .5-.2 .5-.1 .5-.2 .5-.2 .5-.1 .5-.2 .5-.2 .5-.1 .5-.2 .5-.1 .5-.2 .5-.1 .5-.2 .5-.1 .5-.1 .5-.1 .5-.1 .5-.1 .5-.1 .5-0 .5-.1 .5-0 .5-0 .5-0 .5-0 .5-0 .5 0 .5 .1 .5 0 .5 .1 .5 .1 .5 .1 .5 .1 .5 .1 .5 .2 .5 .1 .5 .1 .5 .2 .5 .2 .5 .1 .5 .2 .5 .2 .5 .1 .5 .2 .5 .2 .5 .2 .5 .1 .5 .2 .5 .2 .5 .1 .5 .2 .5 .2 .5 .1 .5 .2 .5 .1 .5 .2 .5 .1 .5 .1 .5 .2 .5 .1 .5 .1 .5 .1 .5 .1 .5 .1 .5 .1 .5 .1 .5 0 .5 .1 .5 .1 .5 .1 .5 0 .5 .1 .5 0 .5 .1 .5 0 .5 .1 .5-0 .5 0 .5 .1 .5-0 .5 0 .5 0 .5 .1 .5-0 .5-0 .5 0 .5 0 .5 0 .5 .1 .5-0 .5-0 .5-0 .5 0 .5 0 .5 0 .5 0 .5 0 .5 .1 .5-0 .5-0 .5-0 .5-0 .5-0 .5-0 .5-0 .5 0 .5 0 .5 0 .5 0 .5 0 .5 0 .5 0 .5 0 .5 .1 .5-0 .5-0 .5-0 .5-0 .5-0 .5-0 .5-0 .5-0 .5 0 .5 0 .5 0 .5 0 .5 0 .5 0 .5 0 .5 0 .5 0 .5 0 .5 .1 .5-0 .5-0 .5-0 .5-0 .5-0 .5-0" fill="none" stroke="#f82838" stroke-width="1.3" stroke-linejoin="round" stroke-linecap="round"/>
<path d="M138.6 510.3l2 0 2 0 2 .1 2-0 2-0 2 0 2 0 2 .1 2-0 2-0 2 0 2 0 2 .1 2-0 2-0 2 0 2 0 2 0 2 .1 2-0 2 0 2 0 2 0 2 .1 2-0 2-0 2 0 2 0 2 .1 2-0 2-0 2 0 2 0 2 0 2 .1 2-0 2 0 2 0 2 0 2 .1 2-0 2 0 2 0 2 0 2 .1 2-0 2-0 2 0 2 0 2 .1 2-0 2-0 2 0 2 0 2 0 2 .1 2-0 2 0 2 0 2 0 2 .1 2-0 2-0 2 0 2 0 2 .1 2-0 2-0 2 0 2 0 2 0 2 .1 2-0 2 0 2 0 2 0 2 .1 2-0 2 0 2 0 2 0 2 .1 2-0 2-0 2 0 2 0 2 .1 2-0 2-0 .5-0" fill="none" stroke="#e0a008" stroke-width="1.1" stroke-linejoin="round" stroke-linecap="round"/>
<path d="M138.6 509l.5-.6 .5-.4 .5 1.3 .5 1.3 .5-.5 .5-.1 .5-1.2 .5 .8 .5 .1 .5 1.6 .5 1.9 .5-1.3 .5-1.4 .5-.1 .5-.6 .5-.3 .5 1 .5-.1 .5 .4 .5-1.4 .5 .3 .5-.2 .5 1.4 .5-0 .5-.3 .5-.2 .5 .3 .5-.6 .5-.6 .5-.2 .5 .7 .5 .3 .5-1.3 .5-.8 .5 1.4 .5 .4 .5 .9 .5 .3 .5-.6 .5 0 .5 0 .5-.8 .5-1.1 .5 1.6 .5 .3 .5-.7 .5 .6 .5 0 .5 .7 .5 .7 .5 .7 .5-.7 .5 .2 .5-1.5 .5-1.1 .5-.6 .5 .8 .5 .7 .5-.2 .5 .2 .5 .6 .5-.4 .5-1 .5 0 .5 .5 .5 .8 .5 .5 .5-.5 .5 .5 .5-.5 .5 .3 .5 .1 .5 1 .5-1.7 .5-1 .5 .3 .5 1.5 .5-1.2 .5-.4 .5 .7 .5 1.3 .5-1.4 .5 .2 .5 .7 .5-.1 .5-.9 .5 .4 .5-1.1 .5-1.4 .5-.4 .5 .7 .5-.4 .5-.7 .5-1.3 .5-.7 .5 1.9 .5-.7 .5-.3 .5-.1 .5 .7 .5-2 .5 .2 .5 .4 .5-1 .5-.1 .5 .8 .5-1.6 .5-.8 .5 .6 .5-1.4 .5 .4 .5-.9 .5-.8 .5 .5 .5 1.2 .5-.4 .5-.8 .5-1 .5-.7 .5-1.1 .5-.8 .5-.3 .5-.1 .5-1.3 .5 .5 .5 .8 .5-.8 .5-.3 .5-1.4 .5-2.4 .5-.7 .5-.8 .5-1 .5-.9 .5 .4 .5-.4 .5-0 .5-.3 .5-1.8 .5 1.3 .5-.9 .5 .1 .5-1.1 .5-.2 .5-1.1 .5-1.4 .5-1.1 .5-.2 .5 .6 .5 .6 .5 .3 .5-1 .5 .5 .5-1.1 .5-.6 .5-.1 .5 .2 .5-.7 .5-.9 .5 .5 .5 .9 .5-.6 .5-.4 .5 1 .5-1.3 .5-.3 .5 .9 .5-.7 .5 0 .5-.5 .5 .8 .5-.5 .5 1.4 .5-.6 .5 .1 .5-.5 .5-.4 .5-.3 .5 1.3 .5 .3 .5-1 .5-.9 .5 1 .5 .8 .5-1.6 .5 .6 .5 .1 .5-.7 .5 .3 .5-0 .5 1 .5-1 .5 0 .5 .7 .5 .5 .5-.8 .5 1.5 .5 .3 .5 1.2 .5-.2 .5 1.7 .5 .2 .5 .9 .5 .8 .5 .3 .5 .3 .5 .3 .5 .4 .5 1.3 .5 1.1 .5-1.1 .5 1.5 .5 .8 .5 .6 .5 1.1 .5-1.5 .5 1.6 .5-.1 .5 1.9 .5-1.2 .5 1.4 .5 .1 .5 2 .5 1.2 .5 .8 .5 1.1 .5 .1 .5-.3 .5 .1 .5-.6 .5 1.2 .5-.1 .5 2.6 .5 .7 .5 .2 .5 2 .5-1.1 .5-.6 .5 .3 .5-.1 .5 1.2 .5-.5 .5 1.1 .5-1 .5 2 .5 1.4 .5-.3 .5-2 .5 2.2 .5 1.1 .5-1.7 .5-1.4 .5 .6 .5 1.2 .5 .8 .5 .1 .5 .1 .5 .7 .5-.6 .5 .4 .5 1.6 .5-.4 .5-1.5 .5 .1 .5 .6 .5 .7 .5 .5 .5 .5 .5-1.3 .5-.1 .5 .5 .5 .5 .5-1.6 .5-.7 .5 .7 .5 .8 .5 .1 .5 .2 .5-.1 .5 .1 .5-.5 .5 .1 .5-.3 .5 1.2 .5 .5 .5 .4 .5-1 .5 .8 .5-1.2 .5 .7 .5-1.1 .5 1.1 .5-1.1 .5-.5 .5 .9 .5 .2 .5-.3 .5-.3 .5 .3 .5 .6 .5-1 .5 .7 .5-.7 .5-.7 .5 1 .5-.3 .5-0 .5 1.2 .5 .1 .5 .5 .5 .1 .5 .2 .5 .2 .5-1.2 .5-.2 .5 .2 .5-1 .5 .9 .5-.4 .5-.7 .5 .4 .5 0 .5-.5 .5-.3 .5 .2 .5 1.1 .5 2 .5-1.6 .5 1.4 .5-1.5 .5-.6 .5-.3 .5 .7 .5 .5 .5 .2 .5 .1 .5-.5 .5-1 .5 .3 .5 .1 .5 .3 .5-0 .5-1 .5-.2 .5 0 .5 1.4 .5-.6 .5-0 .5-.3 .5-.6 .5 1.2 .5 1.3 .5-1.1 .5 .4 .5-1 .5 .4 .5-1.3" fill="none" stroke="#333" stroke-width="1.0" stroke-linejoin="round" stroke-linecap="round"/>
<path d="M138.6 510.2l.5 0 .5 0 .5 0 .5 0 .5 0 .5 0 .5 0 .5 0 .5 0 .5 0 .5 0 .5 0 .5 0 .5 0 .5 .1 .5-0 .5-0 .5-0 .5-0 .5-0 .5-0 .5-0 .5-0 .5-0 .5-0 .5-0 .5-0 .5-0 .5-0 .5-0 .5-0 .5-0 .5-0 .5 0 .5 0 .5 0 .5 0 .5 0 .5 0 .5 0 .5 0 .5 0 .5 0 .5 0 .5 0 .5 0 .5 0 .5 0 .5 0 .5 0 .5 0 .5 0 .5 0 .5 0 .5-0 .5-0 .5-0 .5-0 .5-0 .5-0 .5-0 .5-.1 .5 0 .5 0 .5 0 .5-0 .5-0 .5-0 .5-.1 .5 0 .5-0 .5-.1 .5 0 .5-0 .5-.1 .5-0 .5-.1 .5-0 .5-.1 .5-.1 .5-0 .5-.1 .5-.1 .5-.1 .5-.1 .5-.1 .5-.1 .5-.1 .5-.2 .5-.1 .5-.2 .5-.1 .5-.2 .5-.2 .5-.2 .5-.2 .5-.2 .5-.2 .5-.2 .5-.3 .5-.3 .5-.2 .5-.3 .5-.3 .5-.3 .5-.4 .5-.3 .5-.4 .5-.3 .5-.4 .5-.4 .5-.4 .5-.4 .5-.5 .5-.4 .5-.5 .5-.5 .5-.4 .5-.5 .5-.5 .5-.6 .5-.5 .5-.5 .5-.6 .5-.5 .5-.6 .5-.6 .5-.6 .5-.6 .5-.6 .5-.6 .5-.6 .5-.6 .5-.6 .5-.6 .5-.6 .5-.6 .5-.6 .5-.5 .5-.6 .5-.6 .5-.5 .5-.5 .5-.5 .5-.4 .5-.4 .5-.4 .5-.4 .5-.4 .5-.3 .5-.2 .5-.3 .5-.2 .5-.2 .5-.1 .5-.1 .5-.1 .5-.1 .5-.1 .5-0 .5-.1 .5-0 .5-0 .5-0 .5-.1 .5 0 .5-0 .5-0 .5-.1 .5-0 .5-.1 .5-.1 .5-0 .5-.1 .5-.1 .5-.1 .5-.1 .5-.1 .5-.1 .5-.1 .5-0 .5-.1 .5-.1 .5 0 .5-0 .5 0 .5 0 .5 .1 .5 .1 .5 .1 .5 .2 .5 .2 .5 .2 .5 .3 .5 .3 .5 .4 .5 .3 .5 .4 .5 .5 .5 .5 .5 .5 .5 .5 .5 .5 .5 .6 .5 .6 .5 .6 .5 .6 .5 .6 .5 .6 .5 .6 .5 .7 .5 .6 .5 .6 .5 .7 .5 .6 .5 .6 .5 .7 .5 .6 .5 .6 .5 .6 .5 .6 .5 .5 .5 .6 .5 .6 .5 .5 .5 .5 .5 .5 .5 .6 .5 .4 .5 .5 .5 .5 .5 .4 .5 .5 .5 .4 .5 .4 .5 .4 .5 .4 .5 .4 .5 .4 .5 .3 .5 .4 .5 .3 .5 .3 .5 .3 .5 .3 .5 .3 .5 .2 .5 .3 .5 .3 .5 .2 .5 .2 .5 .2 .5 .2 .5 .2 .5 .2 .5 .2 .5 .1 .5 .2 .5 .1 .5 .2 .5 .1 .5 .1 .5 .1 .5 .1 .5 .1 .5 .1 .5 .1 .5 .1 .5 .1 .5 0 .5 .1 .5 .1 .5 0 .5 .1 .5 0 .5 .1 .5-0 .5 0 .5 .1 .5-0 .5 0 .5 0 .5 .1 .5-0 .5 0 .5 0 .5 .1 .5-0 .5-0 .5 0 .5 0 .5 0 .5 0 .5 .1 .5-0 .5-0 .5-0 .5-0 .5 0 .5 0 .5 0 .5 0 .5 0 .5 .1 .5-0 .5-0 .5-0 .5-0 .5-0 .5 0 .5 0 .5 0 .5 0 .5 0 .5 0 .5 0 .5 .1 .5-0 .5-0 .5-0 .5-0 .5-0 .5-0 .5 0 .5 0 .5 0 .5 0 .5 0 .5 0 .5 0 .5 0 .5 .1 .5-0 .5-0 .5-0 .5-0 .5-0 .5-0 .5-0 .5 0 .5 0 .5 0 .5 0 .5 0 .5 0 .5 0 .5 0 .5 .1 .5-0 .5-0 .5-0 .5-0 .5-0 .5-0 .5-0 .5-0 .5 0" fill="none" stroke="#14caca" stroke-width="1.8" stroke-linejoin="round" stroke-linecap="round"/>
<text x="141.2" y="387.4" font-size="7.4" class="ax" textLength="14.7" lengthAdjust="spacingAndGlyphs">O 1s</text>
<text x="142.7" y="414" font-size="7.2" class="lb" textLength="13.8" lengthAdjust="spacingAndGlyphs">KPHI</text>
<text x="142.7" y="456.5" font-size="7.2" class="lb" textLength="38.6" lengthAdjust="spacingAndGlyphs">10% BP/KPHI</text>
<text x="144.5" y="496.8" font-size="7.2" class="lb" textLength="41.3" lengthAdjust="spacingAndGlyphs">10% BP/KPHI-</text>
<text x="144.5" y="504.8" font-size="7.2" class="lb" textLength="40.5" lengthAdjust="spacingAndGlyphs">after reaction</text>
<text x="119.9" y="388.6" font-size="12.3" class="pn" textLength="13.6" lengthAdjust="spacingAndGlyphs">(e)</text>
<text x="130.6" y="454.3" font-size="10" class="ax" textLength="20.3" lengthAdjust="spacingAndGlyphs" transform="rotate(-90 130.6 454.3)">CPS</text>
</svg>
</body>
</html>
